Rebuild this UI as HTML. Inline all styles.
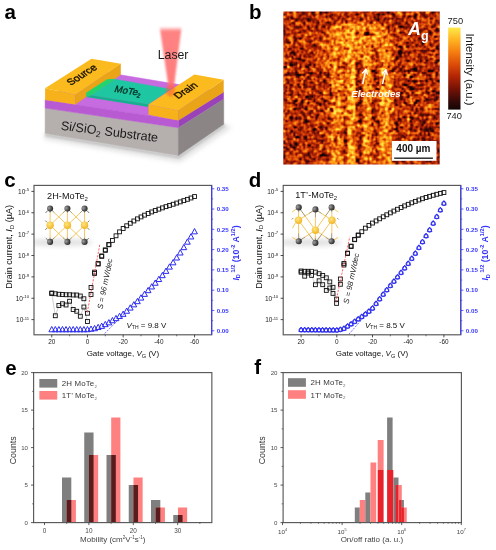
<!DOCTYPE html>
<html lang="en"><head><meta charset="utf-8"><title>MoTe2 transistor figure</title>
<style>html,body{margin:0;padding:0;background:#fff}svg{display:block}text{font-family:"Liberation Sans", sans-serif}</style>
</head><body>
<svg width="496" height="550" viewBox="0 0 496 550">
<rect width="496" height="550" fill="#fff"/>
<defs>
<linearGradient id="beam" x1="0" y1="0" x2="0" y2="1"><stop offset="0" stop-color="#ff7070" stop-opacity="0"/><stop offset="0.08" stop-color="#ff7c7c" stop-opacity="0.95"/><stop offset="1" stop-color="#ff7474" stop-opacity="0.95"/></linearGradient>
<filter id="blur1" x="-20%" y="-20%" width="140%" height="140%"><feGaussianBlur stdDeviation="0.9"/></filter><filter id="blurB" x="-30%" y="-10%" width="160%" height="120%"><feGaussianBlur stdDeviation="1.25"/></filter>
<filter id="blur2" x="-50%" y="-50%" width="200%" height="200%"><feGaussianBlur stdDeviation="2.5"/></filter>
<filter id="blur3" x="-50%" y="-50%" width="200%" height="200%"><feGaussianBlur stdDeviation="3"/></filter>
<radialGradient id="gAtom" cx="0.3" cy="0.4" r="0.75"><stop offset="0" stop-color="#a0a0a0"/><stop offset="0.55" stop-color="#555"/><stop offset="1" stop-color="#1e1e1e"/></radialGradient>
<radialGradient id="yAtom" cx="0.4" cy="0.35" r="0.7"><stop offset="0" stop-color="#ffe680"/><stop offset="1" stop-color="#f0b020"/></radialGradient>
<linearGradient id="cbar" x1="0" y1="0" x2="0" y2="1"><stop offset="0" stop-color="#ffe94a"/><stop offset="0.15" stop-color="#ffb322"/><stop offset="0.3" stop-color="#f57d10"/><stop offset="0.45" stop-color="#dc4c08"/><stop offset="0.6" stop-color="#b02405"/><stop offset="0.75" stop-color="#741205"/><stop offset="0.9" stop-color="#340a08"/><stop offset="1" stop-color="#120505"/></linearGradient>
<filter id="raman" x="0" y="0" width="100%" height="100%" color-interpolation-filters="sRGB"><feTurbulence type="fractalNoise" baseFrequency="0.27" numOctaves="3" seed="11" result="n"/><feColorMatrix in="n" type="matrix" values="2.6 0 0 0 -0.8  2.6 0 0 0 -0.8  2.6 0 0 0 -0.8  0 0 0 0 1" result="ng"/><feGaussianBlur in="SourceGraphic" stdDeviation="1.6" result="s"/><feComposite in="s" in2="ng" operator="arithmetic" k1="0" k2="1" k3="0.52" k4="-0.26" result="m"/><feComponentTransfer in="m"><feFuncR type="table" tableValues="0.05 0.30 0.58 0.80 0.93 0.98 1 1 1"/><feFuncG type="table" tableValues="0.01 0.03 0.09 0.20 0.36 0.55 0.74 0.88 0.95"/><feFuncB type="table" tableValues="0.01 0.01 0.01 0.02 0.03 0.05 0.10 0.22 0.40"/><feFuncA type="linear" slope="0" intercept="1"/></feComponentTransfer></filter>
<filter id="mapblur" x="-2%" y="-2%" width="104%" height="104%" color-interpolation-filters="sRGB"><feConvolveMatrix order="3" kernelMatrix="0 1 0 1 3 1 0 1 0" divisor="7" edgeMode="duplicate" preserveAlpha="true" result="s"/><feTurbulence type="fractalNoise" baseFrequency="0.55" numOctaves="1" seed="4" result="n"/><feColorMatrix in="n" type="matrix" values="1 0 0 0 0  1 0 0 0 0  1 0 0 0 0  0 0 0 0 1" result="ng"/><feComposite in="s" in2="ng" operator="arithmetic" k1="0" k2="1" k3="1.0" k4="-0.5"/><feComponentTransfer><feFuncR type="table" tableValues="0.071 0.137 0.204 0.288 0.371 0.455 0.533 0.612 0.690 0.748 0.805 0.863 0.895 0.928 0.961 0.974 0.987 1.000 1.000 1.000 1.000"/><feFuncG type="table" tableValues="0.020 0.029 0.039 0.050 0.060 0.071 0.094 0.118 0.141 0.193 0.246 0.298 0.362 0.426 0.490 0.561 0.631 0.702 0.773 0.843 0.914"/><feFuncB type="table" tableValues="0.020 0.025 0.031 0.027 0.024 0.020 0.020 0.020 0.020 0.024 0.027 0.031 0.042 0.052 0.063 0.086 0.110 0.133 0.186 0.238 0.290"/><feFuncA type="linear" slope="0" intercept="1"/></feComponentTransfer></filter>
<clipPath id="mapclip"><rect x="283.3" y="11.6" width="156.4" height="152.8"/></clipPath>
<clipPath id="clipc"><rect x="34" y="185.5" width="178" height="149"/></clipPath>
<clipPath id="clipd"><rect x="283.2" y="185.5" width="177.6" height="149"/></clipPath>
</defs>
<text x="4.5" y="19.3" font-size="20.5" font-weight="700" fill="#000">a</text>
<text x="249" y="18.8" font-size="20.5" font-weight="700" fill="#000">b</text>
<text x="4.3" y="187.3" font-size="20.5" font-weight="700" fill="#000">c</text>
<text x="248.8" y="187.3" font-size="20.5" font-weight="700" fill="#000">d</text>
<text x="5.2" y="375.2" font-size="20.5" font-weight="700" fill="#000">e</text>
<text x="254.2" y="374.3" font-size="20.5" font-weight="700" fill="#000">f</text>
<g id="panelA">
<polygon points="45,133 178.4,156 224,125 232,127 180,162 44,139" fill="#d8d8d8" filter="url(#blur2)" opacity="0.8"/>
<polygon points="45.1,133.3 178.4,155.5 223.75,124.3 226,126 179,158.5 45,136.3" fill="#bdbdbd" filter="url(#blur1)" opacity="0.9"/>
<polygon points="45.1,108.1 178.4,127.7 178.4,155.5 45.1,133.3" fill="#b5afad" stroke="#b5afad" stroke-width="0.5"/>
<polygon points="178.4,127.7 223.75,99.1 223.75,124.3 178.4,155.5" fill="#8b8685" stroke="#8b8685" stroke-width="0.5"/>
<polygon points="45.1,100.1 91.5,70 223.75,92 178.4,120.2" fill="#c66be0" stroke="#c66be0" stroke-width="0.5"/>
<polygon points="45.1,100.1 178.4,120.2 178.4,127.7 45.1,108.1" fill="#b85bd2" stroke="#b85bd2" stroke-width="0.5"/>
<polygon points="178.4,120.2 223.75,92 223.75,99.1 178.4,127.7" fill="#9a43b8"/>
<polygon points="115.3,79.2 170.6,89.3 148.4,104.2 91.1,95.3" fill="#1ec7a2" stroke="#1ec7a2" stroke-width="0.4"/>
<polygon points="91.1,95.3 148.4,104.2 148.4,107.0 86.1,97.1" fill="#17b08e"/>
<polygon points="105,77 115.3,79.2 91.1,95.3 86.1,97.1 84,92" fill="#23d46c"/>
<polygon points="159.6,26.5 181.6,26.5 173.9,88 168.7,88" fill="url(#beam)" filter="url(#blurB)"/>
<polygon points="45.1,88.3 75.4,94.8 75.4,104.5 45.1,100.1" fill="#f7b21b"/>
<polygon points="75.4,94.8 120.8,63.6 120.8,74.7 115.3,78.7 107.2,79.2 86.1,92.8 86.1,97.1 75.4,104.5" fill="#e9a418"/>
<polygon points="45.1,88.3 91.5,58.7 120.8,63.7 75.4,94.8" fill="#fbbb1e"/>
<polygon points="148.5,104.4 178.3,110.4 178.3,120.5 148.5,114.8" fill="#f7b21b"/>
<polygon points="178.3,110.4 223.7,79.8 223.7,92.3 178.3,120.5" fill="#e9a418"/>
<polygon points="148.5,104.4 194.4,74.5 223.7,79.8 178.3,110.4" fill="#fbbb1e"/>
<ellipse cx="170.5" cy="90.5" rx="4.5" ry="6" fill="#ff5a3a" opacity="0.55" filter="url(#blur1)"/>
<text x="173.1" y="58.6" font-size="12.3" text-anchor="middle" fill="#1a1a1a">Laser</text>
<text transform="matrix(0.843,-0.538,0.744,0.668,84.3,77.1)" font-size="10.2" text-anchor="middle" fill="#1a1200" stroke="#1a1200" stroke-width="0.4">Source</text>
<text transform="matrix(0.838,-0.546,0.751,0.660,188.3,92.7)" font-size="10.2" text-anchor="middle" fill="#1a1200" stroke="#1a1200" stroke-width="0.4">Drain</text>
<text transform="matrix(0.988,0.153,-0.345,0.939,127.0,93.9)" font-size="9.6" text-anchor="middle" fill="#0b2a22" stroke="#0b2a22" stroke-width="0.3">MoTe<tspan font-size="6" dy="2">2</tspan></text>
<text transform="translate(60.5,129.7) rotate(7.2)" font-size="12.6" fill="#1a1a1a">Si/SiO<tspan font-size="8.5" dy="2.5">2</tspan><tspan dy="-2.5"> Substrate</tspan></text>
</g>
<g id="panelB">
<g clip-path="url(#mapclip)">
<g filter="url(#mapblur)" transform="translate(283.3,11.6) scale(2.00513,2.01053)">
<rect x="-2" y="-2" width="82" height="80" fill="#707070"/>
<path fill="#050505" stroke="#050505" stroke-width="0.08" d="M68 0h1v1h-1zM70 0h1v1h-1zM24 1h1v1h-1zM36 1h1v1h-1zM46 1h1v1h-1zM49 1h2v1h-2zM21 2h1v1h-1zM47 2h1v1h-1zM2 3h1v1h-1zM12 3h1v1h-1zM47 3h1v1h-1zM54 3h1v1h-1zM74 3h1v1h-1zM12 4h1v1h-1zM77 5h1v1h-1zM23 6h1v1h-1zM75 6h1v1h-1zM5 7h1v1h-1zM58 7h1v1h-1zM75 7h1v1h-1zM55 8h1v1h-1zM70 8h1v1h-1zM0 9h1v1h-1zM55 9h1v1h-1zM62 9h1v1h-1zM19 10h1v1h-1zM40 10h3v1h-3zM58 10h1v1h-1zM20 11h1v1h-1zM40 11h3v1h-3zM13 12h1v1h-1zM71 12h1v1h-1zM75 12h2v1h-2zM8 13h1v1h-1zM62 13h1v1h-1zM69 14h1v1h-1zM3 15h1v1h-1zM64 15h1v1h-1zM69 15h1v1h-1zM14 17h1v1h-1zM57 17h2v1h-2zM70 17h1v1h-1zM8 18h1v1h-1zM76 18h1v1h-1zM44 19h1v1h-1zM70 19h1v1h-1zM73 19h1v1h-1zM4 20h1v1h-1zM57 20h1v1h-1zM5 21h1v1h-1zM76 21h1v1h-1zM4 22h1v1h-1zM57 22h2v1h-2zM71 22h1v1h-1zM4 23h1v1h-1zM73 23h1v1h-1zM49 25h1v1h-1zM55 25h1v1h-1zM75 25h2v1h-2zM5 26h1v1h-1zM15 26h1v1h-1zM0 27h2v1h-2zM8 27h1v1h-1zM11 27h2v1h-2zM59 27h1v1h-1zM64 28h2v1h-2zM6 29h1v1h-1zM66 29h1v1h-1zM6 30h1v1h-1zM12 30h3v1h-3zM22 30h1v1h-1zM46 30h1v1h-1zM69 30h1v1h-1zM7 31h1v1h-1zM22 31h1v1h-1zM60 31h1v1h-1zM12 32h1v1h-1zM63 32h1v1h-1zM13 33h1v1h-1zM15 33h1v1h-1zM61 33h1v1h-1zM73 33h1v1h-1zM10 34h1v1h-1zM20 34h1v1h-1zM62 34h1v1h-1zM65 34h1v1h-1zM71 34h1v1h-1zM74 34h1v1h-1zM77 34h1v1h-1zM10 35h1v1h-1zM47 35h1v1h-1zM7 36h1v1h-1zM10 36h1v1h-1zM60 36h2v1h-2zM8 37h1v1h-1zM62 37h2v1h-2zM36 38h1v1h-1zM38 38h1v1h-1zM59 38h1v1h-1zM64 38h2v1h-2zM74 39h2v1h-2zM14 40h1v1h-1zM76 40h1v1h-1zM7 41h1v1h-1zM11 42h1v1h-1zM14 42h1v1h-1zM72 42h1v1h-1zM76 42h1v1h-1zM12 43h1v1h-1zM15 43h1v1h-1zM60 43h1v1h-1zM6 44h1v1h-1zM9 44h1v1h-1zM15 44h1v1h-1zM20 44h1v1h-1zM66 44h1v1h-1zM5 45h1v1h-1zM12 45h1v1h-1zM38 45h1v1h-1zM44 45h1v1h-1zM66 45h1v1h-1zM6 46h1v1h-1zM18 46h1v1h-1zM37 46h1v1h-1zM56 46h1v1h-1zM63 46h1v1h-1zM65 46h1v1h-1zM5 48h1v1h-1zM11 48h1v1h-1zM24 49h1v1h-1zM67 49h1v1h-1zM2 50h1v1h-1zM49 50h1v1h-1zM38 51h2v1h-2zM57 51h1v1h-1zM75 51h1v1h-1zM44 52h1v1h-1zM63 52h1v1h-1zM11 53h1v1h-1zM71 53h1v1h-1zM1 54h1v1h-1zM11 54h1v1h-1zM37 54h2v1h-2zM57 54h1v1h-1zM56 55h1v1h-1zM58 55h1v1h-1zM70 55h1v1h-1zM21 57h1v1h-1zM58 57h2v1h-2zM76 57h2v1h-2zM7 58h1v1h-1zM15 58h1v1h-1zM55 58h1v1h-1zM68 58h1v1h-1zM73 58h1v1h-1zM4 59h1v1h-1zM30 59h1v1h-1zM72 59h3v1h-3zM5 60h1v1h-1zM15 60h1v1h-1zM17 60h1v1h-1zM38 60h1v1h-1zM70 60h1v1h-1zM72 60h1v1h-1zM5 61h1v1h-1zM46 61h1v1h-1zM61 61h1v1h-1zM6 62h2v1h-2zM11 62h1v1h-1zM57 62h1v1h-1zM3 63h1v1h-1zM16 63h1v1h-1zM67 63h1v1h-1zM70 63h1v1h-1zM0 64h1v1h-1zM46 64h1v1h-1zM19 65h1v1h-1zM72 65h1v1h-1zM74 65h1v1h-1zM3 66h1v1h-1zM6 66h1v1h-1zM12 66h1v1h-1zM38 66h1v1h-1zM55 66h1v1h-1zM63 66h2v1h-2zM0 67h1v1h-1zM5 67h1v1h-1zM55 67h1v1h-1zM63 67h1v1h-1zM7 68h1v1h-1zM37 68h1v1h-1zM73 68h1v1h-1zM0 69h1v1h-1zM54 69h1v1h-1zM77 69h1v1h-1zM9 70h1v1h-1zM12 70h1v1h-1zM38 71h1v1h-1zM58 71h1v1h-1zM65 71h1v1h-1zM45 72h1v1h-1zM15 73h1v1h-1zM37 73h1v1h-1zM37 74h1v1h-1zM56 74h1v1h-1zM59 74h1v1h-1zM71 74h1v1h-1zM73 74h1v1h-1z"/>
<path fill="#101010" stroke="#101010" stroke-width="0.08" d="M14 0h1v1h-1zM75 0h1v1h-1zM66 1h1v1h-1zM55 2h1v1h-1zM4 3h1v1h-1zM73 3h1v1h-1zM34 4h1v1h-1zM59 4h1v1h-1zM76 4h1v1h-1zM22 5h1v1h-1zM12 7h1v1h-1zM57 7h1v1h-1zM64 7h1v1h-1zM66 11h1v1h-1zM0 12h1v1h-1zM61 15h2v1h-2zM5 19h1v1h-1zM57 19h1v1h-1zM58 21h1v1h-1zM10 22h1v1h-1zM56 22h1v1h-1zM6 23h1v1h-1zM8 23h1v1h-1zM45 23h1v1h-1zM68 23h1v1h-1zM62 24h1v1h-1zM68 24h1v1h-1zM5 25h1v1h-1zM12 26h2v1h-2zM66 28h1v1h-1zM37 29h1v1h-1zM60 29h1v1h-1zM74 29h1v1h-1zM7 30h1v1h-1zM70 30h1v1h-1zM20 31h1v1h-1zM76 31h1v1h-1zM64 32h1v1h-1zM9 33h1v1h-1zM45 33h1v1h-1zM55 33h1v1h-1zM74 33h1v1h-1zM8 34h1v1h-1zM69 34h1v1h-1zM2 35h1v1h-1zM67 36h1v1h-1zM46 38h1v1h-1zM68 38h1v1h-1zM1 39h1v1h-1zM4 39h1v1h-1zM23 40h1v1h-1zM30 41h1v1h-1zM59 42h1v1h-1zM77 42h1v1h-1zM19 43h1v1h-1zM67 44h1v1h-1zM16 45h1v1h-1zM60 45h1v1h-1zM45 46h1v1h-1zM44 48h1v1h-1zM77 48h1v1h-1zM69 53h1v1h-1zM47 54h1v1h-1zM63 54h1v1h-1zM44 55h1v1h-1zM76 55h1v1h-1zM8 57h1v1h-1zM20 57h1v1h-1zM21 58h1v1h-1zM70 59h1v1h-1zM27 60h1v1h-1zM68 61h1v1h-1zM72 61h1v1h-1zM10 63h1v1h-1zM11 64h1v1h-1zM31 64h1v1h-1zM65 64h1v1h-1zM75 64h1v1h-1zM64 65h1v1h-1zM16 67h1v1h-1zM73 67h1v1h-1zM18 69h1v1h-1zM18 71h1v1h-1zM21 71h1v1h-1zM10 72h1v1h-1zM77 72h1v1h-1zM17 73h1v1h-1zM36 73h1v1h-1zM59 73h1v1h-1zM73 73h1v1h-1zM60 74h1v1h-1z"/>
<path fill="#1b1b1b" stroke="#1b1b1b" stroke-width="0.08" d="M18 0h1v1h-1zM52 0h1v1h-1zM37 1h1v1h-1zM45 1h1v1h-1zM32 2h1v1h-1zM45 2h1v1h-1zM5 3h1v1h-1zM38 3h1v1h-1zM50 3h1v1h-1zM58 3h1v1h-1zM1 5h1v1h-1zM17 5h1v1h-1zM68 5h1v1h-1zM59 7h1v1h-1zM66 7h1v1h-1zM52 8h1v1h-1zM71 8h1v1h-1zM76 8h1v1h-1zM14 9h1v1h-1zM52 9h1v1h-1zM59 10h1v1h-1zM76 14h1v1h-1zM16 17h1v1h-1zM44 17h1v1h-1zM61 17h1v1h-1zM56 18h1v1h-1zM16 20h1v1h-1zM60 20h1v1h-1zM62 21h1v1h-1zM8 22h1v1h-1zM13 22h1v1h-1zM10 24h1v1h-1zM77 24h1v1h-1zM1 25h1v1h-1zM3 26h2v1h-2zM57 26h1v1h-1zM18 27h1v1h-1zM56 27h1v1h-1zM44 29h1v1h-1zM72 29h1v1h-1zM62 30h1v1h-1zM8 31h1v1h-1zM71 31h1v1h-1zM71 32h1v1h-1zM68 34h1v1h-1zM38 35h1v1h-1zM74 35h1v1h-1zM23 36h1v1h-1zM36 36h2v1h-2zM10 37h1v1h-1zM56 37h1v1h-1zM65 37h1v1h-1zM14 38h1v1h-1zM39 38h1v1h-1zM47 38h1v1h-1zM63 38h1v1h-1zM17 39h1v1h-1zM60 39h1v1h-1zM71 39h1v1h-1zM2 41h1v1h-1zM23 41h1v1h-1zM38 42h1v1h-1zM9 45h1v1h-1zM37 45h1v1h-1zM65 45h1v1h-1zM9 46h1v1h-1zM64 47h1v1h-1zM66 48h1v1h-1zM2 49h1v1h-1zM7 49h1v1h-1zM13 51h1v1h-1zM3 52h1v1h-1zM14 52h1v1h-1zM61 52h1v1h-1zM6 53h1v1h-1zM45 54h1v1h-1zM65 54h1v1h-1zM68 54h1v1h-1zM47 55h1v1h-1zM55 55h1v1h-1zM74 55h1v1h-1zM64 56h1v1h-1zM69 56h1v1h-1zM66 57h1v1h-1zM74 58h1v1h-1zM19 61h1v1h-1zM44 61h1v1h-1zM56 61h1v1h-1zM19 62h1v1h-1zM60 62h1v1h-1zM74 62h1v1h-1zM38 63h1v1h-1zM47 65h1v1h-1zM57 65h2v1h-2zM63 65h1v1h-1zM74 66h1v1h-1zM14 67h1v1h-1zM77 68h1v1h-1zM4 69h1v1h-1zM16 70h1v1h-1zM19 71h2v1h-2zM47 71h1v1h-1zM13 72h1v1h-1zM8 73h1v1h-1zM72 73h1v1h-1zM11 74h1v1h-1zM55 74h1v1h-1z"/>
<path fill="#252525" stroke="#252525" stroke-width="0.08" d="M10 0h1v1h-1zM74 0h1v1h-1zM40 1h1v1h-1zM70 1h2v1h-2zM74 1h1v1h-1zM13 2h1v1h-1zM28 2h1v1h-1zM60 2h1v1h-1zM41 3h1v1h-1zM59 3h1v1h-1zM13 4h1v1h-1zM61 4h1v1h-1zM51 5h1v1h-1zM21 6h1v1h-1zM61 7h1v1h-1zM12 8h1v1h-1zM63 8h1v1h-1zM7 10h2v1h-2zM68 10h1v1h-1zM74 10h1v1h-1zM0 11h1v1h-1zM63 11h1v1h-1zM56 12h1v1h-1zM1 13h1v1h-1zM65 14h1v1h-1zM2 15h1v1h-1zM73 15h1v1h-1zM15 16h1v1h-1zM15 18h1v1h-1zM77 18h1v1h-1zM20 19h1v1h-1zM67 19h3v1h-3zM3 20h1v1h-1zM9 20h1v1h-1zM1 21h1v1h-1zM56 21h2v1h-2zM67 21h1v1h-1zM70 22h1v1h-1zM46 24h1v1h-1zM3 25h1v1h-1zM66 25h1v1h-1zM68 25h1v1h-1zM8 26h1v1h-1zM65 26h1v1h-1zM56 28h1v1h-1zM45 29h1v1h-1zM65 29h1v1h-1zM20 30h1v1h-1zM37 30h1v1h-1zM6 31h1v1h-1zM6 32h1v1h-1zM37 34h1v1h-1zM57 34h1v1h-1zM20 35h2v1h-2zM3 36h2v1h-2zM11 36h1v1h-1zM46 36h1v1h-1zM1 37h1v1h-1zM7 37h1v1h-1zM15 37h1v1h-1zM38 37h1v1h-1zM20 38h1v1h-1zM23 38h1v1h-1zM67 38h1v1h-1zM72 38h1v1h-1zM39 39h1v1h-1zM4 40h1v1h-1zM18 40h1v1h-1zM58 40h2v1h-2zM64 40h1v1h-1zM72 40h1v1h-1zM65 41h1v1h-1zM7 42h1v1h-1zM13 43h1v1h-1zM64 43h1v1h-1zM55 44h1v1h-1zM70 44h1v1h-1zM4 45h1v1h-1zM55 45h1v1h-1zM61 45h1v1h-1zM8 46h1v1h-1zM62 46h1v1h-1zM9 47h1v1h-1zM7 48h1v1h-1zM68 48h1v1h-1zM16 49h1v1h-1zM18 49h1v1h-1zM44 49h1v1h-1zM66 49h1v1h-1zM63 50h1v1h-1zM17 51h1v1h-1zM6 52h1v1h-1zM10 52h1v1h-1zM22 52h1v1h-1zM60 52h1v1h-1zM16 53h1v1h-1zM30 53h1v1h-1zM57 53h1v1h-1zM76 53h1v1h-1zM12 54h1v1h-1zM46 54h1v1h-1zM70 54h1v1h-1zM22 55h1v1h-1zM77 55h1v1h-1zM44 56h1v1h-1zM5 57h2v1h-2zM12 57h1v1h-1zM17 57h1v1h-1zM19 57h1v1h-1zM74 57h1v1h-1zM31 58h1v1h-1zM56 58h1v1h-1zM12 59h1v1h-1zM57 59h1v1h-1zM8 61h1v1h-1zM57 61h1v1h-1zM59 61h1v1h-1zM69 61h1v1h-1zM0 62h1v1h-1zM15 63h1v1h-1zM57 63h1v1h-1zM71 63h1v1h-1zM19 64h1v1h-1zM30 64h1v1h-1zM37 64h1v1h-1zM59 64h1v1h-1zM0 65h1v1h-1zM6 65h1v1h-1zM30 65h1v1h-1zM61 65h1v1h-1zM10 66h1v1h-1zM13 66h1v1h-1zM31 66h1v1h-1zM37 66h1v1h-1zM45 66h1v1h-1zM10 67h1v1h-1zM62 67h1v1h-1zM59 68h1v1h-1zM30 69h1v1h-1zM19 70h1v1h-1zM31 70h1v1h-1zM75 70h1v1h-1zM74 71h2v1h-2zM10 73h1v1h-1zM30 73h1v1h-1zM38 73h1v1h-1zM60 73h1v1h-1zM12 74h3v1h-3zM77 74h1v1h-1z"/>
<path fill="#303030" stroke="#303030" stroke-width="0.08" d="M15 0h1v1h-1zM20 0h3v1h-3zM10 1h1v1h-1zM47 1h1v1h-1zM2 2h1v1h-1zM38 2h1v1h-1zM46 2h1v1h-1zM63 2h1v1h-1zM75 2h1v1h-1zM6 4h1v1h-1zM27 4h1v1h-1zM29 4h1v1h-1zM31 4h1v1h-1zM50 4h1v1h-1zM64 4h1v1h-1zM21 5h1v1h-1zM61 5h1v1h-1zM65 5h1v1h-1zM73 5h1v1h-1zM3 6h1v1h-1zM5 6h1v1h-1zM10 6h1v1h-1zM54 6h1v1h-1zM4 7h1v1h-1zM52 7h1v1h-1zM5 8h1v1h-1zM22 8h1v1h-1zM61 8h1v1h-1zM64 8h2v1h-2zM73 9h1v1h-1zM67 10h1v1h-1zM73 10h1v1h-1zM55 11h1v1h-1zM68 11h1v1h-1zM6 13h1v1h-1zM12 13h1v1h-1zM15 13h1v1h-1zM58 13h1v1h-1zM68 13h1v1h-1zM57 14h1v1h-1zM2 18h1v1h-1zM12 18h1v1h-1zM45 18h1v1h-1zM58 19h1v1h-1zM72 19h1v1h-1zM8 21h1v1h-1zM12 21h1v1h-1zM46 21h1v1h-1zM60 21h1v1h-1zM46 22h1v1h-1zM77 22h1v1h-1zM56 23h1v1h-1zM61 23h1v1h-1zM61 24h1v1h-1zM19 25h1v1h-1zM49 26h1v1h-1zM15 27h1v1h-1zM66 27h1v1h-1zM74 27h1v1h-1zM12 28h1v1h-1zM37 28h1v1h-1zM55 28h1v1h-1zM60 28h1v1h-1zM63 28h1v1h-1zM76 28h1v1h-1zM54 29h1v1h-1zM62 29h1v1h-1zM64 29h1v1h-1zM2 30h1v1h-1zM45 30h1v1h-1zM76 30h1v1h-1zM5 31h1v1h-1zM17 31h2v1h-2zM21 31h1v1h-1zM65 31h1v1h-1zM72 31h1v1h-1zM7 32h1v1h-1zM17 32h1v1h-1zM47 32h1v1h-1zM1 33h1v1h-1zM46 33h2v1h-2zM63 33h1v1h-1zM17 34h1v1h-1zM66 34h1v1h-1zM50 36h1v1h-1zM37 37h1v1h-1zM66 38h1v1h-1zM12 40h1v1h-1zM56 40h1v1h-1zM62 40h1v1h-1zM77 40h1v1h-1zM3 41h1v1h-1zM14 41h1v1h-1zM19 41h1v1h-1zM62 41h1v1h-1zM72 41h1v1h-1zM76 41h1v1h-1zM12 42h1v1h-1zM60 42h1v1h-1zM62 42h1v1h-1zM75 42h1v1h-1zM38 43h1v1h-1zM75 43h1v1h-1zM5 44h1v1h-1zM38 44h1v1h-1zM75 44h1v1h-1zM1 45h1v1h-1zM71 45h2v1h-2zM1 50h1v1h-1zM57 50h1v1h-1zM67 50h1v1h-1zM22 51h1v1h-1zM68 51h1v1h-1zM72 51h1v1h-1zM76 51h1v1h-1zM13 52h1v1h-1zM30 52h1v1h-1zM10 53h1v1h-1zM38 53h1v1h-1zM70 53h1v1h-1zM2 54h1v1h-1zM56 54h1v1h-1zM58 54h1v1h-1zM13 55h1v1h-1zM16 56h1v1h-1zM30 56h1v1h-1zM56 56h1v1h-1zM74 56h1v1h-1zM76 56h1v1h-1zM71 57h1v1h-1zM1 58h1v1h-1zM11 58h1v1h-1zM19 58h1v1h-1zM71 59h1v1h-1zM14 60h1v1h-1zM68 60h1v1h-1zM39 61h1v1h-1zM66 61h1v1h-1zM38 62h1v1h-1zM67 62h1v1h-1zM11 63h1v1h-1zM56 63h1v1h-1zM65 63h1v1h-1zM2 64h1v1h-1zM45 64h1v1h-1zM70 64h1v1h-1zM2 65h1v1h-1zM31 65h1v1h-1zM55 65h1v1h-1zM59 65h1v1h-1zM5 66h1v1h-1zM16 66h1v1h-1zM1 67h1v1h-1zM37 67h1v1h-1zM58 67h1v1h-1zM74 67h2v1h-2zM19 68h1v1h-1zM56 68h1v1h-1zM71 68h1v1h-1zM59 69h1v1h-1zM14 70h1v1h-1zM30 70h1v1h-1zM73 70h1v1h-1zM6 71h1v1h-1zM14 71h1v1h-1zM57 71h1v1h-1zM73 71h1v1h-1zM54 72h1v1h-1zM60 72h1v1h-1zM69 73h1v1h-1zM71 73h1v1h-1zM76 73h1v1h-1zM1 74h1v1h-1zM31 74h1v1h-1zM67 74h1v1h-1z"/>
<path fill="#3a3a3a" stroke="#3a3a3a" stroke-width="0.08" d="M53 0h1v1h-1zM63 0h1v1h-1zM11 1h1v1h-1zM15 1h1v1h-1zM28 1h1v1h-1zM30 1h1v1h-1zM53 1h1v1h-1zM55 1h1v1h-1zM15 2h1v1h-1zM33 2h1v1h-1zM54 2h1v1h-1zM65 2h1v1h-1zM29 3h1v1h-1zM45 3h1v1h-1zM56 3h1v1h-1zM26 4h1v1h-1zM38 4h1v1h-1zM47 4h1v1h-1zM56 4h1v1h-1zM58 4h1v1h-1zM10 5h1v1h-1zM31 5h1v1h-1zM56 5h1v1h-1zM18 6h1v1h-1zM49 6h1v1h-1zM57 6h1v1h-1zM69 6h1v1h-1zM10 7h1v1h-1zM20 7h1v1h-1zM46 7h1v1h-1zM74 7h1v1h-1zM4 9h1v1h-1zM49 9h1v1h-1zM4 10h1v1h-1zM20 10h1v1h-1zM37 10h1v1h-1zM60 10h1v1h-1zM9 11h1v1h-1zM5 12h1v1h-1zM63 14h1v1h-1zM5 15h1v1h-1zM67 15h1v1h-1zM8 16h1v1h-1zM14 16h1v1h-1zM56 16h1v1h-1zM1 17h1v1h-1zM4 17h2v1h-2zM56 17h1v1h-1zM76 17h1v1h-1zM0 18h1v1h-1zM3 18h1v1h-1zM9 18h1v1h-1zM30 18h1v1h-1zM59 18h1v1h-1zM72 18h1v1h-1zM63 19h1v1h-1zM74 19h1v1h-1zM5 20h1v1h-1zM11 20h1v1h-1zM58 20h1v1h-1zM3 21h1v1h-1zM47 21h1v1h-1zM74 21h1v1h-1zM77 21h1v1h-1zM11 22h1v1h-1zM67 22h1v1h-1zM7 23h1v1h-1zM65 23h1v1h-1zM9 24h1v1h-1zM38 24h1v1h-1zM54 24h1v1h-1zM71 24h1v1h-1zM4 25h1v1h-1zM14 25h1v1h-1zM58 25h1v1h-1zM70 25h1v1h-1zM31 26h1v1h-1zM74 26h1v1h-1zM30 27h1v1h-1zM60 27h1v1h-1zM69 27h1v1h-1zM18 28h1v1h-1zM69 28h1v1h-1zM77 28h1v1h-1zM17 29h1v1h-1zM73 29h1v1h-1zM18 30h1v1h-1zM10 31h1v1h-1zM45 31h1v1h-1zM18 32h1v1h-1zM22 32h1v1h-1zM55 32h1v1h-1zM65 32h1v1h-1zM36 33h1v1h-1zM75 33h1v1h-1zM50 34h1v1h-1zM64 34h1v1h-1zM1 35h1v1h-1zM13 35h1v1h-1zM46 35h1v1h-1zM55 35h1v1h-1zM63 35h1v1h-1zM49 36h1v1h-1zM59 36h1v1h-1zM58 37h1v1h-1zM15 38h1v1h-1zM75 38h1v1h-1zM3 39h1v1h-1zM23 39h1v1h-1zM36 39h1v1h-1zM43 39h1v1h-1zM0 40h1v1h-1zM44 40h1v1h-1zM46 40h1v1h-1zM61 40h1v1h-1zM1 41h1v1h-1zM66 41h1v1h-1zM26 42h1v1h-1zM36 42h1v1h-1zM70 42h1v1h-1zM59 43h1v1h-1zM71 43h1v1h-1zM73 43h1v1h-1zM76 43h1v1h-1zM21 44h1v1h-1zM44 44h1v1h-1zM71 44h1v1h-1zM73 44h1v1h-1zM3 45h1v1h-1zM20 45h1v1h-1zM20 46h1v1h-1zM61 46h1v1h-1zM11 47h1v1h-1zM45 47h1v1h-1zM6 48h1v1h-1zM21 48h1v1h-1zM36 48h1v1h-1zM64 48h1v1h-1zM75 48h2v1h-2zM9 49h1v1h-1zM8 50h1v1h-1zM10 50h1v1h-1zM13 50h2v1h-2zM68 50h1v1h-1zM10 51h1v1h-1zM1 52h1v1h-1zM4 52h1v1h-1zM54 52h1v1h-1zM75 52h1v1h-1zM19 53h1v1h-1zM23 53h1v1h-1zM45 53h1v1h-1zM55 53h1v1h-1zM58 53h1v1h-1zM40 54h1v1h-1zM73 54h1v1h-1zM10 55h1v1h-1zM30 55h1v1h-1zM68 55h1v1h-1zM11 56h1v1h-1zM20 56h1v1h-1zM47 56h1v1h-1zM71 56h1v1h-1zM7 57h1v1h-1zM16 58h1v1h-1zM22 59h1v1h-1zM53 59h1v1h-1zM64 59h1v1h-1zM30 60h2v1h-2zM46 60h1v1h-1zM60 60h1v1h-1zM2 61h1v1h-1zM38 61h1v1h-1zM45 61h1v1h-1zM8 62h1v1h-1zM26 62h1v1h-1zM30 62h1v1h-1zM2 63h1v1h-1zM9 63h1v1h-1zM13 63h1v1h-1zM66 63h1v1h-1zM74 63h1v1h-1zM18 65h1v1h-1zM38 65h1v1h-1zM17 66h1v1h-1zM76 66h1v1h-1zM4 67h1v1h-1zM20 68h1v1h-1zM44 68h1v1h-1zM28 69h1v1h-1zM6 70h1v1h-1zM54 70h1v1h-1zM0 71h1v1h-1zM56 71h1v1h-1zM77 71h1v1h-1zM0 72h1v1h-1zM16 72h1v1h-1zM18 72h1v1h-1zM61 72h1v1h-1zM76 72h1v1h-1zM11 73h1v1h-1zM46 73h1v1h-1zM74 73h1v1h-1zM30 74h1v1h-1zM36 74h1v1h-1zM57 74h1v1h-1zM2 75h1v1h-1zM11 75h1v1h-1zM38 75h1v1h-1zM56 75h1v1h-1z"/>
<path fill="#454545" stroke="#454545" stroke-width="0.08" d="M6 0h2v1h-2zM54 0h1v1h-1zM0 1h1v1h-1zM8 1h1v1h-1zM54 1h1v1h-1zM4 2h1v1h-1zM8 2h1v1h-1zM10 2h1v1h-1zM23 2h1v1h-1zM56 2h1v1h-1zM9 3h1v1h-1zM11 3h1v1h-1zM13 3h2v1h-2zM24 3h1v1h-1zM30 3h1v1h-1zM39 3h1v1h-1zM52 3h1v1h-1zM57 3h1v1h-1zM65 3h1v1h-1zM7 4h1v1h-1zM16 4h2v1h-2zM55 4h1v1h-1zM67 4h1v1h-1zM4 5h1v1h-1zM16 5h1v1h-1zM20 5h1v1h-1zM23 5h1v1h-1zM29 5h1v1h-1zM43 5h1v1h-1zM8 6h1v1h-1zM60 6h1v1h-1zM3 7h1v1h-1zM60 7h1v1h-1zM7 8h1v1h-1zM41 8h1v1h-1zM54 8h1v1h-1zM8 9h1v1h-1zM19 9h1v1h-1zM64 9h1v1h-1zM72 11h1v1h-1zM55 12h1v1h-1zM69 13h1v1h-1zM6 14h1v1h-1zM15 14h1v1h-1zM17 14h1v1h-1zM1 15h1v1h-1zM68 15h1v1h-1zM44 16h1v1h-1zM59 17h1v1h-1zM66 17h1v1h-1zM68 17h1v1h-1zM16 18h1v1h-1zM51 19h1v1h-1zM64 19h2v1h-2zM71 19h1v1h-1zM14 20h1v1h-1zM40 20h1v1h-1zM59 20h1v1h-1zM14 21h1v1h-1zM68 21h1v1h-1zM71 21h1v1h-1zM3 22h1v1h-1zM47 22h1v1h-1zM69 22h1v1h-1zM5 23h1v1h-1zM55 24h1v1h-1zM60 24h1v1h-1zM76 24h1v1h-1zM2 25h1v1h-1zM8 25h1v1h-1zM11 25h1v1h-1zM13 25h1v1h-1zM37 25h1v1h-1zM6 26h1v1h-1zM14 27h1v1h-1zM46 27h1v1h-1zM48 27h1v1h-1zM52 27h1v1h-1zM57 27h1v1h-1zM68 27h1v1h-1zM76 27h2v1h-2zM17 28h1v1h-1zM31 28h1v1h-1zM36 28h1v1h-1zM38 28h1v1h-1zM68 28h1v1h-1zM22 29h1v1h-1zM57 29h1v1h-1zM3 30h1v1h-1zM5 30h1v1h-1zM15 30h1v1h-1zM30 30h1v1h-1zM38 30h1v1h-1zM59 30h1v1h-1zM9 31h1v1h-1zM13 32h1v1h-1zM76 32h1v1h-1zM17 33h1v1h-1zM57 33h1v1h-1zM72 33h1v1h-1zM77 33h1v1h-1zM63 34h1v1h-1zM14 35h1v1h-1zM75 35h1v1h-1zM0 36h1v1h-1zM17 36h1v1h-1zM20 36h1v1h-1zM42 36h1v1h-1zM68 36h1v1h-1zM3 37h1v1h-1zM11 37h1v1h-1zM14 37h1v1h-1zM20 37h1v1h-1zM72 37h1v1h-1zM71 38h1v1h-1zM74 38h1v1h-1zM7 40h1v1h-1zM17 40h1v1h-1zM20 41h1v1h-1zM74 41h1v1h-1zM19 42h1v1h-1zM44 42h1v1h-1zM54 42h1v1h-1zM61 42h1v1h-1zM73 42h1v1h-1zM72 43h1v1h-1zM45 44h1v1h-1zM64 44h1v1h-1zM8 45h1v1h-1zM56 45h1v1h-1zM14 46h1v1h-1zM36 46h1v1h-1zM38 46h1v1h-1zM1 47h1v1h-1zM6 47h1v1h-1zM30 47h1v1h-1zM69 47h1v1h-1zM8 48h1v1h-1zM23 48h1v1h-1zM45 48h1v1h-1zM67 48h1v1h-1zM0 49h1v1h-1zM17 49h1v1h-1zM19 49h1v1h-1zM68 49h1v1h-1zM33 50h1v1h-1zM44 50h2v1h-2zM65 50h1v1h-1zM37 51h1v1h-1zM63 51h1v1h-1zM67 51h1v1h-1zM11 52h1v1h-1zM16 52h1v1h-1zM45 52h1v1h-1zM59 52h1v1h-1zM64 52h1v1h-1zM69 52h1v1h-1zM77 52h1v1h-1zM8 53h1v1h-1zM22 53h1v1h-1zM64 53h1v1h-1zM67 53h1v1h-1zM10 54h1v1h-1zM13 54h1v1h-1zM24 54h1v1h-1zM11 55h1v1h-1zM36 55h1v1h-1zM13 56h1v1h-1zM57 56h1v1h-1zM63 56h1v1h-1zM47 57h1v1h-1zM54 57h1v1h-1zM67 57h2v1h-2zM14 58h1v1h-1zM63 58h1v1h-1zM8 59h1v1h-1zM15 59h1v1h-1zM17 59h1v1h-1zM47 59h1v1h-1zM65 59h1v1h-1zM7 60h1v1h-1zM47 60h1v1h-1zM63 60h1v1h-1zM14 61h1v1h-1zM20 61h1v1h-1zM63 61h1v1h-1zM70 61h1v1h-1zM10 62h1v1h-1zM18 62h1v1h-1zM44 62h1v1h-1zM56 62h1v1h-1zM70 62h1v1h-1zM6 63h1v1h-1zM46 63h1v1h-1zM64 63h1v1h-1zM6 64h1v1h-1zM21 64h1v1h-1zM77 64h1v1h-1zM3 65h1v1h-1zM5 65h1v1h-1zM65 65h1v1h-1zM67 65h1v1h-1zM30 66h1v1h-1zM56 66h1v1h-1zM59 66h1v1h-1zM3 67h1v1h-1zM6 67h1v1h-1zM54 67h1v1h-1zM60 67h1v1h-1zM1 68h2v1h-2zM30 68h1v1h-1zM46 68h1v1h-1zM1 69h1v1h-1zM61 69h1v1h-1zM66 69h1v1h-1zM38 70h1v1h-1zM47 70h1v1h-1zM67 70h1v1h-1zM77 70h1v1h-1zM2 71h1v1h-1zM13 71h1v1h-1zM15 71h1v1h-1zM45 71h2v1h-2zM17 72h1v1h-1zM0 73h1v1h-1zM12 73h1v1h-1zM21 73h1v1h-1zM75 73h1v1h-1zM15 74h1v1h-1zM46 74h1v1h-1zM1 75h1v1h-1zM12 75h1v1h-1zM61 75h1v1h-1zM70 75h1v1h-1z"/>
<path fill="#505050" stroke="#505050" stroke-width="0.08" d="M12 0h1v1h-1zM23 0h1v1h-1zM31 0h1v1h-1zM41 0h1v1h-1zM60 0h1v1h-1zM16 1h1v1h-1zM18 1h2v1h-2zM33 1h1v1h-1zM48 1h1v1h-1zM52 1h1v1h-1zM65 1h1v1h-1zM25 2h1v1h-1zM52 2h1v1h-1zM59 2h1v1h-1zM66 2h1v1h-1zM70 2h2v1h-2zM74 2h1v1h-1zM6 3h1v1h-1zM10 3h1v1h-1zM70 3h1v1h-1zM9 4h1v1h-1zM20 4h1v1h-1zM42 4h1v1h-1zM7 5h1v1h-1zM13 5h1v1h-1zM19 5h1v1h-1zM64 5h1v1h-1zM19 6h1v1h-1zM56 6h1v1h-1zM11 7h1v1h-1zM16 7h1v1h-1zM29 7h1v1h-1zM42 7h1v1h-1zM51 7h1v1h-1zM54 7h1v1h-1zM0 8h1v1h-1zM6 8h1v1h-1zM68 8h1v1h-1zM77 8h1v1h-1zM1 9h1v1h-1zM15 9h1v1h-1zM61 9h1v1h-1zM69 9h1v1h-1zM75 9h1v1h-1zM9 10h2v1h-2zM52 10h1v1h-1zM63 10h1v1h-1zM67 11h1v1h-1zM70 11h2v1h-2zM7 12h1v1h-1zM11 12h1v1h-1zM77 12h1v1h-1zM7 13h1v1h-1zM18 13h2v1h-2zM1 14h1v1h-1zM14 14h1v1h-1zM22 14h1v1h-1zM70 14h1v1h-1zM13 15h1v1h-1zM55 15h1v1h-1zM4 16h2v1h-2zM48 16h1v1h-1zM66 16h1v1h-1zM69 16h1v1h-1zM73 16h1v1h-1zM6 17h1v1h-1zM15 17h1v1h-1zM17 17h1v1h-1zM48 17h1v1h-1zM62 17h1v1h-1zM77 17h1v1h-1zM63 18h1v1h-1zM2 19h1v1h-1zM7 19h1v1h-1zM11 19h1v1h-1zM53 19h1v1h-1zM6 20h1v1h-1zM63 20h1v1h-1zM10 21h2v1h-2zM17 21h1v1h-1zM73 21h1v1h-1zM6 22h1v1h-1zM22 22h1v1h-1zM1 23h1v1h-1zM57 23h1v1h-1zM69 24h1v1h-1zM6 25h1v1h-1zM9 25h1v1h-1zM30 25h1v1h-1zM44 25h1v1h-1zM72 25h1v1h-1zM74 25h1v1h-1zM1 26h1v1h-1zM36 26h1v1h-1zM39 27h1v1h-1zM55 27h1v1h-1zM64 27h2v1h-2zM73 27h1v1h-1zM75 27h1v1h-1zM7 28h1v1h-1zM23 28h1v1h-1zM58 28h2v1h-2zM73 28h1v1h-1zM4 29h1v1h-1zM8 29h1v1h-1zM10 29h1v1h-1zM31 29h1v1h-1zM4 30h1v1h-1zM21 30h1v1h-1zM67 30h1v1h-1zM1 31h1v1h-1zM3 31h1v1h-1zM13 31h1v1h-1zM73 31h1v1h-1zM3 33h1v1h-1zM12 33h1v1h-1zM40 33h1v1h-1zM56 33h1v1h-1zM2 34h1v1h-1zM21 34h1v1h-1zM47 34h1v1h-1zM76 34h1v1h-1zM5 35h1v1h-1zM11 35h1v1h-1zM59 35h1v1h-1zM68 35h1v1h-1zM13 36h1v1h-1zM18 36h1v1h-1zM47 36h1v1h-1zM66 36h1v1h-1zM71 36h1v1h-1zM0 37h1v1h-1zM13 37h1v1h-1zM22 37h1v1h-1zM57 37h1v1h-1zM64 37h1v1h-1zM67 37h1v1h-1zM55 38h1v1h-1zM9 39h2v1h-2zM28 39h1v1h-1zM26 40h1v1h-1zM8 41h1v1h-1zM15 41h1v1h-1zM22 41h1v1h-1zM58 41h1v1h-1zM67 41h1v1h-1zM75 41h1v1h-1zM77 41h1v1h-1zM0 42h1v1h-1zM55 42h1v1h-1zM0 43h1v1h-1zM14 43h1v1h-1zM1 44h1v1h-1zM22 44h1v1h-1zM57 44h1v1h-1zM17 45h2v1h-2zM73 45h1v1h-1zM5 46h1v1h-1zM21 46h1v1h-1zM55 46h1v1h-1zM57 46h1v1h-1zM64 46h1v1h-1zM36 47h1v1h-1zM55 47h1v1h-1zM16 48h1v1h-1zM18 48h1v1h-1zM30 48h1v1h-1zM60 48h1v1h-1zM14 49h1v1h-1zM55 49h1v1h-1zM7 50h1v1h-1zM11 50h1v1h-1zM42 50h1v1h-1zM62 50h1v1h-1zM72 50h1v1h-1zM77 50h1v1h-1zM6 51h1v1h-1zM9 51h1v1h-1zM45 51h1v1h-1zM8 52h1v1h-1zM0 53h1v1h-1zM9 53h1v1h-1zM54 53h1v1h-1zM5 54h1v1h-1zM15 54h1v1h-1zM61 54h1v1h-1zM69 54h1v1h-1zM3 55h1v1h-1zM8 55h1v1h-1zM18 55h1v1h-1zM69 55h1v1h-1zM71 55h1v1h-1zM8 56h1v1h-1zM12 56h1v1h-1zM54 56h1v1h-1zM14 57h1v1h-1zM18 57h1v1h-1zM56 57h1v1h-1zM63 57h1v1h-1zM70 57h1v1h-1zM73 57h1v1h-1zM4 58h2v1h-2zM29 58h1v1h-1zM45 58h1v1h-1zM70 58h2v1h-2zM10 59h1v1h-1zM13 59h1v1h-1zM39 59h1v1h-1zM54 59h1v1h-1zM6 60h1v1h-1zM11 60h1v1h-1zM20 60h1v1h-1zM77 60h1v1h-1zM36 61h1v1h-1zM58 61h1v1h-1zM64 61h1v1h-1zM71 61h1v1h-1zM13 62h1v1h-1zM16 62h1v1h-1zM71 62h1v1h-1zM8 63h1v1h-1zM20 63h1v1h-1zM30 63h1v1h-1zM36 63h1v1h-1zM42 63h1v1h-1zM76 63h1v1h-1zM10 64h1v1h-1zM20 64h1v1h-1zM38 64h1v1h-1zM55 64h1v1h-1zM74 64h1v1h-1zM37 65h1v1h-1zM68 65h1v1h-1zM73 65h1v1h-1zM7 66h1v1h-1zM61 66h1v1h-1zM73 66h1v1h-1zM17 67h1v1h-1zM23 67h1v1h-1zM70 67h1v1h-1zM77 67h1v1h-1zM44 69h1v1h-1zM67 69h1v1h-1zM21 70h1v1h-1zM62 70h1v1h-1zM70 70h1v1h-1zM76 70h1v1h-1zM11 71h1v1h-1zM16 71h1v1h-1zM22 71h1v1h-1zM54 71h1v1h-1zM60 71h1v1h-1zM11 72h1v1h-1zM30 72h1v1h-1zM36 72h1v1h-1zM56 72h1v1h-1zM63 72h1v1h-1zM65 72h1v1h-1zM4 73h1v1h-1zM42 73h1v1h-1zM45 73h1v1h-1zM47 73h1v1h-1zM70 73h1v1h-1zM21 74h1v1h-1zM14 75h1v1h-1zM27 75h1v1h-1zM37 75h1v1h-1zM60 75h1v1h-1zM64 75h1v1h-1zM74 75h1v1h-1z"/>
<path fill="#5a5a5a" stroke="#5a5a5a" stroke-width="0.08" d="M1 0h1v1h-1zM9 0h1v1h-1zM11 0h1v1h-1zM27 0h1v1h-1zM48 0h1v1h-1zM73 0h1v1h-1zM1 1h1v1h-1zM9 1h1v1h-1zM13 1h2v1h-2zM41 1h1v1h-1zM44 1h1v1h-1zM68 1h1v1h-1zM31 2h1v1h-1zM41 2h1v1h-1zM49 2h1v1h-1zM62 2h1v1h-1zM68 2h1v1h-1zM76 2h1v1h-1zM25 3h1v1h-1zM27 3h1v1h-1zM43 3h1v1h-1zM48 3h1v1h-1zM61 3h1v1h-1zM63 3h1v1h-1zM8 4h1v1h-1zM10 4h1v1h-1zM32 4h1v1h-1zM45 4h1v1h-1zM54 4h1v1h-1zM77 4h1v1h-1zM15 5h1v1h-1zM46 5h1v1h-1zM52 5h1v1h-1zM57 5h1v1h-1zM66 5h2v1h-2zM69 5h1v1h-1zM71 5h1v1h-1zM1 6h1v1h-1zM11 6h1v1h-1zM25 6h1v1h-1zM62 6h1v1h-1zM7 7h1v1h-1zM14 7h1v1h-1zM19 7h1v1h-1zM62 7h1v1h-1zM2 8h1v1h-1zM11 8h1v1h-1zM15 8h1v1h-1zM29 8h1v1h-1zM17 9h1v1h-1zM72 9h1v1h-1zM15 10h1v1h-1zM17 10h1v1h-1zM56 10h1v1h-1zM72 10h1v1h-1zM15 11h1v1h-1zM17 11h1v1h-1zM43 11h1v1h-1zM60 11h1v1h-1zM73 11h1v1h-1zM12 12h1v1h-1zM21 12h1v1h-1zM57 12h1v1h-1zM13 13h1v1h-1zM55 13h1v1h-1zM67 13h1v1h-1zM0 14h1v1h-1zM20 14h1v1h-1zM28 14h1v1h-1zM31 14h1v1h-1zM48 14h1v1h-1zM51 14h1v1h-1zM68 14h1v1h-1zM71 14h1v1h-1zM77 14h1v1h-1zM22 15h1v1h-1zM60 15h1v1h-1zM70 15h1v1h-1zM76 15h1v1h-1zM12 16h1v1h-1zM61 16h1v1h-1zM11 17h1v1h-1zM41 17h1v1h-1zM64 17h2v1h-2zM74 17h1v1h-1zM13 18h1v1h-1zM4 19h1v1h-1zM10 19h1v1h-1zM15 19h1v1h-1zM35 19h1v1h-1zM59 19h2v1h-2zM75 19h1v1h-1zM77 19h1v1h-1zM7 20h1v1h-1zM10 20h1v1h-1zM62 20h1v1h-1zM65 20h1v1h-1zM71 20h1v1h-1zM15 21h1v1h-1zM38 21h1v1h-1zM54 21h1v1h-1zM12 22h1v1h-1zM19 22h1v1h-1zM35 22h1v1h-1zM68 22h1v1h-1zM16 23h1v1h-1zM22 23h1v1h-1zM63 23h1v1h-1zM67 23h1v1h-1zM16 24h1v1h-1zM23 24h1v1h-1zM63 24h1v1h-1zM36 25h1v1h-1zM60 25h1v1h-1zM16 26h1v1h-1zM23 26h1v1h-1zM38 26h1v1h-1zM58 26h1v1h-1zM4 27h1v1h-1zM6 27h1v1h-1zM27 27h1v1h-1zM36 27h1v1h-1zM71 27h1v1h-1zM6 28h1v1h-1zM8 28h1v1h-1zM30 28h1v1h-1zM71 28h1v1h-1zM14 29h1v1h-1zM47 29h1v1h-1zM61 29h1v1h-1zM63 29h1v1h-1zM67 29h1v1h-1zM19 30h1v1h-1zM47 30h1v1h-1zM23 31h1v1h-1zM27 31h1v1h-1zM30 31h1v1h-1zM37 31h1v1h-1zM54 31h1v1h-1zM69 31h1v1h-1zM16 32h1v1h-1zM20 33h1v1h-1zM60 33h1v1h-1zM65 33h1v1h-1zM5 34h1v1h-1zM61 34h1v1h-1zM15 35h1v1h-1zM22 35h1v1h-1zM36 35h1v1h-1zM61 35h1v1h-1zM65 35h1v1h-1zM29 36h2v1h-2zM44 36h1v1h-1zM55 36h1v1h-1zM57 36h1v1h-1zM12 37h1v1h-1zM30 37h1v1h-1zM54 37h2v1h-2zM1 38h1v1h-1zM6 38h1v1h-1zM56 38h1v1h-1zM60 38h1v1h-1zM2 39h1v1h-1zM15 39h2v1h-2zM55 39h1v1h-1zM57 39h1v1h-1zM76 39h2v1h-2zM16 40h1v1h-1zM19 40h1v1h-1zM13 41h1v1h-1zM68 41h1v1h-1zM73 41h1v1h-1zM1 42h2v1h-2zM58 42h1v1h-1zM20 43h1v1h-1zM31 43h1v1h-1zM47 43h1v1h-1zM74 43h1v1h-1zM4 44h1v1h-1zM19 44h1v1h-1zM39 44h1v1h-1zM46 44h1v1h-1zM56 44h1v1h-1zM2 45h1v1h-1zM7 45h1v1h-1zM10 45h1v1h-1zM22 45h1v1h-1zM12 46h2v1h-2zM25 46h1v1h-1zM39 46h1v1h-1zM8 47h1v1h-1zM19 47h1v1h-1zM49 47h1v1h-1zM58 47h1v1h-1zM70 47h1v1h-1zM77 47h1v1h-1zM10 48h1v1h-1zM19 48h1v1h-1zM69 48h1v1h-1zM74 48h1v1h-1zM6 49h1v1h-1zM8 49h1v1h-1zM23 49h1v1h-1zM47 49h1v1h-1zM64 49h1v1h-1zM20 50h1v1h-1zM29 50h1v1h-1zM47 50h1v1h-1zM76 50h1v1h-1zM2 51h1v1h-1zM58 51h1v1h-1zM71 51h1v1h-1zM39 52h2v1h-2zM53 52h1v1h-1zM4 53h1v1h-1zM21 54h1v1h-1zM66 54h2v1h-2zM71 54h1v1h-1zM67 55h1v1h-1zM0 56h1v1h-1zM24 56h1v1h-1zM31 56h1v1h-1zM48 56h1v1h-1zM55 56h1v1h-1zM77 56h1v1h-1zM36 57h1v1h-1zM72 57h1v1h-1zM59 58h2v1h-2zM62 58h1v1h-1zM65 58h1v1h-1zM72 58h1v1h-1zM7 59h1v1h-1zM18 59h1v1h-1zM45 59h1v1h-1zM63 59h1v1h-1zM1 60h1v1h-1zM16 60h1v1h-1zM42 60h1v1h-1zM67 60h1v1h-1zM1 61h1v1h-1zM15 61h3v1h-3zM28 61h1v1h-1zM47 61h1v1h-1zM62 61h1v1h-1zM28 62h1v1h-1zM46 62h1v1h-1zM69 62h1v1h-1zM77 62h1v1h-1zM12 63h1v1h-1zM21 63h1v1h-1zM69 63h1v1h-1zM39 64h1v1h-1zM64 64h1v1h-1zM72 64h1v1h-1zM8 65h1v1h-1zM14 65h1v1h-1zM22 65h1v1h-1zM46 65h1v1h-1zM75 65h1v1h-1zM11 66h1v1h-1zM26 66h1v1h-1zM54 66h1v1h-1zM62 66h1v1h-1zM67 66h1v1h-1zM8 67h1v1h-1zM20 67h1v1h-1zM40 67h1v1h-1zM5 68h1v1h-1zM8 68h1v1h-1zM13 68h1v1h-1zM58 68h1v1h-1zM60 68h1v1h-1zM63 68h1v1h-1zM2 69h2v1h-2zM12 69h1v1h-1zM19 69h1v1h-1zM21 69h1v1h-1zM36 69h1v1h-1zM46 69h1v1h-1zM60 69h1v1h-1zM69 69h1v1h-1zM76 69h1v1h-1zM3 70h1v1h-1zM7 70h1v1h-1zM11 70h1v1h-1zM12 71h1v1h-1zM69 71h1v1h-1zM9 72h1v1h-1zM21 72h2v1h-2zM18 73h3v1h-3zM22 73h1v1h-1zM2 74h1v1h-1zM5 74h1v1h-1zM8 74h1v1h-1zM54 74h1v1h-1zM58 74h1v1h-1zM63 74h1v1h-1zM70 74h1v1h-1zM72 74h1v1h-1zM8 75h1v1h-1zM39 75h1v1h-1zM66 75h1v1h-1zM75 75h1v1h-1z"/>
<path fill="#656565" stroke="#656565" stroke-width="0.08" d="M28 0h2v1h-2zM32 0h3v1h-3zM40 0h1v1h-1zM49 0h1v1h-1zM62 0h1v1h-1zM77 0h1v1h-1zM35 1h1v1h-1zM3 2h1v1h-1zM12 2h1v1h-1zM26 2h2v1h-2zM40 2h1v1h-1zM48 2h1v1h-1zM58 2h1v1h-1zM64 2h1v1h-1zM69 2h1v1h-1zM1 3h1v1h-1zM8 3h1v1h-1zM46 3h1v1h-1zM22 4h1v1h-1zM24 4h1v1h-1zM46 4h1v1h-1zM49 4h1v1h-1zM52 4h1v1h-1zM5 5h1v1h-1zM25 5h1v1h-1zM40 5h2v1h-2zM48 5h1v1h-1zM63 5h1v1h-1zM75 5h1v1h-1zM17 6h1v1h-1zM22 6h1v1h-1zM27 6h1v1h-1zM37 6h1v1h-1zM51 6h1v1h-1zM63 6h1v1h-1zM72 6h1v1h-1zM74 6h1v1h-1zM6 7h1v1h-1zM55 7h1v1h-1zM63 7h1v1h-1zM1 8h1v1h-1zM34 8h1v1h-1zM66 8h1v1h-1zM3 9h1v1h-1zM65 9h1v1h-1zM76 9h1v1h-1zM14 10h1v1h-1zM69 10h1v1h-1zM5 11h1v1h-1zM8 11h1v1h-1zM14 11h1v1h-1zM56 11h1v1h-1zM65 11h1v1h-1zM69 11h1v1h-1zM30 12h1v1h-1zM50 12h1v1h-1zM68 12h1v1h-1zM0 13h1v1h-1zM35 13h2v1h-2zM56 13h1v1h-1zM59 13h1v1h-1zM71 13h2v1h-2zM9 14h1v1h-1zM13 14h1v1h-1zM29 14h1v1h-1zM58 14h1v1h-1zM75 14h1v1h-1zM48 15h1v1h-1zM13 16h1v1h-1zM8 17h1v1h-1zM28 17h1v1h-1zM1 18h1v1h-1zM5 18h1v1h-1zM32 18h1v1h-1zM0 19h1v1h-1zM52 19h1v1h-1zM61 19h1v1h-1zM13 20h1v1h-1zM61 20h1v1h-1zM64 20h1v1h-1zM74 20h1v1h-1zM4 21h1v1h-1zM16 21h1v1h-1zM28 22h1v1h-1zM38 22h1v1h-1zM19 23h1v1h-1zM44 23h1v1h-1zM55 23h1v1h-1zM70 23h1v1h-1zM74 23h1v1h-1zM6 24h1v1h-1zM11 24h1v1h-1zM37 24h1v1h-1zM58 24h1v1h-1zM64 24h1v1h-1zM66 24h2v1h-2zM72 24h1v1h-1zM10 25h1v1h-1zM22 25h1v1h-1zM38 25h1v1h-1zM63 25h1v1h-1zM67 25h1v1h-1zM47 26h1v1h-1zM59 26h1v1h-1zM68 26h1v1h-1zM72 26h1v1h-1zM76 26h1v1h-1zM3 27h1v1h-1zM9 27h1v1h-1zM29 27h1v1h-1zM31 27h1v1h-1zM37 27h2v1h-2zM19 28h1v1h-1zM54 28h1v1h-1zM75 28h1v1h-1zM7 29h1v1h-1zM16 29h1v1h-1zM18 29h1v1h-1zM39 29h1v1h-1zM53 29h1v1h-1zM58 29h1v1h-1zM70 29h1v1h-1zM74 30h1v1h-1zM2 31h1v1h-1zM36 31h1v1h-1zM44 31h1v1h-1zM55 31h1v1h-1zM21 32h1v1h-1zM60 32h1v1h-1zM4 33h1v1h-1zM19 33h1v1h-1zM23 33h1v1h-1zM59 33h1v1h-1zM4 34h1v1h-1zM6 34h1v1h-1zM23 34h1v1h-1zM40 34h1v1h-1zM56 34h1v1h-1zM76 35h1v1h-1zM15 36h1v1h-1zM58 36h1v1h-1zM62 36h1v1h-1zM64 36h1v1h-1zM70 36h1v1h-1zM18 37h1v1h-1zM59 37h1v1h-1zM71 37h1v1h-1zM69 38h1v1h-1zM76 38h1v1h-1zM44 39h1v1h-1zM65 39h3v1h-3zM9 40h1v1h-1zM43 40h1v1h-1zM10 41h1v1h-1zM24 41h1v1h-1zM38 41h1v1h-1zM40 41h1v1h-1zM13 42h1v1h-1zM31 42h1v1h-1zM66 42h1v1h-1zM1 43h1v1h-1zM6 43h1v1h-1zM9 43h1v1h-1zM18 43h1v1h-1zM55 43h2v1h-2zM58 43h1v1h-1zM17 44h1v1h-1zM60 44h1v1h-1zM15 45h1v1h-1zM23 45h1v1h-1zM25 45h1v1h-1zM30 45h1v1h-1zM39 45h1v1h-1zM58 45h1v1h-1zM68 45h1v1h-1zM77 45h1v1h-1zM47 46h1v1h-1zM75 46h2v1h-2zM4 47h1v1h-1zM18 47h1v1h-1zM22 47h1v1h-1zM38 47h1v1h-1zM61 47h1v1h-1zM63 47h1v1h-1zM24 48h1v1h-1zM62 48h1v1h-1zM4 50h1v1h-1zM12 50h1v1h-1zM66 50h1v1h-1zM4 51h1v1h-1zM16 51h1v1h-1zM44 51h1v1h-1zM46 51h1v1h-1zM73 51h1v1h-1zM46 52h1v1h-1zM49 52h1v1h-1zM67 52h1v1h-1zM71 52h1v1h-1zM76 52h1v1h-1zM12 53h1v1h-1zM24 53h1v1h-1zM44 53h1v1h-1zM66 53h1v1h-1zM23 54h1v1h-1zM39 54h1v1h-1zM23 55h1v1h-1zM61 55h1v1h-1zM73 55h1v1h-1zM75 55h1v1h-1zM23 56h1v1h-1zM68 56h1v1h-1zM65 57h1v1h-1zM69 57h1v1h-1zM75 57h1v1h-1zM0 58h1v1h-1zM12 58h1v1h-1zM20 58h1v1h-1zM39 58h1v1h-1zM48 58h1v1h-1zM54 58h1v1h-1zM66 58h1v1h-1zM75 58h1v1h-1zM5 59h1v1h-1zM14 59h1v1h-1zM44 59h1v1h-1zM68 59h1v1h-1zM3 60h1v1h-1zM8 60h1v1h-1zM12 60h1v1h-1zM29 60h1v1h-1zM36 60h1v1h-1zM58 60h2v1h-2zM11 61h1v1h-1zM5 62h1v1h-1zM20 62h1v1h-1zM42 62h1v1h-1zM49 63h1v1h-1zM72 63h1v1h-1zM5 64h1v1h-1zM8 64h2v1h-2zM18 64h1v1h-1zM23 64h1v1h-1zM25 64h1v1h-1zM54 64h1v1h-1zM57 64h2v1h-2zM66 64h1v1h-1zM69 64h1v1h-1zM26 65h1v1h-1zM71 65h1v1h-1zM77 65h1v1h-1zM4 66h1v1h-1zM44 66h1v1h-1zM47 66h1v1h-1zM57 66h1v1h-1zM69 66h1v1h-1zM11 67h1v1h-1zM61 67h1v1h-1zM0 68h1v1h-1zM76 68h1v1h-1zM38 69h1v1h-1zM41 69h1v1h-1zM8 70h1v1h-1zM23 70h1v1h-1zM37 70h1v1h-1zM39 70h1v1h-1zM46 70h1v1h-1zM1 71h1v1h-1zM5 71h1v1h-1zM43 71h1v1h-1zM70 71h1v1h-1zM19 72h2v1h-2zM57 72h3v1h-3zM70 72h1v1h-1zM1 73h1v1h-1zM14 73h1v1h-1zM67 73h1v1h-1zM7 74h1v1h-1zM20 74h1v1h-1zM64 74h1v1h-1zM7 75h1v1h-1zM30 75h1v1h-1zM44 75h1v1h-1zM47 75h1v1h-1zM65 75h1v1h-1zM77 75h1v1h-1z"/>
<path fill="#707070" stroke="#707070" stroke-width="0.08" d="M3 0h2v1h-2zM8 0h1v1h-1zM26 0h1v1h-1zM35 0h2v1h-2zM38 0h1v1h-1zM42 0h1v1h-1zM56 0h1v1h-1zM59 0h1v1h-1zM65 0h1v1h-1zM67 0h1v1h-1zM23 1h1v1h-1zM32 1h1v1h-1zM51 1h1v1h-1zM69 1h1v1h-1zM75 1h1v1h-1zM1 2h1v1h-1zM19 2h2v1h-2zM29 2h1v1h-1zM7 3h1v1h-1zM16 3h1v1h-1zM22 3h1v1h-1zM34 3h1v1h-1zM53 3h1v1h-1zM3 4h1v1h-1zM5 4h1v1h-1zM11 4h1v1h-1zM19 4h1v1h-1zM25 4h1v1h-1zM30 4h1v1h-1zM33 4h1v1h-1zM36 4h1v1h-1zM57 4h1v1h-1zM66 4h1v1h-1zM68 4h1v1h-1zM73 4h3v1h-3zM12 5h1v1h-1zM35 5h1v1h-1zM49 5h1v1h-1zM58 5h1v1h-1zM70 5h1v1h-1zM76 5h1v1h-1zM41 6h1v1h-1zM52 6h2v1h-2zM59 6h1v1h-1zM68 6h1v1h-1zM0 7h1v1h-1zM8 7h1v1h-1zM17 7h1v1h-1zM22 7h1v1h-1zM44 7h1v1h-1zM65 7h1v1h-1zM71 7h1v1h-1zM8 8h1v1h-1zM16 8h1v1h-1zM19 8h1v1h-1zM58 8h1v1h-1zM62 8h1v1h-1zM2 9h1v1h-1zM5 9h1v1h-1zM7 9h1v1h-1zM9 9h3v1h-3zM13 9h1v1h-1zM22 9h1v1h-1zM59 9h1v1h-1zM68 9h1v1h-1zM77 9h1v1h-1zM0 10h1v1h-1zM5 10h1v1h-1zM36 10h1v1h-1zM62 10h1v1h-1zM59 11h1v1h-1zM62 11h1v1h-1zM76 11h1v1h-1zM1 12h1v1h-1zM14 12h1v1h-1zM54 12h1v1h-1zM61 12h1v1h-1zM63 12h1v1h-1zM67 12h1v1h-1zM72 12h1v1h-1zM16 13h1v1h-1zM61 13h1v1h-1zM64 13h2v1h-2zM5 14h1v1h-1zM12 14h1v1h-1zM18 14h1v1h-1zM56 14h1v1h-1zM8 15h2v1h-2zM18 15h1v1h-1zM25 15h1v1h-1zM63 15h1v1h-1zM77 15h1v1h-1zM60 16h1v1h-1zM62 16h1v1h-1zM67 16h1v1h-1zM70 16h1v1h-1zM12 17h1v1h-1zM18 17h1v1h-1zM39 17h1v1h-1zM54 17h1v1h-1zM67 17h1v1h-1zM73 17h1v1h-1zM6 18h1v1h-1zM10 18h1v1h-1zM14 18h1v1h-1zM54 18h1v1h-1zM64 18h1v1h-1zM67 18h1v1h-1zM75 18h1v1h-1zM12 19h1v1h-1zM39 19h1v1h-1zM45 19h1v1h-1zM55 19h1v1h-1zM1 20h1v1h-1zM20 20h1v1h-1zM46 20h1v1h-1zM56 20h1v1h-1zM68 20h2v1h-2zM13 21h1v1h-1zM65 21h1v1h-1zM70 21h1v1h-1zM72 21h1v1h-1zM0 22h1v1h-1zM2 22h1v1h-1zM15 22h1v1h-1zM24 22h1v1h-1zM59 22h1v1h-1zM63 22h1v1h-1zM76 22h1v1h-1zM11 23h1v1h-1zM60 23h1v1h-1zM64 23h1v1h-1zM12 24h1v1h-1zM15 24h1v1h-1zM56 24h1v1h-1zM75 24h1v1h-1zM29 25h1v1h-1zM52 25h1v1h-1zM71 25h1v1h-1zM2 26h1v1h-1zM17 26h1v1h-1zM46 26h1v1h-1zM48 26h1v1h-1zM55 26h1v1h-1zM75 26h1v1h-1zM10 27h1v1h-1zM41 27h1v1h-1zM0 28h3v1h-3zM11 28h1v1h-1zM39 28h1v1h-1zM46 28h1v1h-1zM57 28h1v1h-1zM72 28h1v1h-1zM9 29h1v1h-1zM12 29h1v1h-1zM55 29h1v1h-1zM68 29h1v1h-1zM10 30h1v1h-1zM16 30h1v1h-1zM29 30h1v1h-1zM33 30h1v1h-1zM52 30h2v1h-2zM60 30h1v1h-1zM72 30h2v1h-2zM0 31h1v1h-1zM12 31h1v1h-1zM24 31h1v1h-1zM47 31h1v1h-1zM59 31h1v1h-1zM10 32h1v1h-1zM19 32h1v1h-1zM26 32h1v1h-1zM37 32h1v1h-1zM45 32h2v1h-2zM57 32h1v1h-1zM66 32h1v1h-1zM73 32h2v1h-2zM2 33h1v1h-1zM14 33h1v1h-1zM18 33h1v1h-1zM21 33h1v1h-1zM29 33h1v1h-1zM37 33h1v1h-1zM54 33h1v1h-1zM69 33h1v1h-1zM71 33h1v1h-1zM0 34h2v1h-2zM7 34h1v1h-1zM11 34h1v1h-1zM25 34h1v1h-1zM36 34h1v1h-1zM59 34h1v1h-1zM70 34h1v1h-1zM72 34h1v1h-1zM75 34h1v1h-1zM3 35h1v1h-1zM6 35h1v1h-1zM17 35h2v1h-2zM56 35h3v1h-3zM60 35h1v1h-1zM71 35h1v1h-1zM12 36h1v1h-1zM16 36h1v1h-1zM38 36h1v1h-1zM65 36h1v1h-1zM69 36h1v1h-1zM73 36h1v1h-1zM76 36h2v1h-2zM6 37h1v1h-1zM17 37h1v1h-1zM19 37h1v1h-1zM36 37h1v1h-1zM0 38h1v1h-1zM3 38h1v1h-1zM10 38h1v1h-1zM16 38h1v1h-1zM21 38h1v1h-1zM77 38h1v1h-1zM6 39h1v1h-1zM19 39h1v1h-1zM22 39h1v1h-1zM27 39h1v1h-1zM30 39h1v1h-1zM64 39h1v1h-1zM2 40h1v1h-1zM32 40h1v1h-1zM47 40h1v1h-1zM52 40h1v1h-1zM69 40h1v1h-1zM5 41h2v1h-2zM12 41h1v1h-1zM39 41h1v1h-1zM57 41h1v1h-1zM9 42h1v1h-1zM39 42h1v1h-1zM67 42h1v1h-1zM16 43h1v1h-1zM22 43h2v1h-2zM57 43h1v1h-1zM68 43h1v1h-1zM70 43h1v1h-1zM0 44h1v1h-1zM14 44h1v1h-1zM18 44h1v1h-1zM30 44h1v1h-1zM37 44h1v1h-1zM72 44h1v1h-1zM11 45h1v1h-1zM14 45h1v1h-1zM21 45h1v1h-1zM45 45h1v1h-1zM54 45h1v1h-1zM57 45h1v1h-1zM59 45h1v1h-1zM62 45h1v1h-1zM67 45h1v1h-1zM1 46h1v1h-1zM16 46h1v1h-1zM77 46h1v1h-1zM5 47h1v1h-1zM7 47h1v1h-1zM13 47h1v1h-1zM60 47h1v1h-1zM1 48h1v1h-1zM4 48h1v1h-1zM39 48h1v1h-1zM53 48h1v1h-1zM59 48h1v1h-1zM72 48h1v1h-1zM11 49h3v1h-3zM69 49h1v1h-1zM72 49h1v1h-1zM6 50h1v1h-1zM9 50h1v1h-1zM18 50h1v1h-1zM41 50h1v1h-1zM58 50h2v1h-2zM70 50h1v1h-1zM7 51h1v1h-1zM74 51h1v1h-1zM5 52h1v1h-1zM15 52h1v1h-1zM20 52h1v1h-1zM28 52h1v1h-1zM48 52h1v1h-1zM57 52h1v1h-1zM1 53h2v1h-2zM5 53h1v1h-1zM7 53h1v1h-1zM13 53h1v1h-1zM60 53h2v1h-2zM68 53h1v1h-1zM72 53h1v1h-1zM3 54h2v1h-2zM18 54h1v1h-1zM60 54h1v1h-1zM0 55h1v1h-1zM19 55h1v1h-1zM38 55h2v1h-2zM50 55h1v1h-1zM57 55h1v1h-1zM62 55h1v1h-1zM65 55h1v1h-1zM5 56h1v1h-1zM21 56h1v1h-1zM36 56h1v1h-1zM73 56h1v1h-1zM75 56h1v1h-1zM0 57h1v1h-1zM3 57h1v1h-1zM15 57h1v1h-1zM39 57h1v1h-1zM51 57h1v1h-1zM64 57h1v1h-1zM8 58h1v1h-1zM10 58h1v1h-1zM13 58h1v1h-1zM18 58h1v1h-1zM22 58h1v1h-1zM47 58h1v1h-1zM67 58h1v1h-1zM69 58h1v1h-1zM76 58h1v1h-1zM3 59h1v1h-1zM11 59h1v1h-1zM16 59h1v1h-1zM25 59h1v1h-1zM29 59h1v1h-1zM38 59h1v1h-1zM56 59h1v1h-1zM61 59h1v1h-1zM66 59h1v1h-1zM0 60h1v1h-1zM10 60h1v1h-1zM23 60h1v1h-1zM52 60h1v1h-1zM7 61h1v1h-1zM13 61h1v1h-1zM67 61h1v1h-1zM17 62h1v1h-1zM54 62h1v1h-1zM58 62h2v1h-2zM4 63h1v1h-1zM31 63h1v1h-1zM58 63h1v1h-1zM60 63h3v1h-3zM68 63h1v1h-1zM14 64h1v1h-1zM17 64h1v1h-1zM36 64h1v1h-1zM67 64h1v1h-1zM7 65h1v1h-1zM9 65h2v1h-2zM15 65h1v1h-1zM54 65h1v1h-1zM66 65h1v1h-1zM76 65h1v1h-1zM9 66h1v1h-1zM24 66h1v1h-1zM36 66h1v1h-1zM42 66h1v1h-1zM58 66h1v1h-1zM60 66h1v1h-1zM18 67h1v1h-1zM38 67h1v1h-1zM56 67h1v1h-1zM59 67h1v1h-1zM67 67h1v1h-1zM71 67h1v1h-1zM3 68h1v1h-1zM11 68h1v1h-1zM25 68h1v1h-1zM55 68h1v1h-1zM65 68h2v1h-2zM69 68h1v1h-1zM14 69h1v1h-1zM23 69h1v1h-1zM27 69h1v1h-1zM58 69h1v1h-1zM74 69h1v1h-1zM20 70h1v1h-1zM22 70h1v1h-1zM36 70h1v1h-1zM68 70h1v1h-1zM74 70h1v1h-1zM63 71h1v1h-1zM23 72h1v1h-1zM31 72h1v1h-1zM67 72h2v1h-2zM73 72h2v1h-2zM31 73h1v1h-1zM57 73h1v1h-1zM63 73h1v1h-1zM68 73h1v1h-1zM42 74h1v1h-1zM75 74h1v1h-1zM10 75h1v1h-1zM21 75h1v1h-1zM58 75h1v1h-1zM62 75h1v1h-1zM73 75h1v1h-1z"/>
<path fill="#7a7a7a" stroke="#7a7a7a" stroke-width="0.08" d="M0 0h1v1h-1zM19 0h1v1h-1zM43 0h2v1h-2zM51 0h1v1h-1zM64 0h1v1h-1zM69 0h1v1h-1zM20 1h2v1h-2zM25 1h1v1h-1zM31 1h1v1h-1zM38 1h1v1h-1zM76 1h1v1h-1zM6 2h2v1h-2zM9 2h1v1h-1zM11 2h1v1h-1zM14 2h1v1h-1zM18 2h1v1h-1zM30 2h1v1h-1zM34 2h1v1h-1zM37 2h1v1h-1zM51 2h1v1h-1zM0 3h1v1h-1zM15 3h1v1h-1zM31 3h1v1h-1zM35 3h1v1h-1zM64 3h1v1h-1zM66 3h1v1h-1zM77 3h1v1h-1zM41 4h1v1h-1zM43 4h2v1h-2zM48 4h1v1h-1zM63 4h1v1h-1zM3 5h1v1h-1zM18 5h1v1h-1zM44 5h1v1h-1zM50 5h1v1h-1zM0 6h1v1h-1zM12 6h3v1h-3zM16 6h1v1h-1zM55 6h1v1h-1zM77 6h1v1h-1zM9 7h1v1h-1zM47 7h1v1h-1zM68 7h1v1h-1zM72 7h2v1h-2zM17 8h1v1h-1zM20 8h1v1h-1zM60 8h1v1h-1zM72 8h1v1h-1zM16 9h1v1h-1zM18 9h1v1h-1zM42 9h1v1h-1zM53 9h2v1h-2zM58 9h1v1h-1zM70 9h1v1h-1zM74 9h1v1h-1zM1 10h2v1h-2zM6 10h1v1h-1zM12 10h1v1h-1zM64 10h1v1h-1zM66 10h1v1h-1zM71 10h1v1h-1zM1 11h2v1h-2zM6 11h2v1h-2zM12 11h1v1h-1zM16 11h1v1h-1zM36 11h1v1h-1zM54 11h1v1h-1zM74 11h2v1h-2zM9 12h1v1h-1zM16 12h1v1h-1zM19 12h2v1h-2zM62 12h1v1h-1zM65 12h1v1h-1zM73 12h1v1h-1zM11 13h1v1h-1zM57 13h1v1h-1zM70 13h1v1h-1zM77 13h1v1h-1zM2 14h1v1h-1zM21 14h1v1h-1zM53 14h1v1h-1zM60 14h1v1h-1zM66 14h1v1h-1zM72 14h2v1h-2zM7 15h1v1h-1zM71 15h1v1h-1zM75 15h1v1h-1zM7 16h1v1h-1zM16 16h1v1h-1zM52 16h1v1h-1zM63 16h1v1h-1zM77 16h1v1h-1zM7 17h1v1h-1zM21 17h1v1h-1zM24 17h1v1h-1zM47 17h1v1h-1zM52 17h1v1h-1zM4 18h1v1h-1zM18 18h1v1h-1zM46 18h1v1h-1zM58 18h1v1h-1zM62 18h1v1h-1zM69 18h1v1h-1zM6 19h1v1h-1zM14 19h1v1h-1zM18 19h2v1h-2zM36 19h1v1h-1zM56 19h1v1h-1zM8 20h1v1h-1zM19 20h1v1h-1zM66 20h2v1h-2zM70 20h1v1h-1zM77 20h1v1h-1zM6 21h1v1h-1zM14 22h1v1h-1zM31 22h1v1h-1zM39 22h1v1h-1zM44 22h1v1h-1zM60 22h1v1h-1zM65 22h1v1h-1zM73 22h1v1h-1zM75 22h1v1h-1zM9 23h1v1h-1zM18 23h1v1h-1zM21 23h1v1h-1zM27 23h1v1h-1zM46 23h1v1h-1zM58 23h1v1h-1zM69 23h1v1h-1zM77 23h1v1h-1zM2 24h1v1h-1zM5 24h1v1h-1zM8 24h1v1h-1zM14 24h1v1h-1zM16 25h2v1h-2zM48 25h1v1h-1zM73 25h1v1h-1zM30 26h1v1h-1zM39 26h1v1h-1zM5 27h1v1h-1zM17 27h1v1h-1zM49 27h1v1h-1zM61 27h3v1h-3zM3 28h2v1h-2zM41 28h1v1h-1zM62 28h1v1h-1zM74 28h1v1h-1zM15 29h1v1h-1zM38 29h1v1h-1zM46 29h1v1h-1zM59 29h1v1h-1zM75 29h1v1h-1zM77 29h1v1h-1zM11 30h1v1h-1zM44 30h1v1h-1zM57 30h1v1h-1zM71 30h1v1h-1zM75 30h1v1h-1zM4 31h1v1h-1zM38 31h1v1h-1zM66 31h2v1h-2zM70 31h1v1h-1zM74 31h1v1h-1zM77 31h1v1h-1zM1 32h1v1h-1zM5 32h1v1h-1zM38 32h1v1h-1zM44 32h1v1h-1zM56 32h1v1h-1zM0 33h1v1h-1zM35 33h1v1h-1zM76 33h1v1h-1zM3 34h1v1h-1zM45 34h1v1h-1zM55 34h1v1h-1zM58 34h1v1h-1zM60 34h1v1h-1zM73 34h1v1h-1zM8 35h1v1h-1zM40 35h1v1h-1zM62 35h1v1h-1zM73 35h1v1h-1zM6 36h1v1h-1zM14 36h1v1h-1zM19 36h1v1h-1zM22 36h1v1h-1zM45 36h1v1h-1zM72 36h1v1h-1zM74 36h2v1h-2zM5 37h1v1h-1zM16 37h1v1h-1zM27 37h1v1h-1zM45 37h2v1h-2zM61 37h1v1h-1zM66 37h1v1h-1zM68 37h1v1h-1zM74 37h1v1h-1zM76 37h1v1h-1zM11 38h2v1h-2zM54 38h1v1h-1zM8 39h1v1h-1zM12 39h3v1h-3zM20 39h1v1h-1zM31 39h1v1h-1zM37 39h2v1h-2zM42 39h1v1h-1zM51 39h1v1h-1zM58 39h2v1h-2zM63 39h1v1h-1zM10 40h1v1h-1zM15 40h1v1h-1zM24 40h2v1h-2zM65 40h1v1h-1zM71 40h1v1h-1zM4 41h1v1h-1zM9 41h1v1h-1zM11 41h1v1h-1zM21 41h1v1h-1zM28 41h1v1h-1zM36 41h2v1h-2zM52 41h1v1h-1zM56 41h1v1h-1zM61 41h1v1h-1zM4 42h1v1h-1zM8 42h1v1h-1zM15 42h1v1h-1zM17 42h1v1h-1zM65 42h1v1h-1zM68 42h1v1h-1zM39 43h1v1h-1zM69 43h1v1h-1zM7 44h2v1h-2zM16 44h1v1h-1zM29 44h1v1h-1zM31 44h1v1h-1zM48 44h1v1h-1zM68 44h1v1h-1zM0 45h1v1h-1zM69 45h1v1h-1zM74 45h2v1h-2zM10 46h1v1h-1zM15 46h1v1h-1zM17 46h1v1h-1zM41 46h1v1h-1zM67 46h1v1h-1zM3 47h1v1h-1zM12 47h1v1h-1zM16 47h1v1h-1zM20 47h1v1h-1zM27 47h1v1h-1zM46 47h1v1h-1zM59 47h1v1h-1zM68 47h1v1h-1zM20 48h1v1h-1zM38 48h1v1h-1zM47 48h1v1h-1zM55 48h1v1h-1zM57 48h1v1h-1zM63 48h1v1h-1zM4 49h1v1h-1zM30 49h1v1h-1zM36 49h2v1h-2zM59 49h1v1h-1zM63 49h1v1h-1zM77 49h1v1h-1zM3 50h1v1h-1zM5 50h1v1h-1zM17 50h1v1h-1zM34 50h1v1h-1zM38 50h1v1h-1zM55 50h1v1h-1zM74 50h1v1h-1zM1 51h1v1h-1zM8 51h1v1h-1zM15 51h1v1h-1zM20 51h1v1h-1zM36 51h1v1h-1zM53 51h1v1h-1zM56 51h1v1h-1zM64 51h1v1h-1zM69 51h2v1h-2zM7 52h1v1h-1zM9 52h1v1h-1zM17 52h1v1h-1zM37 52h2v1h-2zM3 53h1v1h-1zM14 53h2v1h-2zM32 53h1v1h-1zM39 53h1v1h-1zM47 53h1v1h-1zM56 53h1v1h-1zM59 53h1v1h-1zM63 53h1v1h-1zM65 53h1v1h-1zM74 53h1v1h-1zM77 53h1v1h-1zM7 54h3v1h-3zM17 54h1v1h-1zM19 54h1v1h-1zM30 54h1v1h-1zM48 54h2v1h-2zM75 54h1v1h-1zM9 55h1v1h-1zM14 55h1v1h-1zM63 55h1v1h-1zM66 55h1v1h-1zM72 55h1v1h-1zM1 56h1v1h-1zM7 56h1v1h-1zM14 56h1v1h-1zM19 56h1v1h-1zM22 56h1v1h-1zM27 56h1v1h-1zM49 56h1v1h-1zM53 56h1v1h-1zM9 57h1v1h-1zM13 57h1v1h-1zM45 57h1v1h-1zM57 57h1v1h-1zM62 57h1v1h-1zM38 58h1v1h-1zM58 58h1v1h-1zM6 59h1v1h-1zM28 59h1v1h-1zM40 59h1v1h-1zM43 59h1v1h-1zM75 59h1v1h-1zM2 60h1v1h-1zM26 60h1v1h-1zM37 60h1v1h-1zM55 60h1v1h-1zM57 60h1v1h-1zM0 61h1v1h-1zM9 61h1v1h-1zM18 61h1v1h-1zM23 61h1v1h-1zM29 61h1v1h-1zM52 61h1v1h-1zM77 61h1v1h-1zM2 62h1v1h-1zM37 62h1v1h-1zM45 62h1v1h-1zM66 62h1v1h-1zM76 62h1v1h-1zM18 63h1v1h-1zM25 63h2v1h-2zM33 63h1v1h-1zM44 63h1v1h-1zM50 63h1v1h-1zM73 63h1v1h-1zM16 64h1v1h-1zM63 64h1v1h-1zM76 64h1v1h-1zM1 65h1v1h-1zM39 65h1v1h-1zM43 65h1v1h-1zM60 65h1v1h-1zM70 65h1v1h-1zM2 66h1v1h-1zM65 66h2v1h-2zM75 66h1v1h-1zM12 67h1v1h-1zM15 67h1v1h-1zM29 67h1v1h-1zM52 67h1v1h-1zM68 67h1v1h-1zM10 68h1v1h-1zM16 68h1v1h-1zM21 68h1v1h-1zM27 68h1v1h-1zM57 68h1v1h-1zM64 68h1v1h-1zM74 68h1v1h-1zM7 69h2v1h-2zM10 69h2v1h-2zM16 69h2v1h-2zM55 69h2v1h-2zM64 69h1v1h-1zM68 69h1v1h-1zM73 69h1v1h-1zM0 70h1v1h-1zM5 70h1v1h-1zM10 70h1v1h-1zM13 70h1v1h-1zM45 70h1v1h-1zM58 70h1v1h-1zM61 70h1v1h-1zM63 70h1v1h-1zM3 71h2v1h-2zM10 71h1v1h-1zM27 71h2v1h-2zM35 71h1v1h-1zM62 71h1v1h-1zM5 72h1v1h-1zM12 72h1v1h-1zM46 72h1v1h-1zM69 72h1v1h-1zM71 72h1v1h-1zM75 72h1v1h-1zM7 73h1v1h-1zM48 73h1v1h-1zM64 73h1v1h-1zM77 73h1v1h-1zM4 74h1v1h-1zM6 74h1v1h-1zM22 74h1v1h-1zM61 74h2v1h-2zM66 74h1v1h-1zM74 74h1v1h-1zM0 75h1v1h-1zM9 75h1v1h-1zM13 75h1v1h-1zM23 75h1v1h-1zM43 75h1v1h-1zM45 75h1v1h-1zM57 75h1v1h-1zM59 75h1v1h-1zM63 75h1v1h-1zM69 75h1v1h-1z"/>
<path fill="#858585" stroke="#858585" stroke-width="0.08" d="M13 0h1v1h-1zM30 0h1v1h-1zM47 0h1v1h-1zM76 0h1v1h-1zM3 1h1v1h-1zM22 1h1v1h-1zM26 1h1v1h-1zM34 1h1v1h-1zM60 1h1v1h-1zM67 1h1v1h-1zM73 1h1v1h-1zM77 1h1v1h-1zM5 2h1v1h-1zM17 2h1v1h-1zM24 2h1v1h-1zM36 2h1v1h-1zM44 2h1v1h-1zM50 2h1v1h-1zM57 2h1v1h-1zM73 2h1v1h-1zM3 3h1v1h-1zM21 3h1v1h-1zM28 3h1v1h-1zM32 3h1v1h-1zM36 3h2v1h-2zM42 3h1v1h-1zM55 3h1v1h-1zM62 3h1v1h-1zM69 3h1v1h-1zM76 3h1v1h-1zM0 4h1v1h-1zM2 4h1v1h-1zM14 4h2v1h-2zM70 4h1v1h-1zM8 5h1v1h-1zM11 5h1v1h-1zM14 5h1v1h-1zM34 5h1v1h-1zM36 5h1v1h-1zM55 5h1v1h-1zM59 5h1v1h-1zM7 6h1v1h-1zM15 6h1v1h-1zM24 6h1v1h-1zM45 6h1v1h-1zM58 6h1v1h-1zM61 6h1v1h-1zM64 6h1v1h-1zM73 6h1v1h-1zM15 7h1v1h-1zM18 7h1v1h-1zM67 7h1v1h-1zM13 8h2v1h-2zM21 8h1v1h-1zM51 8h1v1h-1zM69 8h1v1h-1zM6 9h1v1h-1zM12 9h1v1h-1zM21 9h1v1h-1zM30 9h1v1h-1zM67 9h1v1h-1zM50 10h1v1h-1zM57 10h1v1h-1zM76 10h2v1h-2zM21 11h1v1h-1zM44 11h1v1h-1zM53 11h1v1h-1zM64 11h1v1h-1zM15 12h1v1h-1zM64 12h1v1h-1zM66 12h1v1h-1zM5 13h1v1h-1zM9 13h1v1h-1zM24 13h1v1h-1zM42 13h1v1h-1zM54 13h1v1h-1zM66 13h1v1h-1zM74 13h1v1h-1zM7 14h1v1h-1zM11 14h1v1h-1zM25 14h1v1h-1zM50 14h1v1h-1zM64 14h1v1h-1zM67 14h1v1h-1zM74 14h1v1h-1zM12 15h1v1h-1zM16 15h1v1h-1zM50 15h1v1h-1zM58 15h1v1h-1zM66 15h1v1h-1zM0 16h1v1h-1zM3 16h1v1h-1zM17 16h1v1h-1zM58 16h2v1h-2zM2 17h1v1h-1zM13 17h1v1h-1zM42 17h1v1h-1zM51 17h1v1h-1zM63 17h1v1h-1zM71 17h1v1h-1zM17 18h1v1h-1zM21 18h1v1h-1zM47 18h1v1h-1zM57 18h1v1h-1zM60 18h1v1h-1zM65 18h1v1h-1zM71 18h1v1h-1zM73 18h1v1h-1zM1 19h1v1h-1zM21 19h1v1h-1zM46 19h1v1h-1zM66 19h1v1h-1zM23 20h1v1h-1zM47 20h1v1h-1zM2 21h1v1h-1zM19 21h1v1h-1zM27 21h1v1h-1zM39 21h1v1h-1zM44 21h1v1h-1zM1 22h1v1h-1zM7 22h1v1h-1zM55 22h1v1h-1zM61 22h1v1h-1zM72 22h1v1h-1zM13 23h1v1h-1zM41 23h1v1h-1zM47 23h1v1h-1zM59 23h1v1h-1zM71 23h1v1h-1zM4 24h1v1h-1zM7 24h1v1h-1zM25 24h1v1h-1zM29 24h1v1h-1zM42 24h1v1h-1zM47 24h1v1h-1zM65 24h1v1h-1zM73 24h2v1h-2zM7 25h1v1h-1zM15 25h1v1h-1zM39 25h1v1h-1zM43 25h1v1h-1zM46 25h1v1h-1zM54 25h1v1h-1zM57 25h1v1h-1zM59 25h1v1h-1zM64 25h1v1h-1zM69 25h1v1h-1zM9 26h3v1h-3zM14 26h1v1h-1zM20 26h1v1h-1zM34 26h1v1h-1zM37 26h1v1h-1zM52 26h1v1h-1zM69 26h1v1h-1zM73 26h1v1h-1zM77 26h1v1h-1zM7 27h1v1h-1zM13 27h1v1h-1zM16 27h1v1h-1zM19 27h2v1h-2zM44 27h1v1h-1zM47 27h1v1h-1zM50 27h1v1h-1zM54 27h1v1h-1zM70 27h1v1h-1zM13 28h1v1h-1zM21 28h1v1h-1zM51 28h1v1h-1zM67 28h1v1h-1zM1 29h2v1h-2zM26 29h1v1h-1zM52 29h1v1h-1zM69 29h1v1h-1zM31 30h1v1h-1zM56 30h1v1h-1zM14 31h1v1h-1zM16 31h1v1h-1zM19 31h1v1h-1zM50 31h2v1h-2zM61 31h1v1h-1zM75 31h1v1h-1zM8 32h1v1h-1zM14 32h2v1h-2zM49 32h1v1h-1zM58 32h1v1h-1zM72 32h1v1h-1zM75 32h1v1h-1zM6 33h1v1h-1zM11 33h1v1h-1zM26 33h1v1h-1zM43 33h2v1h-2zM62 33h1v1h-1zM70 33h1v1h-1zM9 34h1v1h-1zM30 34h1v1h-1zM38 34h1v1h-1zM54 34h1v1h-1zM31 35h1v1h-1zM44 35h1v1h-1zM69 35h2v1h-2zM1 36h1v1h-1zM9 36h1v1h-1zM56 36h1v1h-1zM4 37h1v1h-1zM21 37h1v1h-1zM31 37h1v1h-1zM44 37h1v1h-1zM52 37h1v1h-1zM75 37h1v1h-1zM17 38h1v1h-1zM40 38h1v1h-1zM61 38h1v1h-1zM0 39h1v1h-1zM7 39h1v1h-1zM32 39h1v1h-1zM54 39h1v1h-1zM3 40h1v1h-1zM28 40h1v1h-1zM45 40h1v1h-1zM48 40h1v1h-1zM54 40h2v1h-2zM63 40h1v1h-1zM67 40h1v1h-1zM74 40h1v1h-1zM18 41h1v1h-1zM25 41h1v1h-1zM31 41h1v1h-1zM46 41h1v1h-1zM60 41h1v1h-1zM64 41h1v1h-1zM69 41h1v1h-1zM20 42h1v1h-1zM37 42h1v1h-1zM69 42h1v1h-1zM74 42h1v1h-1zM7 43h1v1h-1zM26 43h1v1h-1zM44 43h1v1h-1zM46 43h1v1h-1zM66 43h1v1h-1zM12 44h1v1h-1zM23 44h1v1h-1zM47 44h1v1h-1zM58 44h1v1h-1zM62 44h1v1h-1zM43 45h1v1h-1zM46 45h1v1h-1zM0 46h1v1h-1zM22 46h1v1h-1zM30 46h1v1h-1zM40 46h1v1h-1zM44 46h1v1h-1zM54 46h1v1h-1zM58 46h1v1h-1zM70 46h1v1h-1zM2 47h1v1h-1zM21 47h1v1h-1zM26 47h1v1h-1zM47 47h1v1h-1zM50 47h1v1h-1zM0 48h1v1h-1zM12 48h1v1h-1zM15 48h1v1h-1zM37 48h1v1h-1zM52 48h1v1h-1zM61 48h1v1h-1zM3 49h1v1h-1zM5 49h1v1h-1zM10 49h1v1h-1zM42 49h1v1h-1zM45 49h2v1h-2zM57 49h1v1h-1zM23 50h1v1h-1zM37 50h1v1h-1zM46 50h1v1h-1zM54 50h1v1h-1zM60 50h1v1h-1zM75 50h1v1h-1zM18 51h1v1h-1zM23 51h1v1h-1zM47 51h1v1h-1zM54 51h1v1h-1zM59 51h1v1h-1zM65 51h1v1h-1zM18 52h2v1h-2zM21 52h1v1h-1zM23 52h1v1h-1zM31 52h1v1h-1zM50 52h1v1h-1zM74 52h1v1h-1zM31 53h1v1h-1zM35 53h1v1h-1zM37 53h1v1h-1zM46 53h1v1h-1zM73 53h1v1h-1zM76 54h2v1h-2zM1 55h1v1h-1zM6 55h1v1h-1zM21 55h1v1h-1zM31 55h1v1h-1zM35 55h1v1h-1zM60 55h1v1h-1zM10 56h1v1h-1zM15 56h1v1h-1zM35 56h1v1h-1zM58 56h1v1h-1zM1 57h1v1h-1zM4 57h1v1h-1zM11 57h1v1h-1zM22 57h2v1h-2zM60 57h2v1h-2zM9 58h1v1h-1zM61 58h1v1h-1zM64 58h1v1h-1zM9 59h1v1h-1zM20 59h2v1h-2zM35 59h3v1h-3zM46 59h1v1h-1zM58 59h1v1h-1zM69 59h1v1h-1zM13 60h1v1h-1zM19 60h1v1h-1zM28 60h1v1h-1zM35 60h1v1h-1zM73 60h1v1h-1zM3 61h1v1h-1zM30 61h2v1h-2zM40 61h1v1h-1zM54 61h2v1h-2zM76 61h1v1h-1zM3 62h2v1h-2zM15 62h1v1h-1zM31 62h1v1h-1zM55 62h1v1h-1zM61 62h2v1h-2zM64 62h1v1h-1zM68 62h1v1h-1zM1 63h1v1h-1zM14 63h1v1h-1zM17 63h1v1h-1zM54 63h1v1h-1zM77 63h1v1h-1zM3 64h2v1h-2zM12 64h1v1h-1zM24 64h1v1h-1zM26 64h2v1h-2zM44 64h1v1h-1zM47 64h1v1h-1zM71 64h1v1h-1zM13 65h1v1h-1zM62 65h1v1h-1zM1 66h1v1h-1zM43 66h1v1h-1zM71 66h2v1h-2zM77 66h1v1h-1zM19 67h1v1h-1zM39 67h1v1h-1zM46 67h1v1h-1zM69 67h1v1h-1zM76 67h1v1h-1zM6 68h1v1h-1zM14 68h1v1h-1zM23 68h2v1h-2zM36 68h1v1h-1zM38 68h1v1h-1zM51 68h1v1h-1zM75 68h1v1h-1zM5 69h1v1h-1zM53 69h1v1h-1zM71 69h1v1h-1zM2 70h1v1h-1zM17 70h1v1h-1zM43 70h1v1h-1zM60 70h1v1h-1zM65 70h2v1h-2zM8 71h2v1h-2zM36 71h1v1h-1zM52 71h1v1h-1zM55 71h1v1h-1zM68 71h1v1h-1zM71 71h1v1h-1zM6 72h1v1h-1zM8 72h1v1h-1zM37 72h2v1h-2zM42 72h1v1h-1zM55 72h1v1h-1zM64 72h1v1h-1zM72 72h1v1h-1zM9 73h1v1h-1zM23 73h1v1h-1zM39 73h1v1h-1zM54 73h1v1h-1zM56 73h1v1h-1zM61 73h2v1h-2zM66 73h1v1h-1zM0 74h1v1h-1zM3 74h1v1h-1zM10 74h1v1h-1zM38 74h1v1h-1zM40 74h1v1h-1zM44 74h1v1h-1zM48 74h1v1h-1zM68 74h1v1h-1zM76 74h1v1h-1zM3 75h2v1h-2zM17 75h1v1h-1zM19 75h2v1h-2zM22 75h1v1h-1zM46 75h1v1h-1zM71 75h2v1h-2z"/>
<path fill="#8f8f8f" stroke="#8f8f8f" stroke-width="0.08" d="M24 0h2v1h-2zM58 0h1v1h-1zM61 0h1v1h-1zM4 1h1v1h-1zM6 1h1v1h-1zM12 1h1v1h-1zM17 1h1v1h-1zM27 1h1v1h-1zM43 1h1v1h-1zM56 1h1v1h-1zM59 1h1v1h-1zM22 2h1v1h-1zM43 2h1v1h-1zM72 2h1v1h-1zM77 2h1v1h-1zM17 3h3v1h-3zM26 3h1v1h-1zM44 3h1v1h-1zM51 3h1v1h-1zM60 3h1v1h-1zM68 3h1v1h-1zM71 3h1v1h-1zM23 4h1v1h-1zM39 4h1v1h-1zM51 4h1v1h-1zM71 4h1v1h-1zM42 5h1v1h-1zM54 5h1v1h-1zM72 5h1v1h-1zM74 5h1v1h-1zM20 6h1v1h-1zM40 6h1v1h-1zM65 6h1v1h-1zM76 6h1v1h-1zM23 7h1v1h-1zM25 7h1v1h-1zM39 7h1v1h-1zM76 7h1v1h-1zM3 8h1v1h-1zM9 8h1v1h-1zM18 8h1v1h-1zM26 8h1v1h-1zM57 8h1v1h-1zM59 8h1v1h-1zM73 8h3v1h-3zM36 9h1v1h-1zM56 9h1v1h-1zM63 9h1v1h-1zM75 10h1v1h-1zM10 11h1v1h-1zM19 11h1v1h-1zM22 11h1v1h-1zM24 11h1v1h-1zM37 11h1v1h-1zM45 11h1v1h-1zM47 11h1v1h-1zM57 11h2v1h-2zM61 11h1v1h-1zM3 12h1v1h-1zM8 12h1v1h-1zM10 12h1v1h-1zM18 12h1v1h-1zM58 12h3v1h-3zM74 12h1v1h-1zM4 13h1v1h-1zM14 13h1v1h-1zM17 13h1v1h-1zM75 13h1v1h-1zM19 14h1v1h-1zM6 15h1v1h-1zM15 15h1v1h-1zM20 15h2v1h-2zM41 15h1v1h-1zM59 15h1v1h-1zM74 15h1v1h-1zM6 16h1v1h-1zM11 16h1v1h-1zM42 16h1v1h-1zM64 16h2v1h-2zM72 16h1v1h-1zM74 16h1v1h-1zM76 16h1v1h-1zM3 17h1v1h-1zM9 17h1v1h-1zM20 17h1v1h-1zM29 17h2v1h-2zM27 18h1v1h-1zM40 18h1v1h-1zM68 18h1v1h-1zM70 18h1v1h-1zM3 19h1v1h-1zM8 19h1v1h-1zM22 19h1v1h-1zM54 19h1v1h-1zM62 19h1v1h-1zM28 20h1v1h-1zM53 20h1v1h-1zM55 20h1v1h-1zM72 20h1v1h-1zM76 20h1v1h-1zM40 21h1v1h-1zM45 21h1v1h-1zM61 21h1v1h-1zM75 21h1v1h-1zM9 22h1v1h-1zM18 22h1v1h-1zM20 22h1v1h-1zM27 22h1v1h-1zM34 22h1v1h-1zM43 22h1v1h-1zM66 22h1v1h-1zM26 23h1v1h-1zM62 23h1v1h-1zM72 23h1v1h-1zM76 23h1v1h-1zM20 24h1v1h-1zM26 24h1v1h-1zM33 24h1v1h-1zM45 24h1v1h-1zM53 24h1v1h-1zM61 25h1v1h-1zM77 25h1v1h-1zM27 26h1v1h-1zM44 26h1v1h-1zM61 26h2v1h-2zM64 26h1v1h-1zM67 26h1v1h-1zM21 27h1v1h-1zM24 27h1v1h-1zM28 27h1v1h-1zM32 27h1v1h-1zM67 27h1v1h-1zM72 27h1v1h-1zM5 28h1v1h-1zM26 28h1v1h-1zM44 28h1v1h-1zM70 28h1v1h-1zM0 29h1v1h-1zM5 29h1v1h-1zM19 29h1v1h-1zM21 29h1v1h-1zM36 29h1v1h-1zM26 30h1v1h-1zM36 30h1v1h-1zM63 30h1v1h-1zM66 30h1v1h-1zM68 30h1v1h-1zM25 31h1v1h-1zM39 31h1v1h-1zM46 31h1v1h-1zM53 31h1v1h-1zM63 31h1v1h-1zM23 32h1v1h-1zM30 32h2v1h-2zM39 32h1v1h-1zM67 32h1v1h-1zM77 32h1v1h-1zM8 33h1v1h-1zM16 33h1v1h-1zM28 33h1v1h-1zM30 33h1v1h-1zM34 33h1v1h-1zM50 33h1v1h-1zM66 33h1v1h-1zM12 34h1v1h-1zM14 34h1v1h-1zM32 34h1v1h-1zM43 34h1v1h-1zM67 34h1v1h-1zM12 35h1v1h-1zM19 35h1v1h-1zM30 35h1v1h-1zM52 35h1v1h-1zM72 35h1v1h-1zM5 36h1v1h-1zM21 36h1v1h-1zM31 36h1v1h-1zM34 36h1v1h-1zM43 36h1v1h-1zM54 36h1v1h-1zM63 36h1v1h-1zM2 37h1v1h-1zM48 37h1v1h-1zM7 38h2v1h-2zM18 38h1v1h-1zM37 38h1v1h-1zM45 38h1v1h-1zM57 38h2v1h-2zM62 38h1v1h-1zM70 38h1v1h-1zM45 39h1v1h-1zM56 39h1v1h-1zM72 39h2v1h-2zM5 40h1v1h-1zM22 40h1v1h-1zM60 40h1v1h-1zM17 41h1v1h-1zM44 41h2v1h-2zM54 41h2v1h-2zM59 41h1v1h-1zM63 41h1v1h-1zM10 42h1v1h-1zM27 42h1v1h-1zM48 42h1v1h-1zM57 42h1v1h-1zM5 43h1v1h-1zM10 43h2v1h-2zM77 43h1v1h-1zM2 44h1v1h-1zM10 44h1v1h-1zM42 44h1v1h-1zM74 44h1v1h-1zM31 45h1v1h-1zM36 45h1v1h-1zM47 45h1v1h-1zM70 45h1v1h-1zM4 46h1v1h-1zM43 46h1v1h-1zM46 46h1v1h-1zM53 46h1v1h-1zM69 46h1v1h-1zM71 46h1v1h-1zM15 47h1v1h-1zM31 47h1v1h-1zM39 47h1v1h-1zM44 47h1v1h-1zM57 47h1v1h-1zM66 47h1v1h-1zM75 47h1v1h-1zM9 48h1v1h-1zM13 48h1v1h-1zM70 48h1v1h-1zM73 48h1v1h-1zM1 49h1v1h-1zM20 49h1v1h-1zM58 49h1v1h-1zM61 49h1v1h-1zM65 49h1v1h-1zM70 49h2v1h-2zM74 49h2v1h-2zM15 50h2v1h-2zM21 50h1v1h-1zM32 50h1v1h-1zM69 50h1v1h-1zM71 50h1v1h-1zM5 51h1v1h-1zM21 51h1v1h-1zM50 51h1v1h-1zM55 51h1v1h-1zM0 52h1v1h-1zM2 52h1v1h-1zM34 52h1v1h-1zM55 52h1v1h-1zM62 52h1v1h-1zM65 52h2v1h-2zM68 52h1v1h-1zM72 52h1v1h-1zM18 53h1v1h-1zM21 53h1v1h-1zM40 53h1v1h-1zM43 53h1v1h-1zM14 54h1v1h-1zM36 54h1v1h-1zM44 54h1v1h-1zM55 54h1v1h-1zM64 54h1v1h-1zM72 54h1v1h-1zM2 55h1v1h-1zM4 55h2v1h-2zM15 55h1v1h-1zM17 55h1v1h-1zM26 55h1v1h-1zM29 55h1v1h-1zM46 55h1v1h-1zM64 55h1v1h-1zM25 56h1v1h-1zM43 56h1v1h-1zM46 56h1v1h-1zM60 56h2v1h-2zM65 56h1v1h-1zM67 56h1v1h-1zM70 56h1v1h-1zM2 57h1v1h-1zM24 57h1v1h-1zM44 57h1v1h-1zM3 58h1v1h-1zM30 58h1v1h-1zM36 58h1v1h-1zM46 58h1v1h-1zM1 59h1v1h-1zM19 59h1v1h-1zM23 59h1v1h-1zM27 59h1v1h-1zM34 59h1v1h-1zM60 59h1v1h-1zM67 59h1v1h-1zM4 60h1v1h-1zM9 60h1v1h-1zM39 60h1v1h-1zM51 60h1v1h-1zM64 60h1v1h-1zM69 60h1v1h-1zM75 60h2v1h-2zM10 61h1v1h-1zM12 61h1v1h-1zM37 61h1v1h-1zM65 61h1v1h-1zM9 62h1v1h-1zM21 62h1v1h-1zM36 62h1v1h-1zM47 62h1v1h-1zM65 62h1v1h-1zM72 62h2v1h-2zM19 63h1v1h-1zM23 63h1v1h-1zM39 63h1v1h-1zM55 63h1v1h-1zM7 64h1v1h-1zM13 64h1v1h-1zM56 64h1v1h-1zM60 64h1v1h-1zM73 64h1v1h-1zM4 65h1v1h-1zM23 65h1v1h-1zM36 65h1v1h-1zM44 65h1v1h-1zM52 65h1v1h-1zM56 65h1v1h-1zM14 66h2v1h-2zM53 66h1v1h-1zM2 67h1v1h-1zM13 67h1v1h-1zM31 67h1v1h-1zM45 67h1v1h-1zM47 67h1v1h-1zM64 67h1v1h-1zM72 67h1v1h-1zM4 68h1v1h-1zM17 68h1v1h-1zM22 68h1v1h-1zM31 68h1v1h-1zM39 68h1v1h-1zM62 68h1v1h-1zM6 69h1v1h-1zM9 69h1v1h-1zM13 69h1v1h-1zM37 69h1v1h-1zM47 69h2v1h-2zM63 69h1v1h-1zM75 69h1v1h-1zM4 70h1v1h-1zM15 70h1v1h-1zM51 70h1v1h-1zM56 70h1v1h-1zM69 70h1v1h-1zM71 70h1v1h-1zM17 71h1v1h-1zM39 71h1v1h-1zM59 71h1v1h-1zM64 71h1v1h-1zM1 72h4v1h-4zM15 72h1v1h-1zM44 72h1v1h-1zM62 72h1v1h-1zM3 73h1v1h-1zM26 73h1v1h-1zM29 73h1v1h-1zM9 74h1v1h-1zM16 74h2v1h-2zM69 74h1v1h-1zM6 75h1v1h-1zM18 75h1v1h-1zM31 75h1v1h-1zM36 75h1v1h-1zM55 75h1v1h-1zM67 75h2v1h-2z"/>
<path fill="#9a9a9a" stroke="#9a9a9a" stroke-width="0.08" d="M16 0h1v1h-1zM46 0h1v1h-1zM55 0h1v1h-1zM66 0h1v1h-1zM71 0h1v1h-1zM5 1h1v1h-1zM7 1h1v1h-1zM16 2h1v1h-1zM35 2h1v1h-1zM39 2h1v1h-1zM42 2h1v1h-1zM20 3h1v1h-1zM23 3h1v1h-1zM33 3h1v1h-1zM49 3h1v1h-1zM1 4h1v1h-1zM18 4h1v1h-1zM35 4h1v1h-1zM2 5h1v1h-1zM9 5h1v1h-1zM28 5h1v1h-1zM32 5h1v1h-1zM2 6h1v1h-1zM4 6h1v1h-1zM66 6h1v1h-1zM13 7h1v1h-1zM41 7h1v1h-1zM45 7h1v1h-1zM70 7h1v1h-1zM4 8h1v1h-1zM10 8h1v1h-1zM27 8h1v1h-1zM67 8h1v1h-1zM20 9h1v1h-1zM60 9h1v1h-1zM66 9h1v1h-1zM11 10h1v1h-1zM4 11h1v1h-1zM18 11h1v1h-1zM77 11h1v1h-1zM2 12h1v1h-1zM6 12h1v1h-1zM17 12h1v1h-1zM22 12h1v1h-1zM27 12h1v1h-1zM39 12h1v1h-1zM51 12h1v1h-1zM2 13h2v1h-2zM21 13h1v1h-1zM26 13h1v1h-1zM63 13h1v1h-1zM27 14h1v1h-1zM39 14h1v1h-1zM54 14h1v1h-1zM17 15h1v1h-1zM40 15h1v1h-1zM57 15h1v1h-1zM65 15h1v1h-1zM72 15h1v1h-1zM27 16h2v1h-2zM37 16h2v1h-2zM43 16h1v1h-1zM46 16h1v1h-1zM55 16h1v1h-1zM68 16h1v1h-1zM75 16h1v1h-1zM45 17h1v1h-1zM50 17h1v1h-1zM69 17h1v1h-1zM72 17h1v1h-1zM75 17h1v1h-1zM11 18h1v1h-1zM31 18h1v1h-1zM74 18h1v1h-1zM9 19h1v1h-1zM13 19h1v1h-1zM16 19h1v1h-1zM24 19h1v1h-1zM27 19h1v1h-1zM43 19h1v1h-1zM76 19h1v1h-1zM0 20h1v1h-1zM2 20h1v1h-1zM21 20h1v1h-1zM34 20h1v1h-1zM48 20h1v1h-1zM54 20h1v1h-1zM73 20h1v1h-1zM75 20h1v1h-1zM7 21h1v1h-1zM9 21h1v1h-1zM21 21h1v1h-1zM29 21h1v1h-1zM35 21h1v1h-1zM41 21h1v1h-1zM55 21h1v1h-1zM69 21h1v1h-1zM16 22h1v1h-1zM45 22h1v1h-1zM51 22h1v1h-1zM54 22h1v1h-1zM64 22h1v1h-1zM0 23h1v1h-1zM10 23h1v1h-1zM14 23h1v1h-1zM25 23h1v1h-1zM33 23h1v1h-1zM0 24h2v1h-2zM3 24h1v1h-1zM17 24h1v1h-1zM0 25h1v1h-1zM20 25h1v1h-1zM33 25h1v1h-1zM47 25h1v1h-1zM56 25h1v1h-1zM18 26h1v1h-1zM45 26h1v1h-1zM54 26h1v1h-1zM66 26h1v1h-1zM71 26h1v1h-1zM45 27h1v1h-1zM16 28h1v1h-1zM27 28h2v1h-2zM13 29h1v1h-1zM30 29h1v1h-1zM33 29h1v1h-1zM0 30h2v1h-2zM17 30h1v1h-1zM39 30h1v1h-1zM54 30h1v1h-1zM58 30h1v1h-1zM77 30h1v1h-1zM57 31h2v1h-2zM68 31h1v1h-1zM20 32h1v1h-1zM36 32h1v1h-1zM27 33h1v1h-1zM31 33h1v1h-1zM38 33h1v1h-1zM13 34h1v1h-1zM15 34h2v1h-2zM19 34h1v1h-1zM31 34h1v1h-1zM53 34h1v1h-1zM4 35h1v1h-1zM9 35h1v1h-1zM43 35h1v1h-1zM64 35h1v1h-1zM77 35h1v1h-1zM28 36h1v1h-1zM39 36h1v1h-1zM26 37h1v1h-1zM39 37h1v1h-1zM70 37h1v1h-1zM77 37h1v1h-1zM2 38h1v1h-1zM4 38h2v1h-2zM13 38h1v1h-1zM19 38h1v1h-1zM41 38h1v1h-1zM44 38h1v1h-1zM21 39h1v1h-1zM29 39h1v1h-1zM70 39h1v1h-1zM6 40h1v1h-1zM11 40h1v1h-1zM29 40h2v1h-2zM33 40h1v1h-1zM37 40h1v1h-1zM57 40h1v1h-1zM68 40h1v1h-1zM75 40h1v1h-1zM0 41h1v1h-1zM16 41h1v1h-1zM47 41h1v1h-1zM22 42h2v1h-2zM56 42h1v1h-1zM4 43h1v1h-1zM8 43h1v1h-1zM36 43h1v1h-1zM45 43h1v1h-1zM61 43h1v1h-1zM63 43h1v1h-1zM51 44h1v1h-1zM59 44h1v1h-1zM69 44h1v1h-1zM76 44h1v1h-1zM6 45h1v1h-1zM13 45h1v1h-1zM53 45h1v1h-1zM63 45h1v1h-1zM76 45h1v1h-1zM7 46h1v1h-1zM19 46h1v1h-1zM68 46h1v1h-1zM0 47h1v1h-1zM14 47h1v1h-1zM42 47h1v1h-1zM54 47h1v1h-1zM56 47h1v1h-1zM62 47h1v1h-1zM2 48h1v1h-1zM46 48h1v1h-1zM58 48h1v1h-1zM65 48h1v1h-1zM71 48h1v1h-1zM22 49h1v1h-1zM32 49h1v1h-1zM0 50h1v1h-1zM39 50h1v1h-1zM50 50h1v1h-1zM3 51h1v1h-1zM30 51h1v1h-1zM34 51h1v1h-1zM41 51h1v1h-1zM61 51h1v1h-1zM32 52h1v1h-1zM58 52h1v1h-1zM70 52h1v1h-1zM20 53h1v1h-1zM36 53h1v1h-1zM49 53h1v1h-1zM75 53h1v1h-1zM6 54h1v1h-1zM16 54h1v1h-1zM31 54h1v1h-1zM42 54h1v1h-1zM54 54h1v1h-1zM59 54h1v1h-1zM62 54h1v1h-1zM25 55h1v1h-1zM37 55h1v1h-1zM45 55h1v1h-1zM54 55h1v1h-1zM4 56h1v1h-1zM9 56h1v1h-1zM17 56h2v1h-2zM26 56h1v1h-1zM34 56h1v1h-1zM38 56h1v1h-1zM72 56h1v1h-1zM10 57h1v1h-1zM31 57h1v1h-1zM37 57h1v1h-1zM2 58h1v1h-1zM6 58h1v1h-1zM23 58h1v1h-1zM37 58h1v1h-1zM44 58h1v1h-1zM49 58h1v1h-1zM48 59h1v1h-1zM52 59h1v1h-1zM43 60h3v1h-3zM50 60h1v1h-1zM54 60h1v1h-1zM61 60h1v1h-1zM66 60h1v1h-1zM33 61h1v1h-1zM48 61h1v1h-1zM51 61h1v1h-1zM1 62h1v1h-1zM63 62h1v1h-1zM0 63h1v1h-1zM7 63h1v1h-1zM1 64h1v1h-1zM15 64h1v1h-1zM62 64h1v1h-1zM12 65h1v1h-1zM17 65h1v1h-1zM20 65h2v1h-2zM27 65h1v1h-1zM29 65h1v1h-1zM42 65h1v1h-1zM69 65h1v1h-1zM0 66h1v1h-1zM8 66h1v1h-1zM21 66h2v1h-2zM27 66h3v1h-3zM39 66h1v1h-1zM46 66h1v1h-1zM68 66h1v1h-1zM7 67h1v1h-1zM21 67h1v1h-1zM35 67h2v1h-2zM51 67h1v1h-1zM57 67h1v1h-1zM15 68h1v1h-1zM26 68h1v1h-1zM61 68h1v1h-1zM67 68h1v1h-1zM72 68h1v1h-1zM31 69h1v1h-1zM39 69h1v1h-1zM51 69h1v1h-1zM70 69h1v1h-1zM72 69h1v1h-1zM1 70h1v1h-1zM18 70h1v1h-1zM28 70h2v1h-2zM44 70h1v1h-1zM48 70h1v1h-1zM50 70h1v1h-1zM59 70h1v1h-1zM26 71h1v1h-1zM30 71h1v1h-1zM72 71h1v1h-1zM47 72h1v1h-1zM66 72h1v1h-1zM5 73h1v1h-1zM16 73h1v1h-1zM55 73h1v1h-1zM65 73h1v1h-1zM27 74h1v1h-1zM47 74h1v1h-1zM51 74h1v1h-1zM65 74h1v1h-1zM16 75h1v1h-1zM42 75h1v1h-1zM48 75h1v1h-1z"/>
<path fill="#a5a5a5" stroke="#a5a5a5" stroke-width="0.08" d="M37 0h1v1h-1zM39 0h1v1h-1zM45 0h1v1h-1zM50 0h1v1h-1zM42 1h1v1h-1zM63 1h2v1h-2zM72 1h1v1h-1zM61 2h1v1h-1zM67 2h1v1h-1zM40 3h1v1h-1zM72 3h1v1h-1zM28 4h1v1h-1zM37 4h1v1h-1zM62 4h1v1h-1zM65 4h1v1h-1zM69 4h1v1h-1zM24 5h1v1h-1zM27 5h1v1h-1zM6 6h1v1h-1zM28 6h1v1h-1zM47 6h1v1h-1zM70 6h2v1h-2zM48 7h1v1h-1zM50 7h1v1h-1zM53 7h1v1h-1zM23 8h1v1h-1zM46 8h2v1h-2zM56 8h1v1h-1zM23 9h1v1h-1zM33 9h1v1h-1zM40 9h1v1h-1zM45 9h1v1h-1zM48 9h1v1h-1zM3 10h1v1h-1zM21 10h1v1h-1zM23 10h2v1h-2zM29 10h1v1h-1zM48 10h1v1h-1zM29 11h2v1h-2zM32 11h1v1h-1zM46 11h1v1h-1zM49 11h1v1h-1zM51 11h1v1h-1zM4 12h1v1h-1zM23 12h1v1h-1zM69 12h2v1h-2zM10 13h1v1h-1zM20 13h1v1h-1zM23 13h1v1h-1zM50 13h1v1h-1zM4 14h1v1h-1zM16 14h1v1h-1zM55 14h1v1h-1zM62 14h1v1h-1zM0 15h1v1h-1zM14 15h1v1h-1zM54 15h1v1h-1zM2 16h1v1h-1zM21 16h2v1h-2zM31 16h1v1h-1zM47 16h1v1h-1zM71 16h1v1h-1zM53 17h1v1h-1zM60 17h1v1h-1zM7 18h1v1h-1zM25 18h1v1h-1zM38 18h2v1h-2zM25 19h1v1h-1zM29 19h1v1h-1zM34 19h1v1h-1zM15 20h1v1h-1zM22 20h1v1h-1zM36 20h1v1h-1zM18 21h1v1h-1zM28 21h1v1h-1zM37 21h1v1h-1zM43 21h1v1h-1zM59 21h1v1h-1zM66 21h1v1h-1zM17 22h1v1h-1zM37 22h1v1h-1zM49 22h1v1h-1zM62 22h1v1h-1zM12 23h1v1h-1zM24 23h1v1h-1zM30 23h1v1h-1zM35 23h2v1h-2zM13 24h1v1h-1zM18 24h1v1h-1zM27 24h2v1h-2zM39 24h1v1h-1zM44 24h1v1h-1zM59 24h1v1h-1zM70 24h1v1h-1zM12 25h1v1h-1zM31 25h1v1h-1zM35 25h1v1h-1zM45 25h1v1h-1zM0 26h1v1h-1zM25 26h1v1h-1zM35 26h1v1h-1zM53 26h1v1h-1zM56 26h1v1h-1zM60 26h1v1h-1zM63 26h1v1h-1zM14 28h1v1h-1zM42 28h1v1h-1zM45 28h1v1h-1zM47 28h1v1h-1zM40 29h1v1h-1zM48 29h1v1h-1zM56 29h1v1h-1zM71 29h1v1h-1zM76 29h1v1h-1zM23 30h1v1h-1zM50 30h2v1h-2zM61 30h1v1h-1zM65 30h1v1h-1zM15 31h1v1h-1zM31 31h1v1h-1zM64 31h1v1h-1zM2 32h3v1h-3zM9 32h1v1h-1zM11 32h1v1h-1zM25 32h1v1h-1zM48 32h1v1h-1zM59 32h1v1h-1zM62 32h1v1h-1zM68 32h1v1h-1zM70 32h1v1h-1zM7 33h1v1h-1zM58 33h1v1h-1zM64 33h1v1h-1zM67 33h2v1h-2zM39 34h1v1h-1zM48 34h1v1h-1zM7 35h1v1h-1zM37 35h1v1h-1zM45 35h1v1h-1zM49 35h2v1h-2zM54 35h1v1h-1zM66 35h1v1h-1zM2 36h1v1h-1zM8 36h1v1h-1zM33 36h1v1h-1zM9 37h1v1h-1zM23 37h1v1h-1zM33 37h1v1h-1zM60 37h1v1h-1zM69 37h1v1h-1zM73 37h1v1h-1zM25 38h2v1h-2zM31 38h1v1h-1zM51 38h1v1h-1zM18 39h1v1h-1zM47 39h1v1h-1zM61 39h1v1h-1zM69 39h1v1h-1zM1 40h1v1h-1zM8 40h1v1h-1zM13 40h1v1h-1zM27 40h1v1h-1zM31 40h1v1h-1zM36 40h1v1h-1zM38 40h1v1h-1zM73 40h1v1h-1zM49 41h1v1h-1zM53 41h1v1h-1zM71 41h1v1h-1zM5 42h1v1h-1zM18 42h1v1h-1zM21 42h1v1h-1zM24 42h1v1h-1zM30 42h1v1h-1zM35 42h1v1h-1zM53 42h1v1h-1zM3 43h1v1h-1zM17 43h1v1h-1zM27 43h1v1h-1zM40 43h1v1h-1zM54 43h1v1h-1zM65 43h1v1h-1zM3 44h1v1h-1zM61 44h1v1h-1zM19 45h1v1h-1zM24 45h1v1h-1zM3 46h1v1h-1zM11 46h1v1h-1zM23 46h1v1h-1zM29 46h1v1h-1zM31 46h1v1h-1zM66 46h1v1h-1zM10 47h1v1h-1zM28 47h1v1h-1zM43 47h1v1h-1zM65 47h1v1h-1zM74 47h1v1h-1zM76 47h1v1h-1zM41 48h1v1h-1zM50 48h1v1h-1zM56 48h1v1h-1zM21 49h1v1h-1zM31 49h1v1h-1zM39 49h1v1h-1zM41 49h1v1h-1zM50 49h1v1h-1zM60 49h1v1h-1zM62 49h1v1h-1zM56 50h1v1h-1zM12 51h1v1h-1zM19 51h1v1h-1zM48 51h1v1h-1zM36 52h1v1h-1zM56 52h1v1h-1zM73 52h1v1h-1zM33 53h1v1h-1zM53 53h1v1h-1zM27 54h1v1h-1zM29 54h1v1h-1zM74 54h1v1h-1zM12 55h1v1h-1zM16 55h1v1h-1zM6 56h1v1h-1zM28 56h1v1h-1zM33 56h1v1h-1zM16 57h1v1h-1zM27 57h1v1h-1zM30 57h1v1h-1zM43 57h1v1h-1zM52 57h2v1h-2zM34 58h1v1h-1zM57 58h1v1h-1zM77 58h1v1h-1zM2 59h1v1h-1zM31 59h1v1h-1zM59 59h1v1h-1zM76 59h1v1h-1zM21 60h2v1h-2zM24 60h1v1h-1zM56 60h1v1h-1zM62 60h1v1h-1zM74 60h1v1h-1zM4 61h1v1h-1zM6 61h1v1h-1zM26 61h1v1h-1zM35 61h1v1h-1zM53 61h1v1h-1zM60 61h1v1h-1zM73 61h1v1h-1zM12 62h1v1h-1zM49 62h1v1h-1zM52 62h1v1h-1zM75 62h1v1h-1zM35 63h1v1h-1zM37 63h1v1h-1zM47 63h1v1h-1zM22 64h1v1h-1zM45 65h1v1h-1zM48 65h1v1h-1zM20 66h1v1h-1zM70 66h1v1h-1zM22 67h1v1h-1zM48 67h1v1h-1zM53 67h1v1h-1zM15 69h1v1h-1zM20 69h1v1h-1zM22 69h1v1h-1zM25 69h1v1h-1zM29 69h1v1h-1zM62 69h1v1h-1zM65 69h1v1h-1zM57 70h1v1h-1zM72 70h1v1h-1zM23 71h1v1h-1zM29 71h1v1h-1zM37 71h1v1h-1zM42 71h1v1h-1zM61 71h1v1h-1zM66 71h1v1h-1zM76 71h1v1h-1zM24 72h1v1h-1zM50 72h1v1h-1zM13 73h1v1h-1zM44 73h1v1h-1zM26 74h1v1h-1zM41 74h1v1h-1zM49 75h1v1h-1z"/>
<path fill="#afafaf" stroke="#afafaf" stroke-width="0.08" d="M5 0h1v1h-1zM61 1h1v1h-1zM75 3h1v1h-1zM60 4h1v1h-1zM0 5h1v1h-1zM6 5h1v1h-1zM39 5h1v1h-1zM47 5h1v1h-1zM53 5h1v1h-1zM60 5h1v1h-1zM62 5h1v1h-1zM67 6h1v1h-1zM1 7h2v1h-2zM24 7h1v1h-1zM49 7h1v1h-1zM56 7h1v1h-1zM77 7h1v1h-1zM30 8h2v1h-2zM37 9h1v1h-1zM41 9h1v1h-1zM43 9h1v1h-1zM35 10h1v1h-1zM55 10h1v1h-1zM70 10h1v1h-1zM3 11h1v1h-1zM48 11h1v1h-1zM50 11h1v1h-1zM26 12h1v1h-1zM53 12h1v1h-1zM27 13h1v1h-1zM32 13h1v1h-1zM37 13h1v1h-1zM53 13h1v1h-1zM60 13h1v1h-1zM8 14h1v1h-1zM10 14h1v1h-1zM41 14h1v1h-1zM61 14h1v1h-1zM4 15h1v1h-1zM23 15h1v1h-1zM30 15h1v1h-1zM34 15h1v1h-1zM37 15h1v1h-1zM39 15h1v1h-1zM51 15h1v1h-1zM56 15h1v1h-1zM1 16h1v1h-1zM9 16h1v1h-1zM33 16h1v1h-1zM39 16h1v1h-1zM10 17h1v1h-1zM23 17h1v1h-1zM27 17h1v1h-1zM35 18h1v1h-1zM42 18h1v1h-1zM44 18h1v1h-1zM55 18h1v1h-1zM66 18h1v1h-1zM17 19h1v1h-1zM28 19h1v1h-1zM37 19h1v1h-1zM12 20h1v1h-1zM18 20h1v1h-1zM45 20h1v1h-1zM22 21h2v1h-2zM31 21h1v1h-1zM53 21h1v1h-1zM63 21h1v1h-1zM29 22h1v1h-1zM48 22h1v1h-1zM15 23h1v1h-1zM53 23h1v1h-1zM66 23h1v1h-1zM21 24h1v1h-1zM51 24h1v1h-1zM57 24h1v1h-1zM62 25h1v1h-1zM7 26h1v1h-1zM24 26h1v1h-1zM70 26h1v1h-1zM23 27h1v1h-1zM35 27h1v1h-1zM9 28h2v1h-2zM22 28h1v1h-1zM29 28h1v1h-1zM32 28h2v1h-2zM43 28h1v1h-1zM53 28h1v1h-1zM3 29h1v1h-1zM11 29h1v1h-1zM23 29h2v1h-2zM29 29h1v1h-1zM43 29h1v1h-1zM51 29h1v1h-1zM8 30h1v1h-1zM25 30h1v1h-1zM28 30h1v1h-1zM32 30h1v1h-1zM64 30h1v1h-1zM11 31h1v1h-1zM56 31h1v1h-1zM0 32h1v1h-1zM27 32h1v1h-1zM29 32h1v1h-1zM42 32h1v1h-1zM61 32h1v1h-1zM69 32h1v1h-1zM5 33h1v1h-1zM10 33h1v1h-1zM24 33h1v1h-1zM39 33h1v1h-1zM41 33h1v1h-1zM22 34h1v1h-1zM44 34h1v1h-1zM28 35h1v1h-1zM32 35h1v1h-1zM39 35h1v1h-1zM53 35h1v1h-1zM48 36h1v1h-1zM50 37h1v1h-1zM9 38h1v1h-1zM73 38h1v1h-1zM5 39h1v1h-1zM25 39h1v1h-1zM33 39h1v1h-1zM40 39h1v1h-1zM62 39h1v1h-1zM68 39h1v1h-1zM42 40h1v1h-1zM49 40h1v1h-1zM66 40h1v1h-1zM70 40h1v1h-1zM26 41h1v1h-1zM34 41h1v1h-1zM64 42h1v1h-1zM71 42h1v1h-1zM53 43h1v1h-1zM32 44h2v1h-2zM63 44h1v1h-1zM65 44h1v1h-1zM2 46h1v1h-1zM24 46h1v1h-1zM59 46h2v1h-2zM73 46h1v1h-1zM17 47h1v1h-1zM29 47h1v1h-1zM32 47h1v1h-1zM37 47h1v1h-1zM41 47h1v1h-1zM71 47h1v1h-1zM73 47h1v1h-1zM17 48h1v1h-1zM31 48h1v1h-1zM15 49h1v1h-1zM34 49h1v1h-1zM38 49h1v1h-1zM49 49h1v1h-1zM54 49h1v1h-1zM56 49h1v1h-1zM73 49h1v1h-1zM26 50h1v1h-1zM36 50h1v1h-1zM61 50h1v1h-1zM64 50h1v1h-1zM11 51h1v1h-1zM24 51h1v1h-1zM60 51h1v1h-1zM77 51h1v1h-1zM29 52h1v1h-1zM17 53h1v1h-1zM20 54h1v1h-1zM41 54h1v1h-1zM7 55h1v1h-1zM28 55h1v1h-1zM48 55h1v1h-1zM59 55h1v1h-1zM2 56h1v1h-1zM29 56h1v1h-1zM41 56h1v1h-1zM59 56h1v1h-1zM62 56h1v1h-1zM38 57h1v1h-1zM46 57h1v1h-1zM17 58h1v1h-1zM24 58h1v1h-1zM43 58h1v1h-1zM52 58h1v1h-1zM0 59h1v1h-1zM26 59h1v1h-1zM41 59h1v1h-1zM55 59h1v1h-1zM77 59h1v1h-1zM34 60h1v1h-1zM53 60h1v1h-1zM71 60h1v1h-1zM21 61h2v1h-2zM25 61h1v1h-1zM75 61h1v1h-1zM14 62h1v1h-1zM22 62h1v1h-1zM29 62h1v1h-1zM39 62h1v1h-1zM32 63h1v1h-1zM63 63h1v1h-1zM32 64h1v1h-1zM35 64h1v1h-1zM61 64h1v1h-1zM68 64h1v1h-1zM48 66h1v1h-1zM30 67h1v1h-1zM49 67h1v1h-1zM65 67h2v1h-2zM9 68h1v1h-1zM18 68h1v1h-1zM32 68h1v1h-1zM68 68h1v1h-1zM70 68h1v1h-1zM52 69h1v1h-1zM49 70h1v1h-1zM55 70h1v1h-1zM41 71h1v1h-1zM44 71h1v1h-1zM51 71h1v1h-1zM53 71h1v1h-1zM14 72h1v1h-1zM25 72h1v1h-1zM49 72h1v1h-1zM2 73h1v1h-1zM6 73h1v1h-1zM18 74h2v1h-2zM23 74h1v1h-1zM39 74h1v1h-1zM5 75h1v1h-1zM15 75h1v1h-1zM24 75h1v1h-1z"/>
<path fill="#bababa" stroke="#bababa" stroke-width="0.08" d="M17 0h1v1h-1zM72 0h1v1h-1zM57 1h1v1h-1zM62 1h1v1h-1zM53 2h1v1h-1zM4 4h1v1h-1zM21 4h1v1h-1zM72 4h1v1h-1zM26 5h1v1h-1zM37 5h1v1h-1zM35 6h2v1h-2zM42 6h1v1h-1zM21 7h1v1h-1zM69 7h1v1h-1zM32 8h1v1h-1zM53 8h1v1h-1zM29 9h1v1h-1zM22 10h1v1h-1zM25 10h1v1h-1zM43 10h2v1h-2zM53 10h1v1h-1zM61 10h1v1h-1zM13 11h1v1h-1zM38 11h1v1h-1zM52 11h1v1h-1zM28 12h1v1h-1zM36 12h1v1h-1zM22 13h1v1h-1zM25 13h1v1h-1zM41 13h1v1h-1zM46 13h1v1h-1zM76 13h1v1h-1zM3 14h1v1h-1zM23 14h1v1h-1zM32 14h1v1h-1zM35 14h1v1h-1zM37 14h1v1h-1zM59 14h1v1h-1zM10 15h2v1h-2zM19 15h1v1h-1zM53 15h1v1h-1zM18 16h1v1h-1zM23 16h1v1h-1zM29 16h1v1h-1zM45 16h1v1h-1zM50 16h1v1h-1zM54 16h1v1h-1zM57 16h1v1h-1zM0 17h1v1h-1zM22 17h1v1h-1zM19 18h1v1h-1zM22 18h3v1h-3zM28 18h1v1h-1zM50 18h1v1h-1zM23 19h1v1h-1zM26 19h1v1h-1zM31 19h1v1h-1zM38 19h1v1h-1zM41 19h1v1h-1zM26 20h1v1h-1zM29 20h1v1h-1zM44 20h1v1h-1zM0 21h1v1h-1zM51 21h1v1h-1zM36 22h1v1h-1zM2 23h1v1h-1zM20 23h1v1h-1zM28 23h2v1h-2zM24 24h1v1h-1zM30 24h1v1h-1zM34 24h1v1h-1zM36 24h1v1h-1zM27 25h1v1h-1zM53 25h1v1h-1zM65 25h1v1h-1zM19 26h1v1h-1zM26 26h1v1h-1zM28 26h1v1h-1zM42 26h1v1h-1zM15 28h1v1h-1zM20 28h1v1h-1zM35 28h1v1h-1zM40 28h1v1h-1zM52 28h1v1h-1zM27 29h1v1h-1zM41 29h1v1h-1zM9 30h1v1h-1zM27 30h1v1h-1zM26 31h1v1h-1zM52 31h1v1h-1zM40 32h1v1h-1zM22 33h1v1h-1zM24 34h1v1h-1zM26 34h1v1h-1zM27 35h1v1h-1zM67 35h1v1h-1zM28 37h1v1h-1zM40 37h1v1h-1zM22 38h1v1h-1zM30 38h1v1h-1zM48 38h1v1h-1zM24 39h1v1h-1zM49 39h1v1h-1zM51 40h1v1h-1zM29 41h1v1h-1zM3 42h1v1h-1zM29 42h1v1h-1zM40 42h1v1h-1zM45 42h3v1h-3zM21 43h1v1h-1zM24 43h1v1h-1zM30 43h1v1h-1zM62 43h1v1h-1zM67 43h1v1h-1zM11 44h1v1h-1zM28 44h1v1h-1zM36 44h1v1h-1zM50 44h1v1h-1zM77 44h1v1h-1zM26 45h1v1h-1zM29 45h1v1h-1zM34 46h1v1h-1zM72 46h1v1h-1zM23 47h1v1h-1zM40 47h1v1h-1zM48 47h1v1h-1zM3 48h1v1h-1zM40 48h1v1h-1zM49 48h1v1h-1zM40 49h1v1h-1zM52 49h1v1h-1zM76 49h1v1h-1zM19 50h1v1h-1zM22 50h1v1h-1zM40 50h1v1h-1zM43 50h1v1h-1zM48 50h1v1h-1zM73 50h1v1h-1zM14 51h1v1h-1zM25 51h1v1h-1zM62 51h1v1h-1zM47 52h1v1h-1zM28 53h1v1h-1zM42 53h1v1h-1zM25 54h1v1h-1zM53 54h1v1h-1zM41 55h1v1h-1zM32 56h1v1h-1zM25 57h2v1h-2zM55 57h1v1h-1zM25 58h1v1h-1zM35 58h1v1h-1zM24 61h1v1h-1zM32 61h1v1h-1zM34 61h1v1h-1zM74 61h1v1h-1zM23 62h1v1h-1zM32 62h1v1h-1zM34 62h1v1h-1zM22 63h1v1h-1zM40 63h1v1h-1zM43 63h1v1h-1zM45 63h1v1h-1zM75 63h1v1h-1zM53 64h1v1h-1zM11 65h1v1h-1zM35 65h1v1h-1zM51 65h1v1h-1zM53 65h1v1h-1zM18 66h1v1h-1zM50 66h1v1h-1zM52 66h1v1h-1zM9 67h1v1h-1zM24 67h1v1h-1zM28 67h1v1h-1zM50 67h1v1h-1zM12 68h1v1h-1zM28 68h2v1h-2zM33 68h1v1h-1zM40 68h1v1h-1zM49 69h1v1h-1zM57 69h1v1h-1zM26 70h1v1h-1zM64 70h1v1h-1zM7 71h1v1h-1zM31 71h1v1h-1zM40 71h1v1h-1zM67 71h1v1h-1zM26 72h1v1h-1zM39 72h1v1h-1zM27 73h2v1h-2zM34 73h1v1h-1zM49 73h1v1h-1zM53 73h1v1h-1zM58 73h1v1h-1zM33 74h1v1h-1zM45 74h1v1h-1zM29 75h1v1h-1zM40 75h1v1h-1zM51 75h1v1h-1z"/>
<path fill="#c5c5c5" stroke="#c5c5c5" stroke-width="0.08" d="M2 0h1v1h-1zM57 0h1v1h-1zM2 1h1v1h-1zM58 1h1v1h-1zM0 2h1v1h-1zM38 5h1v1h-1zM9 6h1v1h-1zM38 6h1v1h-1zM46 6h1v1h-1zM48 6h1v1h-1zM30 7h1v1h-1zM33 7h1v1h-1zM40 7h1v1h-1zM24 8h1v1h-1zM33 8h1v1h-1zM42 8h1v1h-1zM48 8h1v1h-1zM31 9h1v1h-1zM38 9h2v1h-2zM51 9h1v1h-1zM71 9h1v1h-1zM16 10h1v1h-1zM18 10h1v1h-1zM49 10h1v1h-1zM51 10h1v1h-1zM54 10h1v1h-1zM25 11h1v1h-1zM24 12h2v1h-2zM31 12h1v1h-1zM37 12h1v1h-1zM49 12h1v1h-1zM52 12h1v1h-1zM30 13h1v1h-1zM33 13h1v1h-1zM38 13h1v1h-1zM43 13h1v1h-1zM73 13h1v1h-1zM42 14h1v1h-1zM45 14h2v1h-2zM52 14h1v1h-1zM46 15h1v1h-1zM20 16h1v1h-1zM32 17h1v1h-1zM46 17h1v1h-1zM55 17h1v1h-1zM20 18h1v1h-1zM33 18h1v1h-1zM36 18h1v1h-1zM41 18h1v1h-1zM48 18h1v1h-1zM61 18h1v1h-1zM17 20h1v1h-1zM24 20h1v1h-1zM38 20h1v1h-1zM42 20h1v1h-1zM49 20h1v1h-1zM20 21h1v1h-1zM26 21h1v1h-1zM42 21h1v1h-1zM52 21h1v1h-1zM5 22h1v1h-1zM21 22h1v1h-1zM52 22h2v1h-2zM48 23h2v1h-2zM54 23h1v1h-1zM75 23h1v1h-1zM19 24h1v1h-1zM22 24h1v1h-1zM32 24h1v1h-1zM48 24h1v1h-1zM18 25h1v1h-1zM25 25h1v1h-1zM50 25h1v1h-1zM22 26h1v1h-1zM26 27h1v1h-1zM42 27h1v1h-1zM58 27h1v1h-1zM61 28h1v1h-1zM20 29h1v1h-1zM28 29h1v1h-1zM24 30h1v1h-1zM48 30h1v1h-1zM29 31h1v1h-1zM41 31h1v1h-1zM48 31h1v1h-1zM62 31h1v1h-1zM54 32h1v1h-1zM48 33h1v1h-1zM53 33h1v1h-1zM35 34h1v1h-1zM46 34h1v1h-1zM49 34h1v1h-1zM16 35h1v1h-1zM23 35h1v1h-1zM25 35h1v1h-1zM24 36h1v1h-1zM40 36h1v1h-1zM47 37h1v1h-1zM27 38h1v1h-1zM52 38h2v1h-2zM11 39h1v1h-1zM46 39h1v1h-1zM52 39h1v1h-1zM27 41h1v1h-1zM33 41h1v1h-1zM35 41h1v1h-1zM41 41h1v1h-1zM48 41h1v1h-1zM28 42h1v1h-1zM42 42h1v1h-1zM52 42h1v1h-1zM2 43h1v1h-1zM29 43h1v1h-1zM43 43h1v1h-1zM51 43h1v1h-1zM13 44h1v1h-1zM27 44h1v1h-1zM43 44h1v1h-1zM32 45h1v1h-1zM41 45h2v1h-2zM64 45h1v1h-1zM27 46h2v1h-2zM42 46h1v1h-1zM48 46h2v1h-2zM74 46h1v1h-1zM53 47h1v1h-1zM67 47h1v1h-1zM72 47h1v1h-1zM14 48h1v1h-1zM28 48h1v1h-1zM34 48h1v1h-1zM26 49h2v1h-2zM43 49h1v1h-1zM27 50h2v1h-2zM31 50h1v1h-1zM0 51h1v1h-1zM28 51h1v1h-1zM31 51h1v1h-1zM49 51h1v1h-1zM66 51h1v1h-1zM12 52h1v1h-1zM25 52h1v1h-1zM52 52h1v1h-1zM26 53h1v1h-1zM48 53h1v1h-1zM0 54h1v1h-1zM22 54h1v1h-1zM28 54h1v1h-1zM32 54h1v1h-1zM51 54h1v1h-1zM27 55h1v1h-1zM40 55h1v1h-1zM42 55h1v1h-1zM52 55h1v1h-1zM3 56h1v1h-1zM45 56h1v1h-1zM52 56h1v1h-1zM66 56h1v1h-1zM29 57h1v1h-1zM48 57h1v1h-1zM42 58h1v1h-1zM27 61h1v1h-1zM43 61h1v1h-1zM33 62h1v1h-1zM5 63h1v1h-1zM27 63h2v1h-2zM16 65h1v1h-1zM24 65h1v1h-1zM23 66h1v1h-1zM32 66h1v1h-1zM34 66h1v1h-1zM51 66h1v1h-1zM41 67h1v1h-1zM43 67h2v1h-2zM35 68h1v1h-1zM43 68h1v1h-1zM52 68h1v1h-1zM26 69h1v1h-1zM32 69h1v1h-1zM45 69h1v1h-1zM34 71h1v1h-1zM7 72h1v1h-1zM27 72h1v1h-1zM41 72h1v1h-1zM43 72h1v1h-1zM50 73h2v1h-2zM49 74h2v1h-2zM32 75h1v1h-1zM52 75h1v1h-1zM76 75h1v1h-1z"/>
<path fill="#cfcfcf" stroke="#cfcfcf" stroke-width="0.08" d="M29 1h1v1h-1zM39 1h1v1h-1zM53 4h1v1h-1zM30 5h1v1h-1zM33 5h1v1h-1zM29 6h1v1h-1zM50 6h1v1h-1zM27 7h2v1h-2zM43 7h1v1h-1zM28 8h1v1h-1zM35 8h2v1h-2zM39 8h1v1h-1zM45 8h1v1h-1zM49 8h2v1h-2zM25 9h1v1h-1zM28 9h1v1h-1zM50 9h1v1h-1zM38 10h1v1h-1zM65 10h1v1h-1zM11 11h1v1h-1zM23 11h1v1h-1zM38 12h1v1h-1zM43 12h1v1h-1zM45 12h1v1h-1zM28 13h1v1h-1zM39 13h2v1h-2zM47 13h1v1h-1zM51 13h1v1h-1zM30 14h1v1h-1zM40 14h1v1h-1zM47 14h1v1h-1zM24 15h1v1h-1zM26 15h2v1h-2zM33 15h1v1h-1zM38 15h1v1h-1zM44 15h2v1h-2zM52 15h1v1h-1zM25 16h1v1h-1zM49 16h1v1h-1zM53 18h1v1h-1zM40 19h1v1h-1zM47 19h3v1h-3zM41 20h1v1h-1zM50 20h2v1h-2zM30 21h1v1h-1zM34 21h1v1h-1zM64 21h1v1h-1zM23 22h1v1h-1zM25 22h2v1h-2zM3 23h1v1h-1zM17 23h1v1h-1zM23 23h1v1h-1zM39 23h1v1h-1zM50 23h1v1h-1zM40 24h1v1h-1zM43 24h1v1h-1zM21 25h1v1h-1zM24 25h1v1h-1zM26 25h1v1h-1zM40 25h1v1h-1zM21 26h1v1h-1zM32 26h1v1h-1zM40 26h1v1h-1zM2 27h1v1h-1zM22 27h1v1h-1zM43 27h1v1h-1zM53 27h1v1h-1zM24 28h1v1h-1zM25 29h1v1h-1zM50 29h1v1h-1zM41 30h3v1h-3zM49 31h1v1h-1zM51 32h1v1h-1zM32 33h1v1h-1zM51 33h1v1h-1zM18 34h1v1h-1zM42 34h1v1h-1zM52 34h1v1h-1zM0 35h1v1h-1zM24 35h1v1h-1zM26 35h1v1h-1zM33 35h1v1h-1zM27 36h1v1h-1zM41 36h1v1h-1zM53 36h1v1h-1zM25 37h1v1h-1zM24 38h1v1h-1zM29 38h1v1h-1zM50 38h1v1h-1zM21 40h1v1h-1zM39 40h1v1h-1zM32 41h1v1h-1zM70 41h1v1h-1zM16 42h1v1h-1zM25 42h1v1h-1zM41 42h1v1h-1zM49 42h1v1h-1zM35 43h1v1h-1zM37 43h1v1h-1zM42 43h1v1h-1zM26 44h1v1h-1zM35 44h1v1h-1zM52 44h1v1h-1zM28 45h1v1h-1zM40 45h1v1h-1zM26 46h1v1h-1zM35 46h1v1h-1zM50 46h1v1h-1zM34 47h1v1h-1zM48 48h1v1h-1zM25 49h1v1h-1zM48 49h1v1h-1zM51 49h1v1h-1zM53 50h1v1h-1zM26 51h1v1h-1zM29 51h1v1h-1zM32 51h1v1h-1zM26 52h1v1h-1zM43 52h1v1h-1zM43 54h1v1h-1zM52 54h1v1h-1zM24 55h1v1h-1zM43 55h1v1h-1zM50 56h2v1h-2zM34 57h2v1h-2zM26 58h1v1h-1zM28 58h1v1h-1zM41 58h1v1h-1zM51 58h1v1h-1zM24 59h1v1h-1zM62 59h1v1h-1zM25 60h1v1h-1zM48 60h1v1h-1zM65 60h1v1h-1zM49 61h1v1h-1zM35 62h1v1h-1zM29 63h1v1h-1zM59 63h1v1h-1zM28 64h1v1h-1zM50 64h1v1h-1zM32 65h1v1h-1zM41 65h1v1h-1zM49 65h1v1h-1zM19 66h1v1h-1zM35 66h1v1h-1zM25 67h1v1h-1zM42 68h1v1h-1zM45 68h1v1h-1zM54 68h1v1h-1zM43 69h1v1h-1zM50 69h1v1h-1zM27 70h1v1h-1zM24 71h1v1h-1zM33 71h1v1h-1zM49 71h2v1h-2zM41 73h1v1h-1zM52 73h1v1h-1zM25 74h1v1h-1zM28 74h1v1h-1zM43 74h1v1h-1zM53 74h1v1h-1zM54 75h1v1h-1z"/>
<path fill="#dadada" stroke="#dadada" stroke-width="0.08" d="M67 3h1v1h-1zM40 4h1v1h-1zM30 6h2v1h-2zM33 6h2v1h-2zM32 7h1v1h-1zM35 7h2v1h-2zM24 9h1v1h-1zM27 9h1v1h-1zM32 9h1v1h-1zM35 9h1v1h-1zM44 9h1v1h-1zM46 9h1v1h-1zM57 9h1v1h-1zM27 10h1v1h-1zM30 10h1v1h-1zM39 11h1v1h-1zM29 12h1v1h-1zM34 12h1v1h-1zM41 12h1v1h-1zM34 13h1v1h-1zM45 13h1v1h-1zM48 13h1v1h-1zM52 13h1v1h-1zM24 14h1v1h-1zM33 14h1v1h-1zM44 14h1v1h-1zM42 15h2v1h-2zM10 16h1v1h-1zM34 16h2v1h-2zM40 16h1v1h-1zM19 17h1v1h-1zM36 17h1v1h-1zM43 17h1v1h-1zM29 18h1v1h-1zM49 18h1v1h-1zM52 18h1v1h-1zM32 19h1v1h-1zM42 19h1v1h-1zM25 20h1v1h-1zM31 20h1v1h-1zM32 21h2v1h-2zM36 21h1v1h-1zM49 21h1v1h-1zM30 22h1v1h-1zM32 22h2v1h-2zM41 22h2v1h-2zM50 22h1v1h-1zM74 22h1v1h-1zM34 23h1v1h-1zM42 23h1v1h-1zM31 24h1v1h-1zM49 24h2v1h-2zM52 24h1v1h-1zM42 25h1v1h-1zM29 26h1v1h-1zM51 26h1v1h-1zM34 27h1v1h-1zM40 27h1v1h-1zM51 27h1v1h-1zM25 28h1v1h-1zM34 28h1v1h-1zM49 28h1v1h-1zM40 30h1v1h-1zM55 30h1v1h-1zM32 31h4v1h-4zM40 31h1v1h-1zM42 31h2v1h-2zM28 32h1v1h-1zM32 32h1v1h-1zM41 32h1v1h-1zM43 32h1v1h-1zM50 32h1v1h-1zM33 33h1v1h-1zM42 33h1v1h-1zM49 33h1v1h-1zM33 34h1v1h-1zM29 35h1v1h-1zM35 35h1v1h-1zM48 35h1v1h-1zM25 36h1v1h-1zM35 36h1v1h-1zM51 36h2v1h-2zM29 37h1v1h-1zM43 37h1v1h-1zM26 39h1v1h-1zM35 39h1v1h-1zM41 39h1v1h-1zM50 39h1v1h-1zM20 40h1v1h-1zM40 40h1v1h-1zM50 41h1v1h-1zM6 42h1v1h-1zM25 43h1v1h-1zM28 43h1v1h-1zM41 43h1v1h-1zM48 43h1v1h-1zM50 43h1v1h-1zM24 44h1v1h-1zM41 44h1v1h-1zM53 44h2v1h-2zM27 45h1v1h-1zM33 45h1v1h-1zM32 46h1v1h-1zM25 47h1v1h-1zM25 48h1v1h-1zM27 48h1v1h-1zM28 49h1v1h-1zM35 49h1v1h-1zM35 50h1v1h-1zM52 50h1v1h-1zM42 51h1v1h-1zM33 52h1v1h-1zM35 52h1v1h-1zM51 52h1v1h-1zM41 53h1v1h-1zM50 53h1v1h-1zM52 53h1v1h-1zM26 54h1v1h-1zM50 54h1v1h-1zM20 55h1v1h-1zM32 55h1v1h-1zM49 55h1v1h-1zM53 55h1v1h-1zM37 56h1v1h-1zM39 56h1v1h-1zM28 57h1v1h-1zM32 57h1v1h-1zM42 57h1v1h-1zM33 58h1v1h-1zM50 58h1v1h-1zM53 58h1v1h-1zM49 59h1v1h-1zM32 60h1v1h-1zM41 60h1v1h-1zM50 61h1v1h-1zM50 62h1v1h-1zM52 63h1v1h-1zM43 64h1v1h-1zM25 65h1v1h-1zM28 65h1v1h-1zM34 65h1v1h-1zM40 65h1v1h-1zM50 65h1v1h-1zM33 66h1v1h-1zM42 67h1v1h-1zM53 68h1v1h-1zM24 69h1v1h-1zM40 69h1v1h-1zM42 69h1v1h-1zM32 70h1v1h-1zM35 70h1v1h-1zM41 70h2v1h-2zM53 70h1v1h-1zM32 72h1v1h-1zM40 72h1v1h-1zM52 72h1v1h-1zM29 74h1v1h-1zM25 75h2v1h-2zM28 75h1v1h-1zM50 75h1v1h-1z"/>
<path fill="#e4e4e4" stroke="#e4e4e4" stroke-width="0.08" d="M45 5h1v1h-1zM26 6h1v1h-1zM32 6h1v1h-1zM43 6h1v1h-1zM31 7h1v1h-1zM37 7h1v1h-1zM25 8h1v1h-1zM40 8h1v1h-1zM44 8h1v1h-1zM26 9h1v1h-1zM47 9h1v1h-1zM13 10h1v1h-1zM26 10h1v1h-1zM31 11h1v1h-1zM33 11h1v1h-1zM35 11h1v1h-1zM35 12h1v1h-1zM36 14h1v1h-1zM38 14h1v1h-1zM49 14h1v1h-1zM31 15h1v1h-1zM47 15h1v1h-1zM49 15h1v1h-1zM26 16h1v1h-1zM30 16h1v1h-1zM41 16h1v1h-1zM25 17h1v1h-1zM33 17h1v1h-1zM35 17h1v1h-1zM38 17h1v1h-1zM40 17h1v1h-1zM37 18h1v1h-1zM51 18h1v1h-1zM30 19h1v1h-1zM33 19h1v1h-1zM30 20h1v1h-1zM37 20h1v1h-1zM39 20h1v1h-1zM24 21h1v1h-1zM50 21h1v1h-1zM43 23h1v1h-1zM51 23h1v1h-1zM32 25h1v1h-1zM41 25h1v1h-1zM33 26h1v1h-1zM41 26h1v1h-1zM34 30h1v1h-1zM52 32h2v1h-2zM52 33h1v1h-1zM41 34h1v1h-1zM49 37h1v1h-1zM51 37h1v1h-1zM53 37h1v1h-1zM32 38h1v1h-1zM41 40h1v1h-1zM43 41h1v1h-1zM43 42h1v1h-1zM51 42h1v1h-1zM35 45h1v1h-1zM48 45h1v1h-1zM50 45h1v1h-1zM52 45h1v1h-1zM33 46h1v1h-1zM52 46h1v1h-1zM33 47h1v1h-1zM52 47h1v1h-1zM26 48h1v1h-1zM35 48h1v1h-1zM43 48h1v1h-1zM29 49h1v1h-1zM53 49h1v1h-1zM27 51h1v1h-1zM35 51h1v1h-1zM40 51h1v1h-1zM43 51h1v1h-1zM24 52h1v1h-1zM27 52h1v1h-1zM25 53h1v1h-1zM27 53h1v1h-1zM29 53h1v1h-1zM34 54h2v1h-2zM34 55h1v1h-1zM40 56h1v1h-1zM42 56h1v1h-1zM40 57h1v1h-1zM27 58h1v1h-1zM32 58h1v1h-1zM40 58h1v1h-1zM49 60h1v1h-1zM42 61h1v1h-1zM24 62h1v1h-1zM27 62h1v1h-1zM40 62h1v1h-1zM43 62h1v1h-1zM48 62h1v1h-1zM51 62h1v1h-1zM34 63h1v1h-1zM41 63h1v1h-1zM51 63h1v1h-1zM34 64h1v1h-1zM40 64h3v1h-3zM25 66h1v1h-1zM49 66h1v1h-1zM27 67h1v1h-1zM34 68h1v1h-1zM41 68h1v1h-1zM47 68h1v1h-1zM32 71h1v1h-1zM48 71h1v1h-1zM48 72h1v1h-1zM51 72h1v1h-1zM53 72h1v1h-1zM32 73h2v1h-2zM35 73h1v1h-1zM24 74h1v1h-1zM34 74h1v1h-1zM34 75h2v1h-2zM41 75h1v1h-1z"/>
<path fill="#efefef" stroke="#efefef" stroke-width="0.08" d="M39 6h1v1h-1zM44 6h1v1h-1zM38 7h1v1h-1zM37 8h1v1h-1zM43 8h1v1h-1zM28 10h1v1h-1zM27 11h1v1h-1zM33 12h1v1h-1zM40 12h1v1h-1zM42 12h1v1h-1zM44 12h1v1h-1zM26 14h1v1h-1zM28 15h2v1h-2zM32 15h1v1h-1zM35 15h2v1h-2zM51 16h1v1h-1zM53 16h1v1h-1zM26 17h1v1h-1zM37 17h1v1h-1zM34 18h1v1h-1zM27 20h1v1h-1zM43 20h1v1h-1zM48 21h1v1h-1zM38 23h1v1h-1zM50 26h1v1h-1zM48 28h1v1h-1zM25 33h1v1h-1zM34 34h1v1h-1zM51 34h1v1h-1zM32 36h1v1h-1zM24 37h1v1h-1zM34 37h1v1h-1zM41 37h2v1h-2zM35 38h1v1h-1zM49 38h1v1h-1zM34 40h1v1h-1zM53 40h1v1h-1zM42 41h1v1h-1zM34 42h1v1h-1zM50 42h1v1h-1zM25 44h1v1h-1zM34 44h1v1h-1zM49 44h1v1h-1zM51 47h1v1h-1zM22 48h1v1h-1zM33 48h1v1h-1zM51 48h1v1h-1zM54 48h1v1h-1zM33 49h1v1h-1zM30 50h1v1h-1zM51 50h1v1h-1zM52 51h1v1h-1zM41 52h1v1h-1zM62 53h1v1h-1zM33 54h1v1h-1zM51 55h1v1h-1zM33 57h1v1h-1zM49 57h2v1h-2zM42 59h1v1h-1zM51 59h1v1h-1zM18 60h1v1h-1zM40 60h1v1h-1zM25 62h1v1h-1zM33 64h1v1h-1zM49 64h1v1h-1zM52 64h1v1h-1zM32 67h1v1h-1zM49 68h2v1h-2zM24 70h2v1h-2zM33 70h1v1h-1zM40 70h1v1h-1zM28 72h2v1h-2zM33 72h2v1h-2zM24 73h1v1h-1zM40 73h1v1h-1zM43 73h1v1h-1zM32 74h1v1h-1z"/>
<path fill="#fafafa" stroke="#fafafa" stroke-width="0.08" d="M26 7h1v1h-1zM34 7h1v1h-1zM38 8h1v1h-1zM34 9h1v1h-1zM31 10h4v1h-4zM39 10h1v1h-1zM45 10h3v1h-3zM26 11h1v1h-1zM28 11h1v1h-1zM34 11h1v1h-1zM32 12h1v1h-1zM46 12h3v1h-3zM29 13h1v1h-1zM31 13h1v1h-1zM44 13h1v1h-1zM49 13h1v1h-1zM34 14h1v1h-1zM43 14h1v1h-1zM19 16h1v1h-1zM24 16h1v1h-1zM32 16h1v1h-1zM36 16h1v1h-1zM31 17h1v1h-1zM34 17h1v1h-1zM49 17h1v1h-1zM26 18h1v1h-1zM43 18h1v1h-1zM50 19h1v1h-1zM32 20h2v1h-2zM35 20h1v1h-1zM52 20h1v1h-1zM25 21h1v1h-1zM40 22h1v1h-1zM31 23h2v1h-2zM37 23h1v1h-1zM40 23h1v1h-1zM52 23h1v1h-1zM35 24h1v1h-1zM41 24h1v1h-1zM23 25h1v1h-1zM28 25h1v1h-1zM34 25h1v1h-1zM51 25h1v1h-1zM43 26h1v1h-1zM25 27h1v1h-1zM33 27h1v1h-1zM50 28h1v1h-1zM32 29h1v1h-1zM34 29h2v1h-2zM42 29h1v1h-1zM49 29h1v1h-1zM35 30h1v1h-1zM49 30h1v1h-1zM28 31h1v1h-1zM24 32h1v1h-1zM33 32h3v1h-3zM27 34h3v1h-3zM34 35h1v1h-1zM41 35h2v1h-2zM51 35h1v1h-1zM26 36h1v1h-1zM32 37h1v1h-1zM35 37h1v1h-1zM28 38h1v1h-1zM33 38h2v1h-2zM42 38h2v1h-2zM34 39h1v1h-1zM48 39h1v1h-1zM53 39h1v1h-1zM35 40h1v1h-1zM50 40h1v1h-1zM51 41h1v1h-1zM32 42h2v1h-2zM63 42h1v1h-1zM32 43h3v1h-3zM49 43h1v1h-1zM52 43h1v1h-1zM40 44h1v1h-1zM34 45h1v1h-1zM49 45h1v1h-1zM51 45h1v1h-1zM51 46h1v1h-1zM24 47h1v1h-1zM35 47h1v1h-1zM29 48h1v1h-1zM32 48h1v1h-1zM42 48h1v1h-1zM24 50h2v1h-2zM33 51h1v1h-1zM51 51h1v1h-1zM42 52h1v1h-1zM34 53h1v1h-1zM51 53h1v1h-1zM33 55h1v1h-1zM41 57h1v1h-1zM32 59h2v1h-2zM50 59h1v1h-1zM33 60h1v1h-1zM41 61h1v1h-1zM41 62h1v1h-1zM53 62h1v1h-1zM24 63h1v1h-1zM48 63h1v1h-1zM53 63h1v1h-1zM29 64h1v1h-1zM48 64h1v1h-1zM51 64h1v1h-1zM33 65h1v1h-1zM40 66h2v1h-2zM26 67h1v1h-1zM33 67h2v1h-2zM48 68h1v1h-1zM33 69h3v1h-3zM34 70h1v1h-1zM52 70h1v1h-1zM25 71h1v1h-1zM35 72h1v1h-1zM25 73h1v1h-1zM35 74h1v1h-1zM52 74h1v1h-1zM33 75h1v1h-1zM53 75h1v1h-1z"/>
</g></g>
<text x="408.3" y="35.2" font-size="17.5" font-weight="700" font-style="italic" fill="#fff">A<tspan font-size="12.5" font-style="normal" dy="4.6">g</tspan></text>
<line x1="362.7" y1="84.2" x2="365.9" y2="69.2" stroke="#fff" stroke-width="1.5"/>
<line x1="365.9" y1="69.2" x2="367.43" y2="73.96" stroke="#fff" stroke-width="1.4" stroke-linecap="round"/>
<line x1="365.9" y1="69.2" x2="362.56" y2="72.92" stroke="#fff" stroke-width="1.4" stroke-linecap="round"/>
<line x1="382.5" y1="84.2" x2="385.8" y2="69.8" stroke="#fff" stroke-width="1.5"/>
<line x1="385.8" y1="69.8" x2="387.26" y2="74.58" stroke="#fff" stroke-width="1.4" stroke-linecap="round"/>
<line x1="385.8" y1="69.8" x2="382.40" y2="73.47" stroke="#fff" stroke-width="1.4" stroke-linecap="round"/>
<text x="351.2" y="96.6" font-size="9.7" font-style="italic" font-weight="700" fill="#fff" textLength="49.5" lengthAdjust="spacingAndGlyphs">Electrodes</text>
<rect x="391.8" y="141" width="44.7" height="19.8" fill="#fff"/>
<text x="413.4" y="152.4" font-size="10" font-weight="700" text-anchor="middle" fill="#111">400 µm</text>
<rect x="394.2" y="157.5" width="38.7" height="1.4" fill="#222"/>
<rect x="448.2" y="27.6" width="12.3" height="82" fill="url(#cbar)"/>
<text x="447.6" y="23.6" font-size="9.3" fill="#1a1a1a">750</text>
<text x="446.4" y="119.3" font-size="9.3" fill="#1a1a1a">740</text>
<text transform="translate(465.6,33.4) rotate(90)" font-size="11.4" fill="#1a1a1a">Intensity (a.u.)</text>
</g>
<g id="panelC">
<g clip-path="url(#clipc)">
<ellipse cx="60" cy="242.5" rx="33" ry="3.6" fill="#b8b8b8" opacity="0.45" filter="url(#blur2)"/>
<line x1="50.10" y1="225.20" x2="50.10" y2="212.92" stroke="#efb52c" stroke-width="0.75"/>
<line x1="50.10" y1="212.92" x2="50.10" y2="208.60" stroke="#8a7440" stroke-width="0.75"/>
<line x1="50.10" y1="225.20" x2="50.10" y2="237.56" stroke="#efb52c" stroke-width="0.75"/>
<line x1="50.10" y1="237.56" x2="50.10" y2="241.90" stroke="#8a7440" stroke-width="0.75"/>
<line x1="50.10" y1="225.20" x2="62.90" y2="212.92" stroke="#efb52c" stroke-width="0.75"/>
<line x1="62.90" y1="212.92" x2="67.40" y2="208.60" stroke="#8a7440" stroke-width="0.75"/>
<line x1="50.10" y1="225.20" x2="62.90" y2="237.56" stroke="#efb52c" stroke-width="0.75"/>
<line x1="62.90" y1="237.56" x2="67.40" y2="241.90" stroke="#8a7440" stroke-width="0.75"/>
<line x1="67.40" y1="225.20" x2="54.60" y2="212.92" stroke="#efb52c" stroke-width="0.75"/>
<line x1="54.60" y1="212.92" x2="50.10" y2="208.60" stroke="#8a7440" stroke-width="0.75"/>
<line x1="67.40" y1="225.20" x2="54.60" y2="237.56" stroke="#efb52c" stroke-width="0.75"/>
<line x1="54.60" y1="237.56" x2="50.10" y2="241.90" stroke="#8a7440" stroke-width="0.75"/>
<line x1="67.40" y1="225.20" x2="67.40" y2="212.92" stroke="#efb52c" stroke-width="0.75"/>
<line x1="67.40" y1="212.92" x2="67.40" y2="208.60" stroke="#8a7440" stroke-width="0.75"/>
<line x1="67.40" y1="225.20" x2="67.40" y2="237.56" stroke="#efb52c" stroke-width="0.75"/>
<line x1="67.40" y1="237.56" x2="67.40" y2="241.90" stroke="#8a7440" stroke-width="0.75"/>
<line x1="67.40" y1="225.20" x2="80.09" y2="212.92" stroke="#efb52c" stroke-width="0.75"/>
<line x1="80.09" y1="212.92" x2="84.55" y2="208.60" stroke="#8a7440" stroke-width="0.75"/>
<line x1="67.40" y1="225.20" x2="80.09" y2="237.56" stroke="#efb52c" stroke-width="0.75"/>
<line x1="80.09" y1="237.56" x2="84.55" y2="241.90" stroke="#8a7440" stroke-width="0.75"/>
<line x1="84.55" y1="225.20" x2="71.86" y2="212.92" stroke="#efb52c" stroke-width="0.75"/>
<line x1="71.86" y1="212.92" x2="67.40" y2="208.60" stroke="#8a7440" stroke-width="0.75"/>
<line x1="84.55" y1="225.20" x2="71.86" y2="237.56" stroke="#efb52c" stroke-width="0.75"/>
<line x1="71.86" y1="237.56" x2="67.40" y2="241.90" stroke="#8a7440" stroke-width="0.75"/>
<line x1="84.55" y1="225.20" x2="84.55" y2="212.92" stroke="#efb52c" stroke-width="0.75"/>
<line x1="84.55" y1="212.92" x2="84.55" y2="208.60" stroke="#8a7440" stroke-width="0.75"/>
<line x1="84.55" y1="225.20" x2="84.55" y2="237.56" stroke="#efb52c" stroke-width="0.75"/>
<line x1="84.55" y1="237.56" x2="84.55" y2="241.90" stroke="#8a7440" stroke-width="0.75"/>
<line x1="47.70" y1="210.60" x2="45.50" y2="213.00" stroke="#555" stroke-width="0.8"/>
<line x1="47.10" y1="222.40" x2="45.30" y2="220.60" stroke="#6a5a30" stroke-width="0.8"/>
<line x1="47.10" y1="228.00" x2="45.30" y2="229.80" stroke="#6a5a30" stroke-width="0.8"/>
<line x1="47.70" y1="239.90" x2="45.90" y2="238.30" stroke="#555" stroke-width="0.8"/>
<line x1="86.95" y1="210.60" x2="89.15" y2="213.00" stroke="#555" stroke-width="0.8"/>
<line x1="87.55" y1="222.40" x2="89.35" y2="220.60" stroke="#6a5a30" stroke-width="0.8"/>
<line x1="87.55" y1="228.00" x2="89.35" y2="229.80" stroke="#6a5a30" stroke-width="0.8"/>
<line x1="86.95" y1="239.90" x2="88.75" y2="238.30" stroke="#555" stroke-width="0.8"/>
<circle cx="50.1" cy="208.6" r="3.05" fill="url(#gAtom)"/>
<circle cx="50.1" cy="241.9" r="3.05" fill="url(#gAtom)"/>
<circle cx="67.4" cy="208.6" r="3.05" fill="url(#gAtom)"/>
<circle cx="67.4" cy="241.9" r="3.05" fill="url(#gAtom)"/>
<circle cx="84.55" cy="208.6" r="3.05" fill="url(#gAtom)"/>
<circle cx="84.55" cy="241.9" r="3.05" fill="url(#gAtom)"/>
<circle cx="50.1" cy="225.2" r="3.7" fill="url(#yAtom)"/>
<circle cx="67.4" cy="225.2" r="3.7" fill="url(#yAtom)"/>
<circle cx="84.55" cy="225.2" r="3.7" fill="url(#yAtom)"/>
</g>
<g clip-path="url(#clipc)">
<polyline points="51.8,293.0 55.3,293.8 58.9,294.2 62.5,294.5 66.0,294.8 69.6,294.8 73.2,295.0 76.7,295.0 80.3,296.0 83.9,298.8 87.5,313.2" fill="none" stroke="#888" stroke-width="0.4"/>
<polyline points="51.8,293.5 55.3,315.8 58.9,305.5 62.5,303.8 66.0,305.0 69.6,301.2 73.2,309.5 76.7,311.2 80.3,316.2 83.9,307.0 87.5,321.5" fill="none" stroke="#888" stroke-width="0.4"/>
<rect x="49.80" y="291.05" width="3.9" height="3.9" fill="none" stroke="#111" stroke-width="0.9"/>
<rect x="53.37" y="291.80" width="3.9" height="3.9" fill="none" stroke="#111" stroke-width="0.9"/>
<rect x="56.94" y="292.30" width="3.9" height="3.9" fill="none" stroke="#111" stroke-width="0.9"/>
<rect x="60.51" y="292.55" width="3.9" height="3.9" fill="none" stroke="#111" stroke-width="0.9"/>
<rect x="64.08" y="292.80" width="3.9" height="3.9" fill="none" stroke="#111" stroke-width="0.9"/>
<rect x="67.65" y="292.80" width="3.9" height="3.9" fill="none" stroke="#111" stroke-width="0.9"/>
<rect x="71.22" y="293.05" width="3.9" height="3.9" fill="none" stroke="#111" stroke-width="0.9"/>
<rect x="74.79" y="293.05" width="3.9" height="3.9" fill="none" stroke="#111" stroke-width="0.9"/>
<rect x="78.36" y="294.05" width="3.9" height="3.9" fill="none" stroke="#111" stroke-width="0.9"/>
<rect x="81.93" y="296.80" width="3.9" height="3.9" fill="none" stroke="#111" stroke-width="0.9"/>
<rect x="85.50" y="311.30" width="3.9" height="3.9" fill="none" stroke="#111" stroke-width="0.9"/>
<rect x="49.80" y="291.55" width="3.9" height="3.9" fill="none" stroke="#111" stroke-width="0.9"/>
<rect x="53.37" y="313.80" width="3.9" height="3.9" fill="none" stroke="#111" stroke-width="0.9"/>
<rect x="56.94" y="303.55" width="3.9" height="3.9" fill="none" stroke="#111" stroke-width="0.9"/>
<rect x="60.51" y="301.80" width="3.9" height="3.9" fill="none" stroke="#111" stroke-width="0.9"/>
<rect x="64.08" y="303.05" width="3.9" height="3.9" fill="none" stroke="#111" stroke-width="0.9"/>
<rect x="67.65" y="299.30" width="3.9" height="3.9" fill="none" stroke="#111" stroke-width="0.9"/>
<rect x="71.22" y="307.55" width="3.9" height="3.9" fill="none" stroke="#111" stroke-width="0.9"/>
<rect x="74.79" y="309.30" width="3.9" height="3.9" fill="none" stroke="#111" stroke-width="0.9"/>
<rect x="78.36" y="314.30" width="3.9" height="3.9" fill="none" stroke="#111" stroke-width="0.9"/>
<rect x="81.93" y="305.05" width="3.9" height="3.9" fill="none" stroke="#111" stroke-width="0.9"/>
<rect x="85.50" y="319.55" width="3.9" height="3.9" fill="none" stroke="#111" stroke-width="0.9"/>
<rect x="89.07" y="285.55" width="3.9" height="3.9" fill="none" stroke="#111" stroke-width="0.9"/>
<rect x="92.64" y="271.51" width="3.9" height="3.9" fill="none" stroke="#111" stroke-width="0.9"/>
<rect x="96.21" y="262.10" width="3.9" height="3.9" fill="none" stroke="#111" stroke-width="0.9"/>
<rect x="99.78" y="254.40" width="3.9" height="3.9" fill="none" stroke="#111" stroke-width="0.9"/>
<rect x="103.35" y="248.36" width="3.9" height="3.9" fill="none" stroke="#111" stroke-width="0.9"/>
<rect x="106.92" y="242.85" width="3.9" height="3.9" fill="none" stroke="#111" stroke-width="0.9"/>
<rect x="110.49" y="238.45" width="3.9" height="3.9" fill="none" stroke="#111" stroke-width="0.9"/>
<rect x="114.06" y="233.85" width="3.9" height="3.9" fill="none" stroke="#111" stroke-width="0.9"/>
<rect x="117.63" y="229.90" width="3.9" height="3.9" fill="none" stroke="#111" stroke-width="0.9"/>
<rect x="121.20" y="226.54" width="3.9" height="3.9" fill="none" stroke="#111" stroke-width="0.9"/>
<rect x="124.77" y="223.82" width="3.9" height="3.9" fill="none" stroke="#111" stroke-width="0.9"/>
<rect x="128.34" y="221.32" width="3.9" height="3.9" fill="none" stroke="#111" stroke-width="0.9"/>
<rect x="131.91" y="219.02" width="3.9" height="3.9" fill="none" stroke="#111" stroke-width="0.9"/>
<rect x="135.48" y="216.91" width="3.9" height="3.9" fill="none" stroke="#111" stroke-width="0.9"/>
<rect x="139.05" y="214.97" width="3.9" height="3.9" fill="none" stroke="#111" stroke-width="0.9"/>
<rect x="142.62" y="213.18" width="3.9" height="3.9" fill="none" stroke="#111" stroke-width="0.9"/>
<rect x="146.19" y="211.53" width="3.9" height="3.9" fill="none" stroke="#111" stroke-width="0.9"/>
<rect x="149.76" y="209.99" width="3.9" height="3.9" fill="none" stroke="#111" stroke-width="0.9"/>
<rect x="153.33" y="208.56" width="3.9" height="3.9" fill="none" stroke="#111" stroke-width="0.9"/>
<rect x="156.90" y="207.21" width="3.9" height="3.9" fill="none" stroke="#111" stroke-width="0.9"/>
<rect x="160.47" y="205.92" width="3.9" height="3.9" fill="none" stroke="#111" stroke-width="0.9"/>
<rect x="164.04" y="204.69" width="3.9" height="3.9" fill="none" stroke="#111" stroke-width="0.9"/>
<rect x="167.61" y="203.49" width="3.9" height="3.9" fill="none" stroke="#111" stroke-width="0.9"/>
<rect x="171.18" y="202.31" width="3.9" height="3.9" fill="none" stroke="#111" stroke-width="0.9"/>
<rect x="174.75" y="201.12" width="3.9" height="3.9" fill="none" stroke="#111" stroke-width="0.9"/>
<rect x="178.32" y="199.92" width="3.9" height="3.9" fill="none" stroke="#111" stroke-width="0.9"/>
<rect x="181.89" y="198.68" width="3.9" height="3.9" fill="none" stroke="#111" stroke-width="0.9"/>
<rect x="185.46" y="197.39" width="3.9" height="3.9" fill="none" stroke="#111" stroke-width="0.9"/>
<rect x="189.03" y="196.03" width="3.9" height="3.9" fill="none" stroke="#111" stroke-width="0.9"/>
<rect x="192.60" y="194.59" width="3.9" height="3.9" fill="none" stroke="#111" stroke-width="0.9"/>
<rect x="89.07" y="292.55" width="3.9" height="3.9" fill="none" stroke="#111" stroke-width="0.9"/>
<rect x="92.64" y="270.18" width="3.9" height="3.9" fill="none" stroke="#111" stroke-width="0.9"/>
<rect x="96.21" y="261.57" width="3.9" height="3.9" fill="none" stroke="#111" stroke-width="0.9"/>
<rect x="99.78" y="253.95" width="3.9" height="3.9" fill="none" stroke="#111" stroke-width="0.9"/>
<rect x="103.35" y="247.93" width="3.9" height="3.9" fill="none" stroke="#111" stroke-width="0.9"/>
<rect x="106.92" y="242.50" width="3.9" height="3.9" fill="none" stroke="#111" stroke-width="0.9"/>
<line x1="87.3" y1="312.4" x2="99.8" y2="244.6" stroke="#ff4040" stroke-width="0.8" stroke-dasharray="2.2 1.3"/>
<line x1="104.7" y1="333.5" x2="124" y2="314" stroke="#3636ff" stroke-width="0.7" stroke-dasharray="2 1.2"/>
<polygon points="51.75,326.51 48.90,331.78 54.60,331.78" fill="none" stroke="#2a2af0" stroke-width="1.0"/>
<polygon points="55.32,326.51 52.47,331.78 58.17,331.78" fill="none" stroke="#2a2af0" stroke-width="1.0"/>
<polygon points="58.89,326.51 56.04,331.78 61.74,331.78" fill="none" stroke="#2a2af0" stroke-width="1.0"/>
<polygon points="62.46,326.51 59.61,331.78 65.31,331.78" fill="none" stroke="#2a2af0" stroke-width="1.0"/>
<polygon points="66.03,326.51 63.18,331.78 68.88,331.78" fill="none" stroke="#2a2af0" stroke-width="1.0"/>
<polygon points="69.60,326.51 66.75,331.78 72.45,331.78" fill="none" stroke="#2a2af0" stroke-width="1.0"/>
<polygon points="73.17,326.51 70.32,331.78 76.02,331.78" fill="none" stroke="#2a2af0" stroke-width="1.0"/>
<polygon points="76.74,326.51 73.89,331.78 79.59,331.78" fill="none" stroke="#2a2af0" stroke-width="1.0"/>
<polygon points="80.31,326.51 77.46,331.78 83.16,331.78" fill="none" stroke="#2a2af0" stroke-width="1.0"/>
<polygon points="83.88,326.51 81.03,331.78 86.73,331.78" fill="none" stroke="#2a2af0" stroke-width="1.0"/>
<polygon points="87.45,326.48 84.60,331.75 90.30,331.75" fill="none" stroke="#2a2af0" stroke-width="1.0"/>
<polygon points="91.02,325.98 88.17,331.25 93.87,331.25" fill="none" stroke="#2a2af0" stroke-width="1.0"/>
<polygon points="94.59,325.45 91.74,330.72 97.44,330.72" fill="none" stroke="#2a2af0" stroke-width="1.0"/>
<polygon points="98.16,324.29 95.31,329.56 101.01,329.56" fill="none" stroke="#2a2af0" stroke-width="1.0"/>
<polygon points="101.73,323.10 98.88,328.37 104.58,328.37" fill="none" stroke="#2a2af0" stroke-width="1.0"/>
<polygon points="105.30,321.36 102.45,326.63 108.15,326.63" fill="none" stroke="#2a2af0" stroke-width="1.0"/>
<polygon points="108.87,319.59 106.02,324.86 111.72,324.86" fill="none" stroke="#2a2af0" stroke-width="1.0"/>
<polygon points="112.44,317.48 109.59,322.75 115.29,322.75" fill="none" stroke="#2a2af0" stroke-width="1.0"/>
<polygon points="116.01,315.36 113.16,320.63 118.86,320.63" fill="none" stroke="#2a2af0" stroke-width="1.0"/>
<polygon points="119.58,313.22 116.73,318.49 122.43,318.49" fill="none" stroke="#2a2af0" stroke-width="1.0"/>
<polygon points="123.15,311.08 120.30,316.35 126.00,316.35" fill="none" stroke="#2a2af0" stroke-width="1.0"/>
<polygon points="126.72,308.01 123.87,313.28 129.57,313.28" fill="none" stroke="#2a2af0" stroke-width="1.0"/>
<polygon points="130.29,304.80 127.44,310.08 133.14,310.08" fill="none" stroke="#2a2af0" stroke-width="1.0"/>
<polygon points="133.86,301.60 131.01,306.87 136.71,306.87" fill="none" stroke="#2a2af0" stroke-width="1.0"/>
<polygon points="137.43,298.40 134.58,303.67 140.28,303.67" fill="none" stroke="#2a2af0" stroke-width="1.0"/>
<polygon points="141.00,294.80 138.15,300.08 143.85,300.08" fill="none" stroke="#2a2af0" stroke-width="1.0"/>
<polygon points="144.57,291.10 141.72,296.37 147.42,296.37" fill="none" stroke="#2a2af0" stroke-width="1.0"/>
<polygon points="148.14,287.40 145.29,292.67 150.99,292.67" fill="none" stroke="#2a2af0" stroke-width="1.0"/>
<polygon points="151.71,283.69 148.86,288.96 154.56,288.96" fill="none" stroke="#2a2af0" stroke-width="1.0"/>
<polygon points="155.28,279.98 152.43,285.25 158.13,285.25" fill="none" stroke="#2a2af0" stroke-width="1.0"/>
<polygon points="158.85,276.26 156.00,281.54 161.70,281.54" fill="none" stroke="#2a2af0" stroke-width="1.0"/>
<polygon points="162.42,272.40 159.57,277.68 165.27,277.68" fill="none" stroke="#2a2af0" stroke-width="1.0"/>
<polygon points="165.99,268.12 163.14,273.39 168.84,273.39" fill="none" stroke="#2a2af0" stroke-width="1.0"/>
<polygon points="169.56,263.84 166.71,269.11 172.41,269.11" fill="none" stroke="#2a2af0" stroke-width="1.0"/>
<polygon points="173.13,259.55 170.28,264.82 175.98,264.82" fill="none" stroke="#2a2af0" stroke-width="1.0"/>
<polygon points="176.70,254.73 173.85,260.00 179.55,260.00" fill="none" stroke="#2a2af0" stroke-width="1.0"/>
<polygon points="180.27,249.73 177.42,255.00 183.12,255.00" fill="none" stroke="#2a2af0" stroke-width="1.0"/>
<polygon points="183.84,244.41 180.99,249.68 186.69,249.68" fill="none" stroke="#2a2af0" stroke-width="1.0"/>
<polygon points="187.41,238.92 184.56,244.19 190.26,244.19" fill="none" stroke="#2a2af0" stroke-width="1.0"/>
<polygon points="190.98,233.70 188.13,238.98 193.83,238.98" fill="none" stroke="#2a2af0" stroke-width="1.0"/>
<polygon points="194.55,228.55 191.70,233.82 197.40,233.82" fill="none" stroke="#2a2af0" stroke-width="1.0"/>
</g>
<rect x="34" y="185.4" width="177.7" height="149.4" fill="none" stroke="#555" stroke-width="1.15"/>
<line x1="211.7" y1="185.4" x2="211.7" y2="334.8" stroke="#3636ff" stroke-width="1"/>
<line x1="31.4" y1="191.40" x2="34" y2="191.40" stroke="#222" stroke-width="0.8"/>
<text x="29" y="193.80" font-size="6.5" text-anchor="end" fill="#1c1c1c">10<tspan font-size="4.2" dy="-2.4">-5</tspan></text>
<line x1="31.4" y1="212.77" x2="34" y2="212.77" stroke="#222" stroke-width="0.8"/>
<text x="29" y="215.17" font-size="6.5" text-anchor="end" fill="#1c1c1c">10<tspan font-size="4.2" dy="-2.4">-6</tspan></text>
<line x1="31.4" y1="234.14" x2="34" y2="234.14" stroke="#222" stroke-width="0.8"/>
<text x="29" y="236.54" font-size="6.5" text-anchor="end" fill="#1c1c1c">10<tspan font-size="4.2" dy="-2.4">-7</tspan></text>
<line x1="31.4" y1="255.51" x2="34" y2="255.51" stroke="#222" stroke-width="0.8"/>
<text x="29" y="257.91" font-size="6.5" text-anchor="end" fill="#1c1c1c">10<tspan font-size="4.2" dy="-2.4">-8</tspan></text>
<line x1="31.4" y1="276.88" x2="34" y2="276.88" stroke="#222" stroke-width="0.8"/>
<text x="29" y="279.28" font-size="6.5" text-anchor="end" fill="#1c1c1c">10<tspan font-size="4.2" dy="-2.4">-9</tspan></text>
<line x1="31.4" y1="298.25" x2="34" y2="298.25" stroke="#222" stroke-width="0.8"/>
<text x="29" y="300.65" font-size="6.5" text-anchor="end" fill="#1c1c1c">10<tspan font-size="4.2" dy="-2.4">-10</tspan></text>
<line x1="31.4" y1="319.62" x2="34" y2="319.62" stroke="#222" stroke-width="0.8"/>
<text x="29" y="322.02" font-size="6.5" text-anchor="end" fill="#1c1c1c">10<tspan font-size="4.2" dy="-2.4">-11</tspan></text>
<line x1="51.75" y1="334.8" x2="51.75" y2="337.4" stroke="#222" stroke-width="0.8"/>
<text x="51.75" y="343.6" font-size="6.4" text-anchor="middle" fill="#222">20</text>
<line x1="87.45" y1="334.8" x2="87.45" y2="337.4" stroke="#222" stroke-width="0.8"/>
<text x="87.45" y="343.6" font-size="6.4" text-anchor="middle" fill="#222">0</text>
<line x1="123.15" y1="334.8" x2="123.15" y2="337.4" stroke="#222" stroke-width="0.8"/>
<text x="123.15" y="343.6" font-size="6.4" text-anchor="middle" fill="#222">-20</text>
<line x1="158.85" y1="334.8" x2="158.85" y2="337.4" stroke="#222" stroke-width="0.8"/>
<text x="158.85" y="343.6" font-size="6.4" text-anchor="middle" fill="#222">-40</text>
<line x1="194.55" y1="334.8" x2="194.55" y2="337.4" stroke="#222" stroke-width="0.8"/>
<text x="194.55" y="343.6" font-size="6.4" text-anchor="middle" fill="#222">-60</text>
<line x1="69.60" y1="334.8" x2="69.60" y2="336.3" stroke="#222" stroke-width="0.6"/>
<line x1="105.30" y1="334.8" x2="105.30" y2="336.3" stroke="#222" stroke-width="0.6"/>
<line x1="141.00" y1="334.8" x2="141.00" y2="336.3" stroke="#222" stroke-width="0.6"/>
<line x1="176.70" y1="334.8" x2="176.70" y2="336.3" stroke="#222" stroke-width="0.6"/>
<line x1="211.7" y1="330.75" x2="214.3" y2="330.75" stroke="#3636ff" stroke-width="0.8"/>
<text x="216.7" y="333.05" font-size="6.2" fill="#3636ff" font-weight="700">0.00</text>
<line x1="211.7" y1="310.46" x2="214.3" y2="310.46" stroke="#3636ff" stroke-width="0.8"/>
<text x="216.7" y="312.76" font-size="6.2" fill="#3636ff" font-weight="700">0.05</text>
<line x1="211.7" y1="290.18" x2="214.3" y2="290.18" stroke="#3636ff" stroke-width="0.8"/>
<text x="216.7" y="292.48" font-size="6.2" fill="#3636ff" font-weight="700">0.10</text>
<line x1="211.7" y1="269.89" x2="214.3" y2="269.89" stroke="#3636ff" stroke-width="0.8"/>
<text x="216.7" y="272.19" font-size="6.2" fill="#3636ff" font-weight="700">0.15</text>
<line x1="211.7" y1="249.61" x2="214.3" y2="249.61" stroke="#3636ff" stroke-width="0.8"/>
<text x="216.7" y="251.91" font-size="6.2" fill="#3636ff" font-weight="700">0.20</text>
<line x1="211.7" y1="229.32" x2="214.3" y2="229.32" stroke="#3636ff" stroke-width="0.8"/>
<text x="216.7" y="231.62" font-size="6.2" fill="#3636ff" font-weight="700">0.25</text>
<line x1="211.7" y1="209.04" x2="214.3" y2="209.04" stroke="#3636ff" stroke-width="0.8"/>
<text x="216.7" y="211.34" font-size="6.2" fill="#3636ff" font-weight="700">0.30</text>
<line x1="211.7" y1="188.75" x2="214.3" y2="188.75" stroke="#3636ff" stroke-width="0.8"/>
<text x="216.7" y="191.06" font-size="6.2" fill="#3636ff" font-weight="700">0.35</text>
<line x1="211.7" y1="320.61" x2="213.2" y2="320.61" stroke="#3636ff" stroke-width="0.6"/>
<line x1="211.7" y1="300.32" x2="213.2" y2="300.32" stroke="#3636ff" stroke-width="0.6"/>
<line x1="211.7" y1="280.04" x2="213.2" y2="280.04" stroke="#3636ff" stroke-width="0.6"/>
<line x1="211.7" y1="259.75" x2="213.2" y2="259.75" stroke="#3636ff" stroke-width="0.6"/>
<line x1="211.7" y1="239.47" x2="213.2" y2="239.47" stroke="#3636ff" stroke-width="0.6"/>
<line x1="211.7" y1="219.18" x2="213.2" y2="219.18" stroke="#3636ff" stroke-width="0.6"/>
<line x1="211.7" y1="198.90" x2="213.2" y2="198.90" stroke="#3636ff" stroke-width="0.6"/>
<text x="122.85" y="356.2" font-size="8.0" text-anchor="middle" fill="#111">Gate voltage, <tspan font-style="italic">V</tspan><tspan font-size="5.6" dy="1.4">G</tspan><tspan dy="-1.4"> (V)</tspan></text>
<text transform="translate(12.3,246.9) rotate(-90)" font-size="9" text-anchor="middle" fill="#111">Drain current, <tspan font-style="italic">I</tspan><tspan font-size="6" dy="1.6">D</tspan><tspan dy="-1.6"> (µA)</tspan></text>
<text transform="translate(238.9,253) rotate(-90)" font-size="8.8" text-anchor="middle" fill="#3636ff" font-weight="700"><tspan font-style="italic">I</tspan><tspan font-size="5.6" dy="1.5">D</tspan><tspan font-size="5.6" dy="-5.2"> 1/2</tspan><tspan dy="3.7"> (10</tspan><tspan font-size="5.6" dy="-3.6">-2</tspan><tspan dy="3.6"> A</tspan><tspan font-size="5.6" dy="-3.6">1/2</tspan><tspan dy="3.6">)</tspan></text>
<text x="47" y="198.8" font-size="9.1" fill="#111" textLength="40.9" lengthAdjust="spacing">2H-MoTe<tspan font-size="6" dy="1.7">2</tspan></text>
<text transform="translate(102.4,309.6) rotate(-78.5)" font-size="7.8" font-style="italic" fill="#222">S = 96 mV/dec</text>
<text x="126.5" y="328" font-size="8" fill="#111"><tspan font-style="italic">V</tspan><tspan font-size="5" dy="1.2">TH</tspan><tspan dy="-1.2"> = 9.8 V</tspan></text>
</g>
<g id="panelD">
<g clip-path="url(#clipd)">
<ellipse cx="309" cy="242.5" rx="33" ry="3.6" fill="#b8b8b8" opacity="0.45" filter="url(#blur2)"/>
<line x1="298.50" y1="220.20" x2="298.65" y2="212.26" stroke="#efb52c" stroke-width="0.75"/>
<line x1="298.65" y1="212.26" x2="298.75" y2="207.40" stroke="#8a7440" stroke-width="0.75"/>
<line x1="298.50" y1="220.20" x2="308.98" y2="213.50" stroke="#efb52c" stroke-width="0.75"/>
<line x1="308.98" y1="213.50" x2="315.40" y2="209.40" stroke="#8a7440" stroke-width="0.75"/>
<line x1="298.50" y1="220.20" x2="298.65" y2="233.22" stroke="#efb52c" stroke-width="0.75"/>
<line x1="298.65" y1="233.22" x2="298.75" y2="241.20" stroke="#8a7440" stroke-width="0.75"/>
<line x1="298.50" y1="220.20" x2="308.98" y2="234.27" stroke="#efb52c" stroke-width="0.75"/>
<line x1="308.98" y1="234.27" x2="315.40" y2="242.90" stroke="#8a7440" stroke-width="0.75"/>
<line x1="315.40" y1="230.20" x2="305.08" y2="216.06" stroke="#efb52c" stroke-width="0.75"/>
<line x1="305.08" y1="216.06" x2="298.75" y2="207.40" stroke="#8a7440" stroke-width="0.75"/>
<line x1="315.40" y1="230.20" x2="315.40" y2="217.30" stroke="#efb52c" stroke-width="0.75"/>
<line x1="315.40" y1="217.30" x2="315.40" y2="209.40" stroke="#8a7440" stroke-width="0.75"/>
<line x1="315.40" y1="230.20" x2="325.44" y2="216.06" stroke="#efb52c" stroke-width="0.75"/>
<line x1="325.44" y1="216.06" x2="331.60" y2="207.40" stroke="#8a7440" stroke-width="0.75"/>
<line x1="315.40" y1="230.20" x2="305.08" y2="237.02" stroke="#efb52c" stroke-width="0.75"/>
<line x1="305.08" y1="237.02" x2="298.75" y2="241.20" stroke="#8a7440" stroke-width="0.75"/>
<line x1="315.40" y1="230.20" x2="315.40" y2="238.07" stroke="#efb52c" stroke-width="0.75"/>
<line x1="315.40" y1="238.07" x2="315.40" y2="242.90" stroke="#8a7440" stroke-width="0.75"/>
<line x1="315.40" y1="230.20" x2="325.44" y2="237.02" stroke="#efb52c" stroke-width="0.75"/>
<line x1="325.44" y1="237.02" x2="331.60" y2="241.20" stroke="#8a7440" stroke-width="0.75"/>
<line x1="332.00" y1="220.20" x2="321.71" y2="213.50" stroke="#efb52c" stroke-width="0.75"/>
<line x1="321.71" y1="213.50" x2="315.40" y2="209.40" stroke="#8a7440" stroke-width="0.75"/>
<line x1="332.00" y1="220.20" x2="331.75" y2="212.26" stroke="#efb52c" stroke-width="0.75"/>
<line x1="331.75" y1="212.26" x2="331.60" y2="207.40" stroke="#8a7440" stroke-width="0.75"/>
<line x1="332.00" y1="220.20" x2="321.71" y2="234.27" stroke="#efb52c" stroke-width="0.75"/>
<line x1="321.71" y1="234.27" x2="315.40" y2="242.90" stroke="#8a7440" stroke-width="0.75"/>
<line x1="332.00" y1="220.20" x2="331.75" y2="233.22" stroke="#efb52c" stroke-width="0.75"/>
<line x1="331.75" y1="233.22" x2="331.60" y2="241.20" stroke="#8a7440" stroke-width="0.75"/>
<line x1="296.25" y1="209.00" x2="292.15" y2="212.00" stroke="#efb52c" stroke-width="0.75"/>
<line x1="295.50" y1="222.80" x2="292.50" y2="228.20" stroke="#efb52c" stroke-width="0.75"/>
<line x1="293.10" y1="218.20" x2="291.90" y2="219.40" stroke="#6a5a30" stroke-width="0.8"/>
<line x1="296.25" y1="239.80" x2="292.35" y2="237.40" stroke="#efb52c" stroke-width="0.75"/>
<line x1="334.10" y1="209.00" x2="338.20" y2="212.00" stroke="#efb52c" stroke-width="0.75"/>
<line x1="335.00" y1="222.80" x2="338.00" y2="228.20" stroke="#efb52c" stroke-width="0.75"/>
<line x1="337.40" y1="218.20" x2="338.60" y2="219.40" stroke="#6a5a30" stroke-width="0.8"/>
<line x1="334.10" y1="239.80" x2="338.00" y2="237.40" stroke="#efb52c" stroke-width="0.75"/>
<circle cx="298.75" cy="207.4" r="3.05" fill="url(#gAtom)"/>
<circle cx="315.4" cy="209.4" r="3.05" fill="url(#gAtom)"/>
<circle cx="331.6" cy="207.4" r="3.05" fill="url(#gAtom)"/>
<circle cx="298.75" cy="241.2" r="3.05" fill="url(#gAtom)"/>
<circle cx="315.4" cy="242.9" r="3.05" fill="url(#gAtom)"/>
<circle cx="331.6" cy="241.2" r="3.05" fill="url(#gAtom)"/>
<circle cx="298.5" cy="220.2" r="3.7" fill="url(#yAtom)"/>
<circle cx="315.4" cy="230.2" r="3.7" fill="url(#yAtom)"/>
<circle cx="332" cy="220.2" r="3.7" fill="url(#yAtom)"/>
</g>
<g clip-path="url(#clipd)">
<polyline points="301.1,271.0 304.7,271.3 308.0,271.3 311.6,271.3 315.4,272.1 319.1,273.7 322.7,275.4 326.3,277.8 329.8,281.9 333.0,287.3 336.6,299.1" fill="none" stroke="#888" stroke-width="0.4"/>
<polyline points="301.1,272.2 304.7,276.2 308.2,273.0 311.6,275.4 315.4,284.7 319.1,280.8 322.7,284.7 326.3,290.4 329.8,288.0 333.0,293.4 336.6,303.4" fill="none" stroke="#888" stroke-width="0.4"/>
<rect x="299.15" y="269.05" width="3.9" height="3.9" fill="none" stroke="#111" stroke-width="0.9"/>
<rect x="302.75" y="269.35" width="3.9" height="3.9" fill="none" stroke="#111" stroke-width="0.9"/>
<rect x="306.05" y="269.35" width="3.9" height="3.9" fill="none" stroke="#111" stroke-width="0.9"/>
<rect x="309.65" y="269.35" width="3.9" height="3.9" fill="none" stroke="#111" stroke-width="0.9"/>
<rect x="313.45" y="270.15" width="3.9" height="3.9" fill="none" stroke="#111" stroke-width="0.9"/>
<rect x="317.15" y="271.75" width="3.9" height="3.9" fill="none" stroke="#111" stroke-width="0.9"/>
<rect x="320.75" y="273.45" width="3.9" height="3.9" fill="none" stroke="#111" stroke-width="0.9"/>
<rect x="324.35" y="275.85" width="3.9" height="3.9" fill="none" stroke="#111" stroke-width="0.9"/>
<rect x="327.85" y="279.95" width="3.9" height="3.9" fill="none" stroke="#111" stroke-width="0.9"/>
<rect x="331.05" y="285.35" width="3.9" height="3.9" fill="none" stroke="#111" stroke-width="0.9"/>
<rect x="334.65" y="297.15" width="3.9" height="3.9" fill="none" stroke="#111" stroke-width="0.9"/>
<rect x="299.15" y="270.25" width="3.9" height="3.9" fill="none" stroke="#111" stroke-width="0.9"/>
<rect x="302.75" y="274.25" width="3.9" height="3.9" fill="none" stroke="#111" stroke-width="0.9"/>
<rect x="306.25" y="271.05" width="3.9" height="3.9" fill="none" stroke="#111" stroke-width="0.9"/>
<rect x="309.65" y="273.45" width="3.9" height="3.9" fill="none" stroke="#111" stroke-width="0.9"/>
<rect x="313.45" y="282.75" width="3.9" height="3.9" fill="none" stroke="#111" stroke-width="0.9"/>
<rect x="317.15" y="278.85" width="3.9" height="3.9" fill="none" stroke="#111" stroke-width="0.9"/>
<rect x="320.75" y="282.75" width="3.9" height="3.9" fill="none" stroke="#111" stroke-width="0.9"/>
<rect x="324.35" y="288.45" width="3.9" height="3.9" fill="none" stroke="#111" stroke-width="0.9"/>
<rect x="327.85" y="286.05" width="3.9" height="3.9" fill="none" stroke="#111" stroke-width="0.9"/>
<rect x="331.05" y="291.45" width="3.9" height="3.9" fill="none" stroke="#111" stroke-width="0.9"/>
<rect x="334.65" y="301.45" width="3.9" height="3.9" fill="none" stroke="#111" stroke-width="0.9"/>
<rect x="338.42" y="277.05" width="3.9" height="3.9" fill="none" stroke="#111" stroke-width="0.9"/>
<rect x="341.99" y="263.08" width="3.9" height="3.9" fill="none" stroke="#111" stroke-width="0.9"/>
<rect x="345.56" y="251.63" width="3.9" height="3.9" fill="none" stroke="#111" stroke-width="0.9"/>
<rect x="349.13" y="244.60" width="3.9" height="3.9" fill="none" stroke="#111" stroke-width="0.9"/>
<rect x="352.70" y="237.75" width="3.9" height="3.9" fill="none" stroke="#111" stroke-width="0.9"/>
<rect x="356.27" y="233.33" width="3.9" height="3.9" fill="none" stroke="#111" stroke-width="0.9"/>
<rect x="359.84" y="229.76" width="3.9" height="3.9" fill="none" stroke="#111" stroke-width="0.9"/>
<rect x="363.41" y="226.19" width="3.9" height="3.9" fill="none" stroke="#111" stroke-width="0.9"/>
<rect x="366.98" y="223.43" width="3.9" height="3.9" fill="none" stroke="#111" stroke-width="0.9"/>
<rect x="370.55" y="221.12" width="3.9" height="3.9" fill="none" stroke="#111" stroke-width="0.9"/>
<rect x="374.12" y="218.96" width="3.9" height="3.9" fill="none" stroke="#111" stroke-width="0.9"/>
<rect x="377.69" y="216.86" width="3.9" height="3.9" fill="none" stroke="#111" stroke-width="0.9"/>
<rect x="381.26" y="214.82" width="3.9" height="3.9" fill="none" stroke="#111" stroke-width="0.9"/>
<rect x="384.83" y="212.84" width="3.9" height="3.9" fill="none" stroke="#111" stroke-width="0.9"/>
<rect x="388.40" y="210.93" width="3.9" height="3.9" fill="none" stroke="#111" stroke-width="0.9"/>
<rect x="391.97" y="209.08" width="3.9" height="3.9" fill="none" stroke="#111" stroke-width="0.9"/>
<rect x="395.54" y="207.30" width="3.9" height="3.9" fill="none" stroke="#111" stroke-width="0.9"/>
<rect x="399.11" y="205.59" width="3.9" height="3.9" fill="none" stroke="#111" stroke-width="0.9"/>
<rect x="402.68" y="203.94" width="3.9" height="3.9" fill="none" stroke="#111" stroke-width="0.9"/>
<rect x="406.25" y="202.36" width="3.9" height="3.9" fill="none" stroke="#111" stroke-width="0.9"/>
<rect x="409.82" y="200.86" width="3.9" height="3.9" fill="none" stroke="#111" stroke-width="0.9"/>
<rect x="413.39" y="199.42" width="3.9" height="3.9" fill="none" stroke="#111" stroke-width="0.9"/>
<rect x="416.96" y="198.05" width="3.9" height="3.9" fill="none" stroke="#111" stroke-width="0.9"/>
<rect x="420.53" y="196.76" width="3.9" height="3.9" fill="none" stroke="#111" stroke-width="0.9"/>
<rect x="424.10" y="195.54" width="3.9" height="3.9" fill="none" stroke="#111" stroke-width="0.9"/>
<rect x="427.67" y="194.40" width="3.9" height="3.9" fill="none" stroke="#111" stroke-width="0.9"/>
<rect x="431.24" y="193.33" width="3.9" height="3.9" fill="none" stroke="#111" stroke-width="0.9"/>
<rect x="434.81" y="192.34" width="3.9" height="3.9" fill="none" stroke="#111" stroke-width="0.9"/>
<rect x="438.38" y="191.43" width="3.9" height="3.9" fill="none" stroke="#111" stroke-width="0.9"/>
<rect x="441.95" y="190.60" width="3.9" height="3.9" fill="none" stroke="#111" stroke-width="0.9"/>
<rect x="338.42" y="282.35" width="3.9" height="3.9" fill="none" stroke="#111" stroke-width="0.9"/>
<rect x="341.99" y="261.47" width="3.9" height="3.9" fill="none" stroke="#111" stroke-width="0.9"/>
<rect x="345.56" y="251.14" width="3.9" height="3.9" fill="none" stroke="#111" stroke-width="0.9"/>
<rect x="349.13" y="244.12" width="3.9" height="3.9" fill="none" stroke="#111" stroke-width="0.9"/>
<rect x="352.70" y="237.40" width="3.9" height="3.9" fill="none" stroke="#111" stroke-width="0.9"/>
<rect x="356.27" y="233.08" width="3.9" height="3.9" fill="none" stroke="#111" stroke-width="0.9"/>
<line x1="335.8" y1="302.2" x2="349.8" y2="236.7" stroke="#ff4040" stroke-width="0.8" stroke-dasharray="2.2 1.3"/>
<line x1="348.9" y1="334.2" x2="364" y2="317" stroke="#3636ff" stroke-width="0.7" stroke-dasharray="2 1.2"/>
<polygon points="301.10,327.07 298.80,331.56 303.40,331.56" fill="none" stroke="#2a2af0" stroke-width="0.9"/>
<circle cx="301.10" cy="330.02" r="2.1" fill="none" stroke="#2222ee" stroke-width="0.9"/>
<polygon points="304.67,327.10 302.37,331.58 306.97,331.58" fill="none" stroke="#2a2af0" stroke-width="0.9"/>
<circle cx="304.67" cy="330.04" r="2.1" fill="none" stroke="#2222ee" stroke-width="0.9"/>
<polygon points="308.24,327.13 305.94,331.61 310.54,331.61" fill="none" stroke="#2a2af0" stroke-width="0.9"/>
<circle cx="308.24" cy="330.07" r="2.1" fill="none" stroke="#2222ee" stroke-width="0.9"/>
<polygon points="311.81,327.15 309.51,331.64 314.11,331.64" fill="none" stroke="#2a2af0" stroke-width="0.9"/>
<circle cx="311.81" cy="330.10" r="2.1" fill="none" stroke="#2222ee" stroke-width="0.9"/>
<polygon points="315.38,327.18 313.08,331.67 317.68,331.67" fill="none" stroke="#2a2af0" stroke-width="0.9"/>
<circle cx="315.38" cy="330.13" r="2.1" fill="none" stroke="#2222ee" stroke-width="0.9"/>
<polygon points="318.95,327.21 316.65,331.69 321.25,331.69" fill="none" stroke="#2a2af0" stroke-width="0.9"/>
<circle cx="318.95" cy="330.15" r="2.1" fill="none" stroke="#2222ee" stroke-width="0.9"/>
<polygon points="322.52,327.24 320.22,331.72 324.82,331.72" fill="none" stroke="#2a2af0" stroke-width="0.9"/>
<circle cx="322.52" cy="330.18" r="2.1" fill="none" stroke="#2222ee" stroke-width="0.9"/>
<polygon points="326.09,327.26 323.79,331.75 328.39,331.75" fill="none" stroke="#2a2af0" stroke-width="0.9"/>
<circle cx="326.09" cy="330.21" r="2.1" fill="none" stroke="#2222ee" stroke-width="0.9"/>
<polygon points="329.66,327.29 327.36,331.78 331.96,331.78" fill="none" stroke="#2a2af0" stroke-width="0.9"/>
<circle cx="329.66" cy="330.24" r="2.1" fill="none" stroke="#2222ee" stroke-width="0.9"/>
<polygon points="333.23,327.32 330.93,331.80 335.53,331.80" fill="none" stroke="#2a2af0" stroke-width="0.9"/>
<circle cx="333.23" cy="330.26" r="2.1" fill="none" stroke="#2222ee" stroke-width="0.9"/>
<polygon points="336.80,327.35 334.50,331.83 339.10,331.83" fill="none" stroke="#2a2af0" stroke-width="0.9"/>
<circle cx="336.80" cy="330.29" r="2.1" fill="none" stroke="#2222ee" stroke-width="0.9"/>
<polygon points="340.37,326.73 338.07,331.22 342.67,331.22" fill="none" stroke="#2a2af0" stroke-width="0.9"/>
<circle cx="340.37" cy="329.68" r="2.1" fill="none" stroke="#2222ee" stroke-width="0.9"/>
<polygon points="343.94,325.70 341.64,330.19 346.24,330.19" fill="none" stroke="#2a2af0" stroke-width="0.9"/>
<circle cx="343.94" cy="328.65" r="2.1" fill="none" stroke="#2222ee" stroke-width="0.9"/>
<polygon points="347.51,323.47 345.21,327.96 349.81,327.96" fill="none" stroke="#2a2af0" stroke-width="0.9"/>
<circle cx="347.51" cy="326.42" r="2.1" fill="none" stroke="#2222ee" stroke-width="0.9"/>
<polygon points="351.08,321.23 348.78,325.71 353.38,325.71" fill="none" stroke="#2a2af0" stroke-width="0.9"/>
<circle cx="351.08" cy="324.17" r="2.1" fill="none" stroke="#2222ee" stroke-width="0.9"/>
<polygon points="354.65,318.73 352.35,323.21 356.95,323.21" fill="none" stroke="#2a2af0" stroke-width="0.9"/>
<circle cx="354.65" cy="321.68" r="2.1" fill="none" stroke="#2222ee" stroke-width="0.9"/>
<polygon points="358.22,316.24 355.92,320.72 360.52,320.72" fill="none" stroke="#2a2af0" stroke-width="0.9"/>
<circle cx="358.22" cy="319.18" r="2.1" fill="none" stroke="#2222ee" stroke-width="0.9"/>
<polygon points="361.79,313.83 359.49,318.31 364.09,318.31" fill="none" stroke="#2a2af0" stroke-width="0.9"/>
<circle cx="361.79" cy="316.77" r="2.1" fill="none" stroke="#2222ee" stroke-width="0.9"/>
<polygon points="365.36,311.37 363.06,315.85 367.66,315.85" fill="none" stroke="#2a2af0" stroke-width="0.9"/>
<circle cx="365.36" cy="314.31" r="2.1" fill="none" stroke="#2222ee" stroke-width="0.9"/>
<polygon points="368.93,308.54 366.63,313.02 371.23,313.02" fill="none" stroke="#2a2af0" stroke-width="0.9"/>
<circle cx="368.93" cy="311.48" r="2.1" fill="none" stroke="#2222ee" stroke-width="0.9"/>
<polygon points="372.50,305.46 370.20,309.94 374.80,309.94" fill="none" stroke="#2a2af0" stroke-width="0.9"/>
<circle cx="372.50" cy="308.40" r="2.1" fill="none" stroke="#2222ee" stroke-width="0.9"/>
<polygon points="376.07,300.81 373.77,305.30 378.37,305.30" fill="none" stroke="#2a2af0" stroke-width="0.9"/>
<circle cx="376.07" cy="303.76" r="2.1" fill="none" stroke="#2222ee" stroke-width="0.9"/>
<polygon points="379.64,296.17 377.34,300.66 381.94,300.66" fill="none" stroke="#2a2af0" stroke-width="0.9"/>
<circle cx="379.64" cy="299.12" r="2.1" fill="none" stroke="#2222ee" stroke-width="0.9"/>
<polygon points="383.21,291.53 380.91,296.02 385.51,296.02" fill="none" stroke="#2a2af0" stroke-width="0.9"/>
<circle cx="383.21" cy="294.48" r="2.1" fill="none" stroke="#2222ee" stroke-width="0.9"/>
<polygon points="386.78,287.12 384.48,291.60 389.08,291.60" fill="none" stroke="#2a2af0" stroke-width="0.9"/>
<circle cx="386.78" cy="290.06" r="2.1" fill="none" stroke="#2222ee" stroke-width="0.9"/>
<polygon points="390.35,282.83 388.05,287.32 392.65,287.32" fill="none" stroke="#2a2af0" stroke-width="0.9"/>
<circle cx="390.35" cy="285.78" r="2.1" fill="none" stroke="#2222ee" stroke-width="0.9"/>
<polygon points="393.92,278.55 391.62,283.04 396.22,283.04" fill="none" stroke="#2a2af0" stroke-width="0.9"/>
<circle cx="393.92" cy="281.50" r="2.1" fill="none" stroke="#2222ee" stroke-width="0.9"/>
<polygon points="397.49,274.24 395.19,278.72 399.79,278.72" fill="none" stroke="#2a2af0" stroke-width="0.9"/>
<circle cx="397.49" cy="277.18" r="2.1" fill="none" stroke="#2222ee" stroke-width="0.9"/>
<polygon points="401.06,269.76 398.76,274.24 403.36,274.24" fill="none" stroke="#2a2af0" stroke-width="0.9"/>
<circle cx="401.06" cy="272.70" r="2.1" fill="none" stroke="#2222ee" stroke-width="0.9"/>
<polygon points="404.63,265.27 402.33,269.76 406.93,269.76" fill="none" stroke="#2a2af0" stroke-width="0.9"/>
<circle cx="404.63" cy="268.22" r="2.1" fill="none" stroke="#2222ee" stroke-width="0.9"/>
<polygon points="408.20,260.72 405.90,265.20 410.50,265.20" fill="none" stroke="#2a2af0" stroke-width="0.9"/>
<circle cx="408.20" cy="263.66" r="2.1" fill="none" stroke="#2222ee" stroke-width="0.9"/>
<polygon points="411.77,255.67 409.47,260.16 414.07,260.16" fill="none" stroke="#2a2af0" stroke-width="0.9"/>
<circle cx="411.77" cy="258.62" r="2.1" fill="none" stroke="#2222ee" stroke-width="0.9"/>
<polygon points="415.34,250.56 413.04,255.04 417.64,255.04" fill="none" stroke="#2a2af0" stroke-width="0.9"/>
<circle cx="415.34" cy="253.50" r="2.1" fill="none" stroke="#2222ee" stroke-width="0.9"/>
<polygon points="418.91,244.82 416.61,249.31 421.21,249.31" fill="none" stroke="#2a2af0" stroke-width="0.9"/>
<circle cx="418.91" cy="247.77" r="2.1" fill="none" stroke="#2222ee" stroke-width="0.9"/>
<polygon points="422.48,239.05 420.18,243.54 424.78,243.54" fill="none" stroke="#2a2af0" stroke-width="0.9"/>
<circle cx="422.48" cy="242.00" r="2.1" fill="none" stroke="#2222ee" stroke-width="0.9"/>
<polygon points="426.05,233.10 423.75,237.59 428.35,237.59" fill="none" stroke="#2a2af0" stroke-width="0.9"/>
<circle cx="426.05" cy="236.05" r="2.1" fill="none" stroke="#2222ee" stroke-width="0.9"/>
<polygon points="429.62,227.13 427.32,231.62 431.92,231.62" fill="none" stroke="#2a2af0" stroke-width="0.9"/>
<circle cx="429.62" cy="230.08" r="2.1" fill="none" stroke="#2222ee" stroke-width="0.9"/>
<polygon points="433.19,220.50 430.89,224.99 435.49,224.99" fill="none" stroke="#2a2af0" stroke-width="0.9"/>
<circle cx="433.19" cy="223.45" r="2.1" fill="none" stroke="#2222ee" stroke-width="0.9"/>
<polygon points="436.76,213.87 434.46,218.35 439.06,218.35" fill="none" stroke="#2a2af0" stroke-width="0.9"/>
<circle cx="436.76" cy="216.81" r="2.1" fill="none" stroke="#2222ee" stroke-width="0.9"/>
<polygon points="440.33,207.21 438.03,211.69 442.63,211.69" fill="none" stroke="#2a2af0" stroke-width="0.9"/>
<circle cx="440.33" cy="210.15" r="2.1" fill="none" stroke="#2222ee" stroke-width="0.9"/>
<polygon points="443.90,200.54 441.60,205.03 446.20,205.03" fill="none" stroke="#2a2af0" stroke-width="0.9"/>
<circle cx="443.90" cy="203.49" r="2.1" fill="none" stroke="#2222ee" stroke-width="0.9"/>
</g>
<rect x="283.2" y="185.4" width="177.6" height="149.4" fill="none" stroke="#555" stroke-width="1.15"/>
<line x1="460.8" y1="185.4" x2="460.8" y2="334.8" stroke="#3636ff" stroke-width="1"/>
<line x1="280.6" y1="191.40" x2="283.2" y2="191.40" stroke="#222" stroke-width="0.8"/>
<text x="278.2" y="193.80" font-size="6.5" text-anchor="end" fill="#1c1c1c">10<tspan font-size="4.2" dy="-2.4">-5</tspan></text>
<line x1="280.6" y1="212.77" x2="283.2" y2="212.77" stroke="#222" stroke-width="0.8"/>
<text x="278.2" y="215.17" font-size="6.5" text-anchor="end" fill="#1c1c1c">10<tspan font-size="4.2" dy="-2.4">-6</tspan></text>
<line x1="280.6" y1="234.14" x2="283.2" y2="234.14" stroke="#222" stroke-width="0.8"/>
<text x="278.2" y="236.54" font-size="6.5" text-anchor="end" fill="#1c1c1c">10<tspan font-size="4.2" dy="-2.4">-7</tspan></text>
<line x1="280.6" y1="255.51" x2="283.2" y2="255.51" stroke="#222" stroke-width="0.8"/>
<text x="278.2" y="257.91" font-size="6.5" text-anchor="end" fill="#1c1c1c">10<tspan font-size="4.2" dy="-2.4">-8</tspan></text>
<line x1="280.6" y1="276.88" x2="283.2" y2="276.88" stroke="#222" stroke-width="0.8"/>
<text x="278.2" y="279.28" font-size="6.5" text-anchor="end" fill="#1c1c1c">10<tspan font-size="4.2" dy="-2.4">-9</tspan></text>
<line x1="280.6" y1="298.25" x2="283.2" y2="298.25" stroke="#222" stroke-width="0.8"/>
<text x="278.2" y="300.65" font-size="6.5" text-anchor="end" fill="#1c1c1c">10<tspan font-size="4.2" dy="-2.4">-10</tspan></text>
<line x1="280.6" y1="319.62" x2="283.2" y2="319.62" stroke="#222" stroke-width="0.8"/>
<text x="278.2" y="322.02" font-size="6.5" text-anchor="end" fill="#1c1c1c">10<tspan font-size="4.2" dy="-2.4">-11</tspan></text>
<line x1="301.10" y1="334.8" x2="301.10" y2="337.4" stroke="#222" stroke-width="0.8"/>
<text x="301.10" y="343.6" font-size="6.4" text-anchor="middle" fill="#222">20</text>
<line x1="336.80" y1="334.8" x2="336.80" y2="337.4" stroke="#222" stroke-width="0.8"/>
<text x="336.80" y="343.6" font-size="6.4" text-anchor="middle" fill="#222">0</text>
<line x1="372.50" y1="334.8" x2="372.50" y2="337.4" stroke="#222" stroke-width="0.8"/>
<text x="372.50" y="343.6" font-size="6.4" text-anchor="middle" fill="#222">-20</text>
<line x1="408.20" y1="334.8" x2="408.20" y2="337.4" stroke="#222" stroke-width="0.8"/>
<text x="408.20" y="343.6" font-size="6.4" text-anchor="middle" fill="#222">-40</text>
<line x1="443.90" y1="334.8" x2="443.90" y2="337.4" stroke="#222" stroke-width="0.8"/>
<text x="443.90" y="343.6" font-size="6.4" text-anchor="middle" fill="#222">-60</text>
<line x1="318.95" y1="334.8" x2="318.95" y2="336.3" stroke="#222" stroke-width="0.6"/>
<line x1="354.65" y1="334.8" x2="354.65" y2="336.3" stroke="#222" stroke-width="0.6"/>
<line x1="390.35" y1="334.8" x2="390.35" y2="336.3" stroke="#222" stroke-width="0.6"/>
<line x1="426.05" y1="334.8" x2="426.05" y2="336.3" stroke="#222" stroke-width="0.6"/>
<line x1="460.8" y1="330.75" x2="463.4" y2="330.75" stroke="#3636ff" stroke-width="0.8"/>
<text x="465.8" y="333.05" font-size="6.2" fill="#3636ff" font-weight="700">0.00</text>
<line x1="460.8" y1="310.46" x2="463.4" y2="310.46" stroke="#3636ff" stroke-width="0.8"/>
<text x="465.8" y="312.76" font-size="6.2" fill="#3636ff" font-weight="700">0.05</text>
<line x1="460.8" y1="290.18" x2="463.4" y2="290.18" stroke="#3636ff" stroke-width="0.8"/>
<text x="465.8" y="292.48" font-size="6.2" fill="#3636ff" font-weight="700">0.10</text>
<line x1="460.8" y1="269.89" x2="463.4" y2="269.89" stroke="#3636ff" stroke-width="0.8"/>
<text x="465.8" y="272.19" font-size="6.2" fill="#3636ff" font-weight="700">0.15</text>
<line x1="460.8" y1="249.61" x2="463.4" y2="249.61" stroke="#3636ff" stroke-width="0.8"/>
<text x="465.8" y="251.91" font-size="6.2" fill="#3636ff" font-weight="700">0.20</text>
<line x1="460.8" y1="229.32" x2="463.4" y2="229.32" stroke="#3636ff" stroke-width="0.8"/>
<text x="465.8" y="231.62" font-size="6.2" fill="#3636ff" font-weight="700">0.25</text>
<line x1="460.8" y1="209.04" x2="463.4" y2="209.04" stroke="#3636ff" stroke-width="0.8"/>
<text x="465.8" y="211.34" font-size="6.2" fill="#3636ff" font-weight="700">0.30</text>
<line x1="460.8" y1="188.75" x2="463.4" y2="188.75" stroke="#3636ff" stroke-width="0.8"/>
<text x="465.8" y="191.06" font-size="6.2" fill="#3636ff" font-weight="700">0.35</text>
<line x1="460.8" y1="320.61" x2="462.3" y2="320.61" stroke="#3636ff" stroke-width="0.6"/>
<line x1="460.8" y1="300.32" x2="462.3" y2="300.32" stroke="#3636ff" stroke-width="0.6"/>
<line x1="460.8" y1="280.04" x2="462.3" y2="280.04" stroke="#3636ff" stroke-width="0.6"/>
<line x1="460.8" y1="259.75" x2="462.3" y2="259.75" stroke="#3636ff" stroke-width="0.6"/>
<line x1="460.8" y1="239.47" x2="462.3" y2="239.47" stroke="#3636ff" stroke-width="0.6"/>
<line x1="460.8" y1="219.18" x2="462.3" y2="219.18" stroke="#3636ff" stroke-width="0.6"/>
<line x1="460.8" y1="198.90" x2="462.3" y2="198.90" stroke="#3636ff" stroke-width="0.6"/>
<text x="372" y="356.2" font-size="8.0" text-anchor="middle" fill="#111">Gate voltage, <tspan font-style="italic">V</tspan><tspan font-size="5.6" dy="1.4">G</tspan><tspan dy="-1.4"> (V)</tspan></text>
<text transform="translate(261.5,246.9) rotate(-90)" font-size="9" text-anchor="middle" fill="#111">Drain current, <tspan font-style="italic">I</tspan><tspan font-size="6" dy="1.6">D</tspan><tspan dy="-1.6"> (µA)</tspan></text>
<text transform="translate(488,253) rotate(-90)" font-size="8.8" text-anchor="middle" fill="#3636ff" font-weight="700"><tspan font-style="italic">I</tspan><tspan font-size="5.6" dy="1.5">D</tspan><tspan font-size="5.6" dy="-5.2"> 1/2</tspan><tspan dy="3.7"> (10</tspan><tspan font-size="5.6" dy="-3.6">-2</tspan><tspan dy="3.6"> A</tspan><tspan font-size="5.6" dy="-3.6">1/2</tspan><tspan dy="3.6">)</tspan></text>
<text x="295.2" y="197.8" font-size="9.1" fill="#111" textLength="42" lengthAdjust="spacing">1T’-MoTe<tspan font-size="6" dy="1.7">2</tspan></text>
<text transform="translate(348.6,304.2) rotate(-78)" font-size="7.8" font-style="italic" fill="#222">S = 98 mV/dec</text>
<text x="365" y="328" font-size="8" fill="#111"><tspan font-style="italic">V</tspan><tspan font-size="5" dy="1.2">TH</tspan><tspan dy="-1.2"> = 8.5 V</tspan></text>
</g>
<g id="panelE">
<rect x="62" y="477.5" width="9.3" height="45" fill="#7f7f7f"/>
<rect x="66.7" y="500" width="9.2" height="22.5" fill="#ff8080"/>
<rect x="66.7" y="500" width="4.6" height="22.5" fill="#5a1c1c"/>
<rect x="84.25" y="432.5" width="9.3" height="90" fill="#7f7f7f"/>
<rect x="88.95" y="455" width="9.2" height="67.5" fill="#ff8080"/>
<rect x="88.95" y="455" width="4.6" height="67.5" fill="#5a1c1c"/>
<rect x="106.5" y="455" width="9.3" height="67.5" fill="#7f7f7f"/>
<rect x="111.2" y="417.5" width="9.2" height="105" fill="#ff8080"/>
<rect x="111.2" y="455" width="4.6" height="67.5" fill="#5a1c1c"/>
<rect x="128.75" y="485" width="9.3" height="37.5" fill="#7f7f7f"/>
<rect x="133.45" y="477.5" width="9.2" height="45" fill="#ff8080"/>
<rect x="133.45" y="485" width="4.6" height="37.5" fill="#5a1c1c"/>
<rect x="151" y="500" width="9.3" height="22.5" fill="#7f7f7f"/>
<rect x="155.7" y="507.5" width="9.2" height="15" fill="#ff8080"/>
<rect x="155.7" y="507.5" width="4.6" height="15" fill="#5a1c1c"/>
<rect x="173.25" y="515" width="9.3" height="7.5" fill="#7f7f7f"/>
<rect x="177.95" y="507.5" width="9.2" height="15" fill="#ff8080"/>
<rect x="177.95" y="515" width="4.6" height="7.5" fill="#5a1c1c"/>
<rect x="33.6" y="372.6" width="178.25" height="150" fill="none" stroke="#585858" stroke-width="1.15"/>
<line x1="31" y1="522.6" x2="33.6" y2="522.6" stroke="#333" stroke-width="0.8"/>
<text x="28" y="524.8" font-size="6.1" text-anchor="end" fill="#4a4a4a">0</text>
<line x1="31" y1="485.1" x2="33.6" y2="485.1" stroke="#333" stroke-width="0.8"/>
<text x="28" y="487.3" font-size="6.1" text-anchor="end" fill="#4a4a4a">5</text>
<line x1="31" y1="447.6" x2="33.6" y2="447.6" stroke="#333" stroke-width="0.8"/>
<text x="28" y="449.8" font-size="6.1" text-anchor="end" fill="#4a4a4a">10</text>
<line x1="31" y1="410.1" x2="33.6" y2="410.1" stroke="#333" stroke-width="0.8"/>
<text x="28" y="412.3" font-size="6.1" text-anchor="end" fill="#4a4a4a">15</text>
<line x1="31" y1="372.6" x2="33.6" y2="372.6" stroke="#333" stroke-width="0.8"/>
<text x="28" y="374.8" font-size="6.1" text-anchor="end" fill="#4a4a4a">20</text>
<line x1="32.1" y1="503.85" x2="33.6" y2="503.85" stroke="#333" stroke-width="0.6"/>
<line x1="32.1" y1="466.35" x2="33.6" y2="466.35" stroke="#333" stroke-width="0.6"/>
<line x1="32.1" y1="428.85" x2="33.6" y2="428.85" stroke="#333" stroke-width="0.6"/>
<line x1="32.1" y1="391.35" x2="33.6" y2="391.35" stroke="#333" stroke-width="0.6"/>
<text transform="translate(15.6,450.3) rotate(-90)" font-size="8.8" text-anchor="middle" fill="#333">Counts</text>
<line x1="44.5" y1="522.5" x2="44.5" y2="525.1" stroke="#333" stroke-width="0.8"/>
<text x="44.5" y="533.2" font-size="6.4" text-anchor="middle" fill="#444">0</text>
<line x1="88.9" y1="522.5" x2="88.9" y2="525.1" stroke="#333" stroke-width="0.8"/>
<text x="88.9" y="533.2" font-size="6.4" text-anchor="middle" fill="#444">10</text>
<line x1="133.3" y1="522.5" x2="133.3" y2="525.1" stroke="#333" stroke-width="0.8"/>
<text x="133.3" y="533.2" font-size="6.4" text-anchor="middle" fill="#444">20</text>
<line x1="177.7" y1="522.5" x2="177.7" y2="525.1" stroke="#333" stroke-width="0.8"/>
<text x="177.7" y="533.2" font-size="6.4" text-anchor="middle" fill="#444">30</text>
<line x1="66.7" y1="522.5" x2="66.7" y2="524" stroke="#333" stroke-width="0.6"/>
<line x1="111.1" y1="522.5" x2="111.1" y2="524" stroke="#333" stroke-width="0.6"/>
<line x1="155.5" y1="522.5" x2="155.5" y2="524" stroke="#333" stroke-width="0.6"/>
<line x1="199.9" y1="522.5" x2="199.9" y2="524" stroke="#333" stroke-width="0.6"/>
<text x="112.8" y="542" font-size="8.0" text-anchor="middle" fill="#444">Mobility (cm<tspan font-size="4.6" dy="-2.6">2</tspan><tspan dy="2.6">V</tspan><tspan font-size="4.6" dy="-2.6">-1</tspan><tspan dy="2.6">s</tspan><tspan font-size="4.6" dy="-2.6">-1</tspan><tspan dy="2.6">)</tspan></text>
<rect x="39.35" y="379" width="17.9" height="8.6" fill="#7f7f7f"/>
<rect x="39.35" y="391" width="17.9" height="8.6" fill="#ff8080"/>
<text x="61.85" y="386.2" font-size="7.9" fill="#383838" textLength="35" lengthAdjust="spacing">2H MoTe<tspan font-size="4.4" dy="1.5" fill="#666">2</tspan></text>
<text x="61.85" y="398.3" font-size="7.9" fill="#383838" textLength="35" lengthAdjust="spacing">1T’ MoTe<tspan font-size="4.4" dy="1.5" fill="#666">2</tspan></text>
</g>
<g id="panelF">
<rect x="354.8" y="507.5" width="5" height="15" fill="#7f7f7f"/>
<rect x="359.8" y="500" width="5.5" height="22.5" fill="#ff8080"/>
<rect x="365.3" y="492.5" width="5.2" height="30" fill="#7f7f7f"/>
<rect x="370.5" y="462.5" width="5.7" height="60" fill="#ff8080"/>
<rect x="377.7" y="440" width="5.9" height="30" fill="#ff8080"/>
<rect x="377.7" y="470" width="5.9" height="52.5" fill="#e8222a"/>
<rect x="387.1" y="417.5" width="5.5" height="52.5" fill="#7f7f7f"/>
<rect x="387.1" y="470" width="6.2" height="52.5" fill="#e8222a"/>
<rect x="393.4" y="477.5" width="5.1" height="45" fill="#7f7f7f"/>
<rect x="395.6" y="485" width="5.7" height="37.5" fill="#e8222a"/>
<rect x="398.5" y="485" width="2.8" height="37.5" fill="#ff8080"/>
<rect x="399.1" y="500" width="4.8" height="22.5" fill="#7f7f7f"/>
<rect x="398.5" y="485" width="2.8" height="37.5" fill="#ff8080"/>
<rect x="399.1" y="500" width="2.2" height="22.5" fill="#e8222a"/>
<rect x="401.3" y="507.5" width="5.45" height="15" fill="#ff8080"/>
<rect x="401.3" y="507.5" width="2.6" height="15" fill="#e8222a"/>
<rect x="283.1" y="372.6" width="178.3" height="150" fill="none" stroke="#585858" stroke-width="1.15"/>
<line x1="280.5" y1="522.6" x2="283.1" y2="522.6" stroke="#333" stroke-width="0.8"/>
<text x="277.5" y="524.8" font-size="6.1" text-anchor="end" fill="#4a4a4a">0</text>
<line x1="280.5" y1="485.1" x2="283.1" y2="485.1" stroke="#333" stroke-width="0.8"/>
<text x="277.5" y="487.3" font-size="6.1" text-anchor="end" fill="#4a4a4a">5</text>
<line x1="280.5" y1="447.6" x2="283.1" y2="447.6" stroke="#333" stroke-width="0.8"/>
<text x="277.5" y="449.8" font-size="6.1" text-anchor="end" fill="#4a4a4a">10</text>
<line x1="280.5" y1="410.1" x2="283.1" y2="410.1" stroke="#333" stroke-width="0.8"/>
<text x="277.5" y="412.3" font-size="6.1" text-anchor="end" fill="#4a4a4a">15</text>
<line x1="280.5" y1="372.6" x2="283.1" y2="372.6" stroke="#333" stroke-width="0.8"/>
<text x="277.5" y="374.8" font-size="6.1" text-anchor="end" fill="#4a4a4a">20</text>
<line x1="281.6" y1="503.85" x2="283.1" y2="503.85" stroke="#333" stroke-width="0.6"/>
<line x1="281.6" y1="466.35" x2="283.1" y2="466.35" stroke="#333" stroke-width="0.6"/>
<line x1="281.6" y1="428.85" x2="283.1" y2="428.85" stroke="#333" stroke-width="0.6"/>
<line x1="281.6" y1="391.35" x2="283.1" y2="391.35" stroke="#333" stroke-width="0.6"/>
<text transform="translate(265.1,450.3) rotate(-90)" font-size="8.8" text-anchor="middle" fill="#333">Counts</text>
<line x1="282.5" y1="522.5" x2="282.5" y2="525.1" stroke="#333" stroke-width="0.8"/>
<text x="282.5" y="533.6" font-size="6.2" text-anchor="middle" fill="#444">10<tspan font-size="3.8" dy="-2.2">4</tspan></text>
<line x1="300.44" y1="522.5" x2="300.44" y2="524" stroke="#333" stroke-width="0.5"/>
<line x1="310.94" y1="522.5" x2="310.94" y2="524" stroke="#333" stroke-width="0.5"/>
<line x1="318.38" y1="522.5" x2="318.38" y2="524" stroke="#333" stroke-width="0.5"/>
<line x1="324.16" y1="522.5" x2="324.16" y2="524" stroke="#333" stroke-width="0.5"/>
<line x1="328.88" y1="522.5" x2="328.88" y2="524" stroke="#333" stroke-width="0.5"/>
<line x1="332.87" y1="522.5" x2="332.87" y2="524" stroke="#333" stroke-width="0.5"/>
<line x1="336.32" y1="522.5" x2="336.32" y2="524" stroke="#333" stroke-width="0.5"/>
<line x1="339.37" y1="522.5" x2="339.37" y2="524" stroke="#333" stroke-width="0.5"/>
<line x1="342.1" y1="522.5" x2="342.1" y2="525.1" stroke="#333" stroke-width="0.8"/>
<text x="342.1" y="533.6" font-size="6.2" text-anchor="middle" fill="#444">10<tspan font-size="3.8" dy="-2.2">5</tspan></text>
<line x1="360.04" y1="522.5" x2="360.04" y2="524" stroke="#333" stroke-width="0.5"/>
<line x1="370.54" y1="522.5" x2="370.54" y2="524" stroke="#333" stroke-width="0.5"/>
<line x1="377.98" y1="522.5" x2="377.98" y2="524" stroke="#333" stroke-width="0.5"/>
<line x1="383.76" y1="522.5" x2="383.76" y2="524" stroke="#333" stroke-width="0.5"/>
<line x1="388.48" y1="522.5" x2="388.48" y2="524" stroke="#333" stroke-width="0.5"/>
<line x1="392.47" y1="522.5" x2="392.47" y2="524" stroke="#333" stroke-width="0.5"/>
<line x1="395.92" y1="522.5" x2="395.92" y2="524" stroke="#333" stroke-width="0.5"/>
<line x1="398.97" y1="522.5" x2="398.97" y2="524" stroke="#333" stroke-width="0.5"/>
<line x1="401.7" y1="522.5" x2="401.7" y2="525.1" stroke="#333" stroke-width="0.8"/>
<text x="401.7" y="533.6" font-size="6.2" text-anchor="middle" fill="#444">10<tspan font-size="3.8" dy="-2.2">6</tspan></text>
<line x1="419.64" y1="522.5" x2="419.64" y2="524" stroke="#333" stroke-width="0.5"/>
<line x1="430.14" y1="522.5" x2="430.14" y2="524" stroke="#333" stroke-width="0.5"/>
<line x1="437.58" y1="522.5" x2="437.58" y2="524" stroke="#333" stroke-width="0.5"/>
<line x1="443.36" y1="522.5" x2="443.36" y2="524" stroke="#333" stroke-width="0.5"/>
<line x1="448.08" y1="522.5" x2="448.08" y2="524" stroke="#333" stroke-width="0.5"/>
<line x1="452.07" y1="522.5" x2="452.07" y2="524" stroke="#333" stroke-width="0.5"/>
<line x1="455.52" y1="522.5" x2="455.52" y2="524" stroke="#333" stroke-width="0.5"/>
<line x1="458.57" y1="522.5" x2="458.57" y2="524" stroke="#333" stroke-width="0.5"/>
<line x1="461.3" y1="522.5" x2="461.3" y2="525.1" stroke="#333" stroke-width="0.8"/>
<text x="461.3" y="533.6" font-size="6.2" text-anchor="middle" fill="#444">10<tspan font-size="3.8" dy="-2.2">7</tspan></text>
<text x="371.9" y="541.8" font-size="8.0" text-anchor="middle" fill="#444">On/off ratio (a. u.)</text>
<rect x="288" y="378.2" width="17.9" height="8.6" fill="#7f7f7f"/>
<rect x="288" y="390.2" width="17.9" height="8.6" fill="#ff8080"/>
<text x="310.5" y="385.4" font-size="7.9" fill="#383838" textLength="35" lengthAdjust="spacing">2H MoTe<tspan font-size="4.4" dy="1.5" fill="#666">2</tspan></text>
<text x="310.5" y="397.5" font-size="7.9" fill="#383838" textLength="35" lengthAdjust="spacing">1T’ MoTe<tspan font-size="4.4" dy="1.5" fill="#666">2</tspan></text>
</g>
</svg></body></html>
